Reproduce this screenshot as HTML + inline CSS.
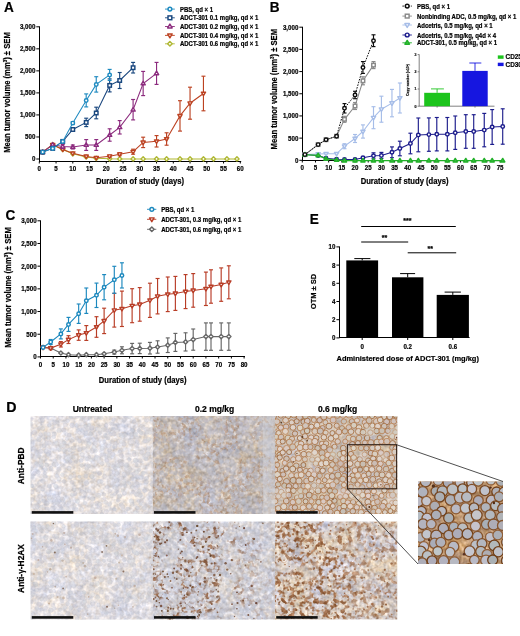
<!DOCTYPE html>
<html><head><meta charset="utf-8"><title>Figure</title>
<style>
html,body{margin:0;padding:0;background:#fff;}
body{width:520px;height:636px;overflow:hidden;}
svg{display:block;}
text{font-family:"Liberation Sans",Arial,sans-serif;font-weight:bold;stroke:#000;stroke-width:0.22px;}
</style></head><body>
<svg width="520" height="636" viewBox="0 0 520 636">
<defs><filter id="jp" x="0" y="0" width="100%" height="100%"><feGaussianBlur stdDeviation="0.28"/></filter></defs>
<rect width="520" height="636" fill="#fff"/>
<defs><filter id="blur5" x="-5%" y="-5%" width="110%" height="110%"><feGaussianBlur stdDeviation="0.5"/></filter><filter id="blur7" x="-5%" y="-5%" width="110%" height="110%"><feGaussianBlur stdDeviation="0.7"/></filter><linearGradient id="gl" x1="0" x2="1" y1="0" y2="0"><stop offset="0" stop-color="#fff"/><stop offset="0.55" stop-color="#e8e8e8"/><stop offset="0.8" stop-color="#666"/><stop offset="1" stop-color="#333"/></linearGradient><linearGradient id="gl3" x1="0" x2="1" y1="0" y2="0"><stop offset="0" stop-color="#fff"/><stop offset="0.5" stop-color="#fff"/><stop offset="0.75" stop-color="#999"/><stop offset="1" stop-color="#aaa"/></linearGradient><filter id="tx0" color-interpolation-filters="sRGB" x="0" y="0" width="100%" height="100%"><feTurbulence type="fractalNoise" baseFrequency="0.25" numOctaves="2" seed="11" result="t1"/><feColorMatrix in="t1" type="matrix" values="0.299 0.100 0 0 0.301  0.299 0.033 0 0 0.334  0.299 -0.066 0 0 0.384  0 0 0 0 1" result="c1"/><feTurbulence type="fractalNoise" baseFrequency="0.045" numOctaves="3" seed="61" result="t2"/><feColorMatrix in="t2" type="matrix" values="0.133 0.100 0 0 0.778  0.133 0.033 0 0 0.791  0.133 -0.100 0 0 0.858  0 0 0 0 1" result="c2"/><feComposite in="c1" in2="c2" operator="arithmetic" k1="0" k2="1" k3="1" k4="-0.5" result="c3"/><feGaussianBlur in="c3" stdDeviation="0.5"/></filter><filter id="tx1" color-interpolation-filters="sRGB" x="0" y="0" width="100%" height="100%"><feTurbulence type="fractalNoise" baseFrequency="0.25" numOctaves="2" seed="18" result="t1"/><feColorMatrix in="t1" type="matrix" values="0.366 0.066 0 0 0.284  0.366 0.000 0 0 0.317  0.366 -0.100 0 0 0.367  0 0 0 0 1" result="c1"/><feTurbulence type="fractalNoise" baseFrequency="0.045" numOctaves="3" seed="68" result="t2"/><feColorMatrix in="t2" type="matrix" values="0.166 0.133 0 0 0.627  0.166 0.033 0 0 0.645  0.166 -0.166 0 0 0.729  0 0 0 0 1" result="c2"/><feComposite in="c1" in2="c2" operator="arithmetic" k1="0" k2="1" k3="1" k4="-0.5" result="c3"/><feGaussianBlur in="c3" stdDeviation="0.5"/></filter><filter id="st1" color-interpolation-filters="sRGB" x="0" y="0" width="100%" height="100%"><feTurbulence type="fractalNoise" baseFrequency="0.28" numOctaves="2" seed="41" result="n"/><feColorMatrix in="n" type="matrix" values="0 0.399 0 0 0.499  0 0.399 0 0 0.350  0 0.399 0 0 0.232  5.000 0 0 0 -2.300" result="blob"/><feComponentTransfer in="blob" result="blob2"><feFuncA type="linear" slope="0.6" intercept="0"/></feComponentTransfer><feTurbulence type="fractalNoise" baseFrequency="0.05" numOctaves="2" seed="58" result="m"/><feColorMatrix in="m" type="matrix" values="0 0 0 0 0  0 0 0 0 0  0 0 0 0 0  5.000 0 0 0 -1.900" result="mask"/><feComposite in="blob2" in2="mask" operator="in" result="res"/><feGaussianBlur in="res" stdDeviation="0.45"/></filter><filter id="tx2" color-interpolation-filters="sRGB" x="0" y="0" width="100%" height="100%"><feTurbulence type="fractalNoise" baseFrequency="0.25" numOctaves="2" seed="25" result="t1"/><feColorMatrix in="t1" type="matrix" values="0.299 0.100 0 0 0.301  0.299 0.033 0 0 0.334  0.299 -0.100 0 0 0.400  0 0 0 0 1" result="c1"/><feTurbulence type="fractalNoise" baseFrequency="0.045" numOctaves="3" seed="75" result="t2"/><feColorMatrix in="t2" type="matrix" values="0.166 0.166 0 0 0.626  0.166 0.066 0 0 0.629  0.166 -0.166 0 0 0.706  0 0 0 0 1" result="c2"/><feComposite in="c1" in2="c2" operator="arithmetic" k1="0" k2="1" k3="1" k4="-0.5" result="c3"/><feGaussianBlur in="c3" stdDeviation="0.5"/></filter><filter id="tx3" color-interpolation-filters="sRGB" x="0" y="0" width="100%" height="100%"><feTurbulence type="fractalNoise" baseFrequency="0.25" numOctaves="2" seed="32" result="t1"/><feColorMatrix in="t1" type="matrix" values="0.299 0.100 0 0 0.301  0.299 0.033 0 0 0.334  0.299 -0.066 0 0 0.384  0 0 0 0 1" result="c1"/><feTurbulence type="fractalNoise" baseFrequency="0.045" numOctaves="3" seed="82" result="t2"/><feColorMatrix in="t2" type="matrix" values="0.133 0.100 0 0 0.778  0.133 0.033 0 0 0.791  0.133 -0.100 0 0 0.858  0 0 0 0 1" result="c2"/><feComposite in="c1" in2="c2" operator="arithmetic" k1="0" k2="1" k3="1" k4="-0.5" result="c3"/><feGaussianBlur in="c3" stdDeviation="0.5"/></filter><filter id="tx4" color-interpolation-filters="sRGB" x="0" y="0" width="100%" height="100%"><feTurbulence type="fractalNoise" baseFrequency="0.25" numOctaves="2" seed="39" result="t1"/><feColorMatrix in="t1" type="matrix" values="0.366 0.066 0 0 0.284  0.366 0.000 0 0 0.317  0.366 -0.100 0 0 0.367  0 0 0 0 1" result="c1"/><feTurbulence type="fractalNoise" baseFrequency="0.045" numOctaves="3" seed="89" result="t2"/><feColorMatrix in="t2" type="matrix" values="0.133 0.100 0 0 0.723  0.133 0.033 0 0 0.744  0.133 -0.100 0 0 0.823  0 0 0 0 1" result="c2"/><feComposite in="c1" in2="c2" operator="arithmetic" k1="0" k2="1" k3="1" k4="-0.5" result="c3"/><feGaussianBlur in="c3" stdDeviation="0.5"/></filter><filter id="st4" color-interpolation-filters="sRGB" x="0" y="0" width="100%" height="100%"><feTurbulence type="fractalNoise" baseFrequency="0.22" numOctaves="2" seed="55" result="n"/><feColorMatrix in="n" type="matrix" values="0 0.532 0 0 0.267  0 0.532 0 0 0.071  0 0.532 0 0 -0.054  6.000 0 0 0 -3.000" result="blob"/><feComponentTransfer in="blob" result="blob2"><feFuncA type="linear" slope="0.9" intercept="0"/></feComponentTransfer><feTurbulence type="fractalNoise" baseFrequency="0.05" numOctaves="2" seed="72" result="m"/><feColorMatrix in="m" type="matrix" values="0 0 0 0 0  0 0 0 0 0  0 0 0 0 0  6.000 0 0 0 -2.280" result="mask"/><feComposite in="blob2" in2="mask" operator="in" result="res"/><feGaussianBlur in="res" stdDeviation="0.45"/></filter><filter id="tx5" color-interpolation-filters="sRGB" x="0" y="0" width="100%" height="100%"><feTurbulence type="fractalNoise" baseFrequency="0.25" numOctaves="2" seed="46" result="t1"/><feColorMatrix in="t1" type="matrix" values="0.366 0.100 0 0 0.267  0.366 0.033 0 0 0.301  0.366 -0.100 0 0 0.367  0 0 0 0 1" result="c1"/><feTurbulence type="fractalNoise" baseFrequency="0.045" numOctaves="3" seed="96" result="t2"/><feColorMatrix in="t2" type="matrix" values="0.166 0.166 0 0 0.681  0.166 0.066 0 0 0.692  0.166 -0.166 0 0 0.784  0 0 0 0 1" result="c2"/><feComposite in="c1" in2="c2" operator="arithmetic" k1="0" k2="1" k3="1" k4="-0.5" result="c3"/><feGaussianBlur in="c3" stdDeviation="0.5"/></filter><filter id="st5" color-interpolation-filters="sRGB" x="0" y="0" width="100%" height="100%"><feTurbulence type="fractalNoise" baseFrequency="0.21" numOctaves="2" seed="63" result="n"/><feColorMatrix in="n" type="matrix" values="0 0.598 0 0 0.289  0 0.598 0 0 0.077  0 0.598 0 0 -0.072  5.500 0 0 0 -2.585" result="blob"/><feComponentTransfer in="blob" result="blob2"><feFuncA type="linear" slope="0.88" intercept="0"/></feComponentTransfer><feTurbulence type="fractalNoise" baseFrequency="0.05" numOctaves="2" seed="80" result="m"/><feColorMatrix in="m" type="matrix" values="0 0 0 0 0  0 0 0 0 0  0 0 0 0 0  5.000 0 0 0 -1.300" result="mask"/><feComposite in="blob2" in2="mask" operator="in" result="res"/><feGaussianBlur in="res" stdDeviation="0.45"/></filter><filter id="txI" color-interpolation-filters="sRGB" x="0" y="0" width="100%" height="100%"><feTurbulence type="fractalNoise" baseFrequency="0.25" numOctaves="2" seed="77" result="t1"/><feColorMatrix in="t1" type="matrix" values="0.399 0.100 0 0 0.251  0.399 0.033 0 0 0.284  0.399 -0.100 0 0 0.350  0 0 0 0 1" result="c1"/><feTurbulence type="fractalNoise" baseFrequency="0.045" numOctaves="3" seed="127" result="t2"/><feColorMatrix in="t2" type="matrix" values="0.266 0.166 0 0 0.537  0.266 0.066 0 0 0.446  0.266 -0.166 0 0 0.429  0 0 0 0 1" result="c2"/><feComposite in="c1" in2="c2" operator="arithmetic" k1="0" k2="1" k3="1" k4="-0.5" result="c3"/><feGaussianBlur in="c3" stdDeviation="0.5"/></filter></defs><clipPath id="cp0"><rect x="30.6" y="416.0" width="122.3" height="98.0"/></clipPath><g clip-path="url(#cp0)"><rect x="30.6" y="416.0" width="122.3" height="98.0" filter="url(#tx0)"/><g filter="url(#blur5)"><g opacity="0.45"><g stroke="#b2b6c8" stroke-width="0.5"><circle cx="27.6" cy="409.9" r="1.9" fill="#d1d5dd"/><circle cx="31.8" cy="410.7" r="1.8" fill="#d2d5e2"/><circle cx="39.5" cy="411.8" r="2.3" fill="#c7c9d8"/><circle cx="49.6" cy="412.5" r="2.2" fill="#c6cad4"/><circle cx="57" cy="413" r="2.1" fill="#d0d4e2"/><circle cx="62.9" cy="410.7" r="2.2" fill="#ced3df"/><circle cx="72.9" cy="410.6" r="1.7" fill="#cbd1de"/><circle cx="77" cy="412.9" r="2" fill="#d3d7e1"/><circle cx="83.1" cy="411.2" r="2.3" fill="#cdcfdb"/><circle cx="86.6" cy="412.6" r="1.9" fill="#c9ccd7"/><circle cx="92.4" cy="411.6" r="1.8" fill="#c6c9d4"/><circle cx="101.8" cy="409.9" r="1.8" fill="#c9ccd3"/><circle cx="117.5" cy="412" r="1.9" fill="#cbcbda"/><circle cx="123.5" cy="410.8" r="2" fill="#cbcedc"/><circle cx="126.7" cy="410.3" r="1.8" fill="#c6c8d1"/><circle cx="132.5" cy="412.5" r="1.8" fill="#cacbd7"/><circle cx="142.1" cy="410.3" r="1.7" fill="#ccd2db"/><circle cx="149.8" cy="412.6" r="2.3" fill="#c4c7d6"/><circle cx="151.6" cy="411.6" r="1.9" fill="#cad0d7"/><circle cx="158.3" cy="411.5" r="1.7" fill="#d4d7e4"/><circle cx="25" cy="415" r="2.3" fill="#d4d8e1"/><circle cx="50.9" cy="414.6" r="2.3" fill="#d0d5de"/><circle cx="60.5" cy="417.5" r="2.2" fill="#d3d2df"/><circle cx="71.4" cy="416.5" r="2" fill="#ccd0d9"/><circle cx="77" cy="416.4" r="2.2" fill="#ccccda"/><circle cx="80.5" cy="415.7" r="1.8" fill="#c6cfd5"/><circle cx="89.9" cy="417.2" r="1.9" fill="#c6cad1"/><circle cx="95.8" cy="417" r="2.2" fill="#cacbd5"/><circle cx="100.6" cy="417.5" r="2.2" fill="#c7ced4"/><circle cx="125.4" cy="415.9" r="2.3" fill="#c5c6d2"/><circle cx="129.3" cy="416.5" r="2.3" fill="#c4c9d3"/><circle cx="145.8" cy="415.6" r="1.9" fill="#c7ced4"/><circle cx="154.5" cy="416.2" r="2.2" fill="#cccdd9"/><circle cx="28.9" cy="421.4" r="1.7" fill="#d4d5e2"/><circle cx="31.5" cy="419.1" r="1.7" fill="#d0cedd"/><circle cx="39.7" cy="420.8" r="1.8" fill="#d6d6e3"/><circle cx="42.4" cy="420" r="2.2" fill="#d4d4e0"/><circle cx="67.7" cy="420.8" r="1.7" fill="#d1d3df"/><circle cx="84.5" cy="420.3" r="2" fill="#c7ccd6"/><circle cx="86.4" cy="418.9" r="2.3" fill="#d2d0df"/><circle cx="113.6" cy="419.6" r="1.9" fill="#c5c7d7"/><circle cx="124" cy="420.2" r="2.2" fill="#c5c7d3"/><circle cx="134.3" cy="421.4" r="1.9" fill="#c7c8d4"/><circle cx="146.6" cy="420" r="2.2" fill="#d4d5e2"/><circle cx="152.1" cy="419" r="2" fill="#cdd3df"/><circle cx="157.5" cy="421.4" r="2" fill="#d0d3df"/><circle cx="26.9" cy="423.9" r="1.8" fill="#cacdda"/><circle cx="30.8" cy="423.8" r="2.1" fill="#ced4dc"/><circle cx="49.4" cy="425.2" r="1.7" fill="#d5d8df"/><circle cx="54.6" cy="423.4" r="1.7" fill="#c7c7d3"/><circle cx="65.3" cy="425" r="2.1" fill="#d2d2e0"/><circle cx="72" cy="425.3" r="2.2" fill="#d0d1e1"/><circle cx="76.7" cy="425.5" r="2" fill="#ccd0dd"/><circle cx="85.4" cy="426.1" r="1.8" fill="#cad0da"/><circle cx="89" cy="425.1" r="1.8" fill="#d0d7e0"/><circle cx="106.2" cy="425.4" r="2" fill="#d0cfdb"/><circle cx="110.4" cy="423.5" r="1.8" fill="#d0d1db"/><circle cx="141.2" cy="426.2" r="1.8" fill="#d1d4dd"/><circle cx="39.2" cy="428.3" r="1.8" fill="#c9cdda"/><circle cx="42.6" cy="428.6" r="2" fill="#d3d7dd"/><circle cx="59" cy="430.5" r="2.3" fill="#d1d6dd"/><circle cx="63.6" cy="430" r="2.2" fill="#c6c6d5"/><circle cx="78.3" cy="430.9" r="2.2" fill="#cad0db"/><circle cx="82" cy="430.8" r="1.8" fill="#c3c8d3"/><circle cx="87.9" cy="428.5" r="2.3" fill="#ced0da"/><circle cx="91.8" cy="427.9" r="2.2" fill="#cdccda"/><circle cx="97.4" cy="429.1" r="2.1" fill="#d0d6df"/><circle cx="102.7" cy="429.6" r="2" fill="#c6cbd2"/><circle cx="107.2" cy="430.2" r="1.7" fill="#cac9d3"/><circle cx="113.4" cy="429.5" r="2.1" fill="#c7c8d6"/><circle cx="132.5" cy="430.5" r="2" fill="#c6ccd8"/><circle cx="139" cy="430.4" r="2" fill="#c4c9d4"/><circle cx="143.3" cy="427.8" r="2" fill="#c9cdda"/><circle cx="146.4" cy="429.5" r="2.2" fill="#c9cddb"/><circle cx="151.7" cy="429.6" r="2.3" fill="#cfd0dd"/><circle cx="30.1" cy="434.2" r="1.8" fill="#c8ccd4"/><circle cx="34.3" cy="432.6" r="2.2" fill="#d6d4e0"/><circle cx="40.6" cy="434.7" r="1.9" fill="#cfceda"/><circle cx="46.1" cy="434" r="2.1" fill="#cbced8"/><circle cx="49" cy="434.3" r="1.9" fill="#c7cfda"/><circle cx="54.3" cy="434.3" r="2.2" fill="#ced2dc"/><circle cx="66.8" cy="434.3" r="1.7" fill="#d5d7e4"/><circle cx="69.2" cy="435.1" r="1.9" fill="#c9cad9"/><circle cx="79.4" cy="432.7" r="1.7" fill="#d2d3e1"/><circle cx="85.9" cy="433.3" r="2.2" fill="#d3d5df"/><circle cx="90.7" cy="434" r="2.1" fill="#c7ced9"/><circle cx="100.1" cy="432.8" r="1.8" fill="#c4cad4"/><circle cx="105.2" cy="435.3" r="1.9" fill="#c8ccd4"/><circle cx="110.3" cy="434.4" r="1.9" fill="#c4c6d3"/><circle cx="114.2" cy="433.9" r="2.2" fill="#cbcad9"/><circle cx="121.1" cy="435.3" r="2.2" fill="#d0d6dc"/><circle cx="124.9" cy="435" r="2.2" fill="#c8cdd5"/><circle cx="131.4" cy="434.4" r="2.1" fill="#c8cbd3"/><circle cx="136" cy="434.8" r="2.2" fill="#cdd2da"/><circle cx="141" cy="432.7" r="2" fill="#c5ccd3"/><circle cx="147.1" cy="432.2" r="2.1" fill="#c6cad4"/><circle cx="150" cy="432.6" r="2.1" fill="#caced7"/><circle cx="154.1" cy="434" r="1.7" fill="#d3d7e2"/><circle cx="39" cy="439.4" r="2.2" fill="#cbcdd5"/><circle cx="43.4" cy="437.1" r="1.9" fill="#c8cbd5"/><circle cx="48.7" cy="438.1" r="1.7" fill="#cdd0d8"/><circle cx="53.9" cy="436.9" r="1.8" fill="#ced4e1"/><circle cx="67.2" cy="438.8" r="1.9" fill="#d3d5e1"/><circle cx="72.9" cy="439.7" r="2.2" fill="#d1d3de"/><circle cx="76.9" cy="438" r="1.8" fill="#cbcbd9"/><circle cx="87.7" cy="439.5" r="2.2" fill="#cacdd9"/><circle cx="93.6" cy="439.3" r="1.8" fill="#d3d2df"/><circle cx="107.9" cy="438" r="1.9" fill="#c8cdda"/><circle cx="148.5" cy="439.4" r="2.1" fill="#cbd2dc"/><circle cx="25.2" cy="443.6" r="1.9" fill="#c6ccd8"/><circle cx="31.5" cy="442.3" r="2.3" fill="#cbcfdb"/><circle cx="47.1" cy="442.7" r="2.3" fill="#ccccda"/><circle cx="49.2" cy="443" r="2.2" fill="#cbcfde"/><circle cx="56.7" cy="443.4" r="2.2" fill="#cbd0da"/><circle cx="64.2" cy="442.4" r="1.8" fill="#cdd6e0"/><circle cx="71.9" cy="440.8" r="1.8" fill="#cacad4"/><circle cx="79.6" cy="440.7" r="2" fill="#cccddc"/><circle cx="89" cy="443.6" r="2.2" fill="#c8d0d7"/><circle cx="95.3" cy="443.2" r="2.2" fill="#d6d5e0"/><circle cx="104.2" cy="441.7" r="1.8" fill="#c4c7d2"/><circle cx="112" cy="441.8" r="2.1" fill="#c7c8d2"/><circle cx="115.3" cy="443.5" r="1.9" fill="#ccccda"/><circle cx="121.3" cy="441.6" r="2.1" fill="#cdd1db"/><circle cx="124.3" cy="444.1" r="2.2" fill="#c7cbd9"/><circle cx="132.3" cy="441.7" r="1.9" fill="#cbccd7"/><circle cx="137" cy="441.8" r="1.8" fill="#d1d1de"/><circle cx="144.8" cy="440.9" r="1.9" fill="#d0d1de"/><circle cx="29.2" cy="447.5" r="2.1" fill="#cacad7"/><circle cx="31.6" cy="445.4" r="2.1" fill="#ced2de"/><circle cx="44.1" cy="445.7" r="2" fill="#cbcdd8"/><circle cx="61.6" cy="445.5" r="2.3" fill="#c9ced8"/><circle cx="73.6" cy="448" r="2.2" fill="#d5d8e1"/><circle cx="83.9" cy="448.2" r="2" fill="#ccccd4"/><circle cx="88" cy="446.4" r="2" fill="#cdd1d8"/><circle cx="93.9" cy="447.1" r="2.1" fill="#d1d7de"/><circle cx="102.2" cy="448.3" r="2.2" fill="#cfd2d9"/><circle cx="108.6" cy="446" r="2.2" fill="#d5d6e2"/><circle cx="114.7" cy="446.4" r="2.2" fill="#c6c9d8"/><circle cx="136.4" cy="445.1" r="2.1" fill="#cbccd9"/><circle cx="148.5" cy="448.4" r="2.1" fill="#c7cbd6"/><circle cx="25.8" cy="450.5" r="1.8" fill="#d0d3dc"/><circle cx="37" cy="452.3" r="1.8" fill="#ceced8"/><circle cx="40.5" cy="451.4" r="2.3" fill="#c8c6d0"/><circle cx="46.2" cy="451.1" r="2.2" fill="#d3d6e1"/><circle cx="48.9" cy="452.9" r="2.2" fill="#d3d1de"/><circle cx="59.6" cy="449.5" r="1.9" fill="#cfd6dd"/><circle cx="64.3" cy="450.3" r="1.9" fill="#d0d4dc"/><circle cx="69.6" cy="449.8" r="2.1" fill="#d0d5e0"/><circle cx="79.8" cy="449.6" r="2.2" fill="#c2c4d5"/><circle cx="87.3" cy="450.9" r="1.7" fill="#d6d6e1"/><circle cx="91.8" cy="451" r="2.3" fill="#d1d0db"/><circle cx="95.6" cy="450.8" r="1.9" fill="#c5c9d3"/><circle cx="109.4" cy="450.3" r="2" fill="#c7c5cf"/><circle cx="120" cy="451.5" r="1.8" fill="#c2c5d4"/><circle cx="133.9" cy="452.2" r="1.9" fill="#c2c7d6"/><circle cx="141.6" cy="452.4" r="2.1" fill="#ccccda"/><circle cx="155.7" cy="452.9" r="1.9" fill="#d0cfda"/><circle cx="31.5" cy="455.8" r="1.9" fill="#cbccd9"/><circle cx="39.1" cy="456.2" r="1.9" fill="#c5c9d6"/><circle cx="48" cy="454.2" r="1.9" fill="#d1d4e0"/><circle cx="59" cy="457.2" r="2.1" fill="#d3d6de"/><circle cx="68.7" cy="456.3" r="1.9" fill="#ced1da"/><circle cx="73.1" cy="457.1" r="2.2" fill="#c4c9d2"/><circle cx="82.2" cy="454.5" r="2.1" fill="#d0d3de"/><circle cx="89" cy="457.3" r="1.9" fill="#cacad5"/><circle cx="96.6" cy="457.1" r="2.1" fill="#c7cad9"/><circle cx="101.9" cy="454.6" r="1.9" fill="#c6c7d5"/><circle cx="109.4" cy="455.8" r="2.3" fill="#c7cdd5"/><circle cx="112.7" cy="454.3" r="2.2" fill="#cecedb"/><circle cx="121.4" cy="455.7" r="2.1" fill="#cdccdc"/><circle cx="134.3" cy="454.8" r="1.9" fill="#d0cfdb"/><circle cx="144.4" cy="455.5" r="1.9" fill="#cbceda"/><circle cx="147.9" cy="453.9" r="2.2" fill="#d1d6de"/><circle cx="154.2" cy="454" r="1.8" fill="#c2c7d1"/><circle cx="26.6" cy="459.3" r="1.9" fill="#cdd0db"/><circle cx="41" cy="460.9" r="2.1" fill="#ccd0d8"/><circle cx="55" cy="460.9" r="2.1" fill="#d3d7e4"/><circle cx="67.3" cy="460.4" r="1.9" fill="#cbd0d6"/><circle cx="70.6" cy="461.5" r="1.8" fill="#c9c9d8"/><circle cx="81.1" cy="460.4" r="1.9" fill="#d2d5e2"/><circle cx="87.3" cy="459" r="1.9" fill="#c8cdd9"/><circle cx="91" cy="460.1" r="1.8" fill="#cfd4da"/><circle cx="95.9" cy="458.6" r="1.8" fill="#cad1dc"/><circle cx="99.2" cy="461.1" r="2.3" fill="#cfd1de"/><circle cx="106.8" cy="460.3" r="1.9" fill="#cccbdb"/><circle cx="120.2" cy="461.5" r="1.9" fill="#cccbd5"/><circle cx="129.2" cy="459.4" r="1.8" fill="#cfd3db"/><circle cx="135.4" cy="460.5" r="2.3" fill="#cdd2dc"/><circle cx="140.4" cy="460.9" r="2" fill="#c9c9d5"/><circle cx="146.1" cy="458.8" r="2.1" fill="#c2c8d1"/><circle cx="155.4" cy="460.6" r="2" fill="#d2d3de"/><circle cx="36.5" cy="463.5" r="2" fill="#c5ccd8"/><circle cx="41.5" cy="465" r="2.2" fill="#c2cad5"/><circle cx="46.7" cy="464.9" r="2.1" fill="#c5c9d0"/><circle cx="54.5" cy="464.5" r="2.2" fill="#c9cdd7"/><circle cx="56.7" cy="464.2" r="1.8" fill="#d1d2de"/><circle cx="62.3" cy="465.3" r="1.7" fill="#d3d3dd"/><circle cx="81.6" cy="465.6" r="1.8" fill="#cacfd6"/><circle cx="88.4" cy="466" r="1.9" fill="#ced5de"/><circle cx="102.2" cy="463.6" r="2" fill="#cfd3df"/><circle cx="108.3" cy="464.8" r="2.1" fill="#d1d4e0"/><circle cx="113.9" cy="465.8" r="2.1" fill="#cbcdd8"/><circle cx="118.2" cy="465.8" r="2.3" fill="#cdd1d7"/><circle cx="122" cy="464.5" r="2.1" fill="#d5d5e3"/><circle cx="126.7" cy="465.5" r="2.3" fill="#c7cdd3"/><circle cx="136.4" cy="464.9" r="1.7" fill="#cdd2dd"/><circle cx="153.5" cy="464.6" r="2.1" fill="#d1d4dc"/><circle cx="30.3" cy="469" r="2.1" fill="#d1d4dd"/><circle cx="45.5" cy="469.3" r="2" fill="#cfd3de"/><circle cx="51" cy="468.3" r="2" fill="#cfd2de"/><circle cx="59.1" cy="469" r="2" fill="#cacbd8"/><circle cx="69.1" cy="468.4" r="2.1" fill="#d2d7e4"/><circle cx="86.8" cy="468.6" r="1.7" fill="#d1d4dc"/><circle cx="115.3" cy="467.5" r="2" fill="#c4cad3"/><circle cx="126" cy="469.3" r="1.7" fill="#ced2e0"/><circle cx="129.3" cy="468.5" r="2.1" fill="#ced1d7"/><circle cx="139" cy="469.8" r="1.7" fill="#cbd1da"/><circle cx="29.4" cy="474.2" r="2.1" fill="#c9c8d3"/><circle cx="34.4" cy="473.2" r="2" fill="#c9c8d8"/><circle cx="38.6" cy="472.5" r="1.9" fill="#d6d6e0"/><circle cx="44.8" cy="472.9" r="1.7" fill="#cbccd8"/><circle cx="57.7" cy="472.4" r="1.9" fill="#c7cbd5"/><circle cx="62.4" cy="474.8" r="1.9" fill="#cfd5df"/><circle cx="99.7" cy="473.5" r="2.1" fill="#c7c5d1"/><circle cx="113.8" cy="472.4" r="1.9" fill="#d1d0df"/><circle cx="117.2" cy="473.3" r="2" fill="#cfd3df"/><circle cx="124.5" cy="474.5" r="2.3" fill="#d2d6e0"/><circle cx="127.9" cy="473.1" r="1.9" fill="#c7cad8"/><circle cx="133.5" cy="473.6" r="1.8" fill="#cac9d8"/><circle cx="136.5" cy="472.4" r="2" fill="#c5cdd3"/><circle cx="143.1" cy="473.2" r="2" fill="#d3d9e2"/><circle cx="158.5" cy="472.5" r="2" fill="#c3c9d3"/><circle cx="25" cy="476.4" r="2" fill="#cbcad8"/><circle cx="32.1" cy="477.2" r="1.8" fill="#c7ccd8"/><circle cx="45" cy="476.3" r="2" fill="#c7c9d5"/><circle cx="56.9" cy="476" r="2.1" fill="#d1d4e0"/><circle cx="58.9" cy="479" r="2" fill="#d6d9e2"/><circle cx="70.5" cy="476.8" r="2" fill="#d5d9e3"/><circle cx="74.4" cy="475.9" r="1.7" fill="#d5d3df"/><circle cx="79.4" cy="476.8" r="1.7" fill="#c3cbd3"/><circle cx="85.9" cy="476" r="2.1" fill="#c9ccd2"/><circle cx="91.8" cy="476.4" r="2.2" fill="#cfd5dc"/><circle cx="104.6" cy="476.3" r="2" fill="#cbccd9"/><circle cx="111.1" cy="477.1" r="1.9" fill="#c6cdd6"/><circle cx="121.3" cy="478.3" r="2.2" fill="#d3d2df"/><circle cx="131.8" cy="479" r="2.1" fill="#cbcad4"/><circle cx="137" cy="476.7" r="1.8" fill="#d2d5e1"/><circle cx="141.2" cy="477.2" r="2.3" fill="#cdd0dd"/><circle cx="146.5" cy="478.5" r="2.1" fill="#d0d4df"/><circle cx="152.3" cy="477.1" r="1.8" fill="#caccdb"/><circle cx="156.1" cy="477.5" r="1.8" fill="#c6c6d5"/><circle cx="27.2" cy="482.1" r="1.8" fill="#ccd0d9"/><circle cx="43" cy="481" r="2.3" fill="#c7cad3"/><circle cx="53.4" cy="481.7" r="2.2" fill="#c9cbd8"/><circle cx="64" cy="481.4" r="1.8" fill="#c5c7d3"/><circle cx="72" cy="482.2" r="1.9" fill="#cecfde"/><circle cx="86.4" cy="483.2" r="2.2" fill="#d1d3e1"/><circle cx="99.5" cy="481.6" r="2.1" fill="#cfd3e0"/><circle cx="101.5" cy="481.7" r="1.8" fill="#c3c7d1"/><circle cx="116.5" cy="480.6" r="2.2" fill="#d4d8e1"/><circle cx="123.8" cy="482.9" r="2.3" fill="#c7cad1"/><circle cx="129.3" cy="483.1" r="1.7" fill="#c5c9d6"/><circle cx="136.8" cy="483.4" r="2" fill="#cecfd9"/><circle cx="146.4" cy="481.9" r="2.2" fill="#c5c8d4"/><circle cx="31.7" cy="485.8" r="1.9" fill="#ccd3dd"/><circle cx="39.4" cy="487.6" r="1.8" fill="#c6c7d2"/><circle cx="49.3" cy="486.1" r="2.1" fill="#c5cbd7"/><circle cx="55.8" cy="486.3" r="2.2" fill="#c8cfd8"/><circle cx="61.1" cy="487.6" r="1.8" fill="#d2d5dd"/><circle cx="107.2" cy="487.1" r="2" fill="#ced0df"/><circle cx="115.4" cy="487.7" r="2.2" fill="#cbcfd7"/><circle cx="125.5" cy="486.1" r="1.7" fill="#d0d7e0"/><circle cx="132.1" cy="487.3" r="1.7" fill="#cfd4dc"/><circle cx="136.1" cy="487.7" r="1.8" fill="#d2d0dd"/><circle cx="152.1" cy="484.7" r="1.9" fill="#cccfd9"/><circle cx="28.2" cy="492.4" r="1.9" fill="#c5c8d2"/><circle cx="31.6" cy="492" r="2.2" fill="#d6d4e1"/><circle cx="38.2" cy="490" r="2.3" fill="#d4d6e0"/><circle cx="42.7" cy="489.2" r="1.9" fill="#c3c8d3"/><circle cx="74.1" cy="489.8" r="1.9" fill="#cfd4de"/><circle cx="81.9" cy="491.5" r="1.9" fill="#d1d4e1"/><circle cx="89" cy="491.2" r="1.9" fill="#cacfdd"/><circle cx="109.8" cy="490.9" r="1.8" fill="#d2d2e0"/><circle cx="116.4" cy="491.5" r="2" fill="#c8c8d4"/><circle cx="122.7" cy="490.8" r="1.8" fill="#c4ccd5"/><circle cx="132.9" cy="491.9" r="1.7" fill="#cbcad7"/><circle cx="138.8" cy="491.3" r="2" fill="#c7ccd4"/><circle cx="144.4" cy="490.6" r="1.9" fill="#c8cad8"/><circle cx="152.9" cy="492.1" r="1.8" fill="#c5c8d4"/><circle cx="157.4" cy="490.4" r="2" fill="#c6c9d0"/><circle cx="40.2" cy="496.3" r="2.3" fill="#ccccd6"/><circle cx="48.9" cy="496.7" r="2.1" fill="#cacddd"/><circle cx="54.2" cy="496.6" r="1.9" fill="#d0d2df"/><circle cx="72.3" cy="494.6" r="1.9" fill="#cfd7dd"/><circle cx="75" cy="493.8" r="2" fill="#cfcedc"/><circle cx="84.7" cy="493.5" r="1.9" fill="#d1d3dd"/><circle cx="97.3" cy="495.1" r="2.1" fill="#c9ccd8"/><circle cx="99" cy="495.4" r="2.1" fill="#c9ced7"/><circle cx="103.9" cy="494.6" r="1.8" fill="#ccced7"/><circle cx="111.6" cy="496" r="1.8" fill="#d0d6e1"/><circle cx="114.9" cy="494.1" r="1.8" fill="#d2d5df"/><circle cx="119.3" cy="496.1" r="2.3" fill="#c5cbd7"/><circle cx="124.4" cy="493.5" r="1.9" fill="#d4d6e3"/><circle cx="136.6" cy="494.3" r="2.1" fill="#c8ccd9"/><circle cx="140.3" cy="495.3" r="2.2" fill="#c5c9d2"/><circle cx="150.3" cy="493.5" r="1.9" fill="#cbceda"/><circle cx="31.7" cy="499.5" r="2.3" fill="#c8cbd4"/><circle cx="38" cy="499.2" r="1.9" fill="#d5d3e0"/><circle cx="43.6" cy="500.9" r="1.7" fill="#d0d4df"/><circle cx="49.7" cy="498.2" r="2" fill="#caced6"/><circle cx="54.1" cy="500.8" r="1.8" fill="#d4d6e2"/><circle cx="58.4" cy="498.2" r="2.1" fill="#d0d2df"/><circle cx="62.3" cy="499.4" r="2.3" fill="#c9ccd7"/><circle cx="77.5" cy="501.2" r="2.2" fill="#cbd2da"/><circle cx="92.5" cy="498.8" r="2.3" fill="#c8ccd5"/><circle cx="104.4" cy="498.5" r="1.7" fill="#d5d4e4"/><circle cx="118.4" cy="500.5" r="1.9" fill="#c7c8d3"/><circle cx="131.4" cy="501" r="2.3" fill="#cfd5df"/><circle cx="139.4" cy="501.2" r="2.2" fill="#d4d5df"/><circle cx="141.4" cy="501.1" r="2.2" fill="#c5c4d0"/><circle cx="157.4" cy="498.5" r="2" fill="#c3c4d4"/><circle cx="24.4" cy="504.5" r="1.8" fill="#c8c7d3"/><circle cx="30.1" cy="503.2" r="1.8" fill="#c4c7d5"/><circle cx="39.3" cy="502.3" r="1.7" fill="#ccd0da"/><circle cx="47.1" cy="503.4" r="2.2" fill="#c6c7d0"/><circle cx="57.2" cy="503.3" r="2.1" fill="#c5c9d5"/><circle cx="60" cy="505.7" r="2" fill="#cecdda"/><circle cx="65.3" cy="505.5" r="1.8" fill="#c8ccd9"/><circle cx="69" cy="502.7" r="1.9" fill="#c7cad5"/><circle cx="74.4" cy="505.7" r="1.8" fill="#cacfd8"/><circle cx="84.8" cy="502.9" r="1.9" fill="#cdd1d9"/><circle cx="91.7" cy="503.1" r="2.1" fill="#cccbd8"/><circle cx="96.8" cy="503.4" r="2.2" fill="#cdcdda"/><circle cx="99.8" cy="504.4" r="2" fill="#ced5dc"/><circle cx="105.9" cy="502.4" r="2" fill="#ccd0d8"/><circle cx="109.7" cy="504" r="2" fill="#c4cad6"/><circle cx="121.1" cy="504.6" r="2.1" fill="#c9cad7"/><circle cx="132" cy="504.5" r="2.1" fill="#cfd3dc"/><circle cx="140.5" cy="504.5" r="1.7" fill="#ccd3dc"/><circle cx="150.2" cy="502.6" r="1.7" fill="#c7ccd9"/><circle cx="156.4" cy="503.9" r="2.2" fill="#cacdd4"/><circle cx="37.2" cy="506.8" r="2.1" fill="#d0d4e3"/><circle cx="41.5" cy="506.8" r="1.8" fill="#c4ccd5"/><circle cx="47.3" cy="509.1" r="2.2" fill="#d5d6e0"/><circle cx="52.8" cy="508.6" r="2.3" fill="#d2d4e1"/><circle cx="63.2" cy="510.1" r="2.2" fill="#c4c8d3"/><circle cx="67.5" cy="508.5" r="2" fill="#cbced7"/><circle cx="74.1" cy="508.6" r="1.8" fill="#cbcfde"/><circle cx="76.4" cy="509.5" r="2" fill="#cfd2de"/><circle cx="81.5" cy="509.5" r="2.1" fill="#d1d2de"/><circle cx="92.8" cy="509.3" r="2.2" fill="#c9cfda"/><circle cx="99.6" cy="507.1" r="2.3" fill="#cbccdb"/><circle cx="114.4" cy="509.2" r="1.8" fill="#c4cad5"/><circle cx="122.8" cy="506.9" r="2.2" fill="#c9cad5"/><circle cx="127.7" cy="509.1" r="2" fill="#ced1dd"/><circle cx="137.3" cy="507.9" r="1.9" fill="#ced1db"/><circle cx="144.1" cy="508.1" r="2.1" fill="#d2d7e0"/><circle cx="151.9" cy="508.4" r="2.1" fill="#d1d2d9"/><circle cx="157" cy="509.7" r="2.1" fill="#d5d3e1"/><circle cx="25.4" cy="512.4" r="2" fill="#d3d3df"/><circle cx="30.6" cy="513.4" r="1.9" fill="#c7ccd8"/><circle cx="43.9" cy="513.8" r="1.9" fill="#ccd3e0"/><circle cx="55.4" cy="513.4" r="2" fill="#cfcfdc"/><circle cx="96.8" cy="514.5" r="1.8" fill="#d4d6de"/><circle cx="101.8" cy="514.3" r="2.1" fill="#c5c9d6"/><circle cx="106.4" cy="511.6" r="2.1" fill="#d2d3e0"/><circle cx="124.2" cy="513" r="1.8" fill="#d2d1dd"/><circle cx="135.3" cy="512.4" r="2" fill="#d1d9e0"/><circle cx="146.2" cy="513.8" r="2.3" fill="#d3d6de"/><circle cx="156.4" cy="511.8" r="2.1" fill="#caccd6"/><circle cx="27.7" cy="515.7" r="2.1" fill="#c7ced5"/><circle cx="32.5" cy="518.3" r="2.3" fill="#c9ccd9"/><circle cx="47" cy="518.2" r="2.1" fill="#ced1dd"/><circle cx="57.8" cy="517" r="2.2" fill="#cfd2dd"/><circle cx="68.4" cy="518.6" r="1.8" fill="#c6cad5"/><circle cx="74" cy="518" r="1.9" fill="#c5c8d2"/><circle cx="79.2" cy="517" r="1.7" fill="#ced2de"/><circle cx="82.1" cy="516" r="1.7" fill="#d2d5e0"/><circle cx="99.6" cy="517.9" r="2.1" fill="#ced3df"/><circle cx="102.3" cy="517.2" r="2" fill="#c2cbd6"/><circle cx="109.6" cy="517.5" r="2.1" fill="#c6c8cf"/><circle cx="116.7" cy="517" r="1.9" fill="#c8cbd4"/><circle cx="122.8" cy="518.3" r="1.7" fill="#cbcfdb"/><circle cx="152.6" cy="516.8" r="1.9" fill="#c7cad8"/></g></g></g></g><clipPath id="cp1"><rect x="152.8" y="416.0" width="122.3" height="98.0"/></clipPath><g clip-path="url(#cp1)"><rect x="152.8" y="416.0" width="122.3" height="98.0" filter="url(#tx1)"/><rect x="152.8" y="416.0" width="122.3" height="98.0" filter="url(#st1)"/><g filter="url(#blur5)"><g opacity="0.45"><g stroke="#b2b6c8" stroke-width="0.5"><circle cx="151.3" cy="411.6" r="2" fill="#b5b4c9"/><circle cx="160.1" cy="411.8" r="2.3" fill="#bcc0d2"/><circle cx="181.1" cy="411.5" r="2.3" fill="#b9c1d0"/><circle cx="191.8" cy="411.9" r="1.7" fill="#bcbccd"/><circle cx="194.6" cy="413.1" r="1.9" fill="#afb5c1"/><circle cx="205.6" cy="410.8" r="2.2" fill="#b3b7c9"/><circle cx="209.4" cy="411.5" r="1.8" fill="#b8bacd"/><circle cx="221.9" cy="411.9" r="2" fill="#b8b7c6"/><circle cx="224.1" cy="410.3" r="2.1" fill="#b6b7c8"/><circle cx="231.4" cy="409.9" r="1.9" fill="#bec2cf"/><circle cx="234.7" cy="412.1" r="2" fill="#b7b7ca"/><circle cx="241.9" cy="411.7" r="1.9" fill="#bab9ca"/><circle cx="250" cy="411.1" r="2.2" fill="#b4b6c9"/><circle cx="254" cy="410" r="2.3" fill="#afb1c1"/><circle cx="261.9" cy="411.5" r="2" fill="#bbb8ca"/><circle cx="271.6" cy="411.8" r="2.3" fill="#c0bed0"/><circle cx="275.7" cy="410.4" r="1.8" fill="#b9b7cb"/><circle cx="280.6" cy="412" r="1.8" fill="#bcbbcf"/><circle cx="153.1" cy="414.3" r="2" fill="#c3bfd5"/><circle cx="156.7" cy="415" r="2.1" fill="#bdc1cf"/><circle cx="163.9" cy="415.8" r="2.3" fill="#b2b9c9"/><circle cx="169.1" cy="414.9" r="2.2" fill="#b9bacd"/><circle cx="174.2" cy="415" r="1.9" fill="#afb5c5"/><circle cx="177.9" cy="414.9" r="1.7" fill="#babfd0"/><circle cx="181.5" cy="414.9" r="2.3" fill="#bbbccd"/><circle cx="186.9" cy="415" r="1.9" fill="#b9b8c9"/><circle cx="191.4" cy="415.8" r="2.1" fill="#bcbed1"/><circle cx="197.1" cy="416.5" r="1.9" fill="#b3b4c1"/><circle cx="203.1" cy="416.7" r="2.3" fill="#b1b4c0"/><circle cx="224.1" cy="417.3" r="2" fill="#b3b4c4"/><circle cx="231.2" cy="417.4" r="2.1" fill="#bbbace"/><circle cx="241.7" cy="416.2" r="1.8" fill="#c1bfd0"/><circle cx="248.3" cy="417.3" r="2" fill="#bbc1d2"/><circle cx="254.1" cy="416.7" r="1.7" fill="#b3b0c4"/><circle cx="264" cy="416.1" r="2.1" fill="#b5b7c5"/><circle cx="267.6" cy="417.5" r="2.2" fill="#b4b5c6"/><circle cx="272.9" cy="416.1" r="1.8" fill="#babccc"/><circle cx="277.5" cy="417.3" r="2" fill="#bdc4ce"/><circle cx="150.4" cy="420.5" r="2.1" fill="#bdbcd1"/><circle cx="165" cy="421.9" r="2" fill="#babcc8"/><circle cx="176.4" cy="418.7" r="1.8" fill="#b7bac6"/><circle cx="185.9" cy="420.3" r="1.8" fill="#b6bbc8"/><circle cx="201.1" cy="420.2" r="1.8" fill="#bbbece"/><circle cx="205.8" cy="420.4" r="2.1" fill="#b6b4c6"/><circle cx="210.7" cy="418.8" r="2" fill="#bbbece"/><circle cx="223.9" cy="421.6" r="2.2" fill="#bcc1cf"/><circle cx="233.6" cy="421.1" r="2.1" fill="#c0c1d4"/><circle cx="245.7" cy="421.9" r="2.1" fill="#b2b0c4"/><circle cx="250.8" cy="421.4" r="2.1" fill="#bebecf"/><circle cx="259.7" cy="419.3" r="2.3" fill="#b7bccd"/><circle cx="271.7" cy="421.9" r="1.8" fill="#b1b3c3"/><circle cx="275.9" cy="420.8" r="2" fill="#babacc"/><circle cx="281.8" cy="421.1" r="2.2" fill="#b7bac9"/><circle cx="152.7" cy="424" r="2.2" fill="#bcc3d2"/><circle cx="158.8" cy="423.4" r="1.8" fill="#bdc1cf"/><circle cx="162" cy="426.3" r="1.8" fill="#bdc0d0"/><circle cx="166.4" cy="425.7" r="1.8" fill="#bbbccc"/><circle cx="173.4" cy="425.8" r="1.7" fill="#b0b2c2"/><circle cx="196.1" cy="425.1" r="2.3" fill="#afb1c3"/><circle cx="203.3" cy="424.8" r="1.9" fill="#b1b7c5"/><circle cx="218.8" cy="424.7" r="2.3" fill="#babacb"/><circle cx="223.7" cy="425.9" r="1.7" fill="#bbbccf"/><circle cx="234.1" cy="423.8" r="1.9" fill="#b5bdca"/><circle cx="236.9" cy="423.5" r="1.8" fill="#bbb8c8"/><circle cx="241.2" cy="423.9" r="1.9" fill="#b5b2c6"/><circle cx="247.5" cy="426.3" r="2.2" fill="#bcbbcf"/><circle cx="253.4" cy="423.1" r="2" fill="#b4b5c4"/><circle cx="261.5" cy="425" r="2.2" fill="#b3b4c2"/><circle cx="267.8" cy="425.4" r="2.2" fill="#b1b6c5"/><circle cx="277.2" cy="423.7" r="2" fill="#b2b3c7"/><circle cx="150.8" cy="428.3" r="1.7" fill="#b5bccd"/><circle cx="154.8" cy="430.5" r="2.1" fill="#b9bbca"/><circle cx="159.4" cy="428.8" r="2.3" fill="#bebdd1"/><circle cx="165.5" cy="429.8" r="2.1" fill="#bdc0cf"/><circle cx="174.8" cy="427.5" r="2" fill="#bcbed1"/><circle cx="179.1" cy="428.7" r="1.7" fill="#b8b9c8"/><circle cx="194.4" cy="429.9" r="2" fill="#b4bbc7"/><circle cx="210.8" cy="429.8" r="1.9" fill="#bbbdcd"/><circle cx="215.6" cy="430.7" r="2.1" fill="#b5b3c7"/><circle cx="220.5" cy="430.9" r="1.9" fill="#b7bbca"/><circle cx="225.5" cy="428.1" r="2.3" fill="#b3b0c4"/><circle cx="241" cy="428.3" r="2.2" fill="#b9bbcd"/><circle cx="244.2" cy="428.3" r="2.3" fill="#bcbcce"/><circle cx="256" cy="429.5" r="2.2" fill="#bebfce"/><circle cx="259.7" cy="429.1" r="2.1" fill="#b1b5c2"/><circle cx="266.5" cy="427.6" r="1.9" fill="#bdbdcd"/><circle cx="270" cy="429.3" r="1.8" fill="#bbc0ce"/><circle cx="148" cy="432.1" r="1.8" fill="#b3b6c5"/><circle cx="152.5" cy="434.1" r="2.1" fill="#c0c0d2"/><circle cx="156.2" cy="435.3" r="1.7" fill="#b3b2c8"/><circle cx="179.2" cy="435.3" r="2.1" fill="#b5b8cb"/><circle cx="182.3" cy="433.1" r="1.8" fill="#b8b7cd"/><circle cx="188.7" cy="435.2" r="2.2" fill="#b0b2c7"/><circle cx="191.4" cy="431.9" r="1.8" fill="#b5bcca"/><circle cx="198.2" cy="433.8" r="2" fill="#b8bbc8"/><circle cx="201.3" cy="432.2" r="2.2" fill="#b3b4c4"/><circle cx="209.4" cy="433.1" r="1.9" fill="#b8b9cd"/><circle cx="212.5" cy="432.2" r="2.1" fill="#b6b8ca"/><circle cx="216.4" cy="432.5" r="1.8" fill="#bcbecc"/><circle cx="222.7" cy="432.1" r="1.8" fill="#aeb2c3"/><circle cx="231.1" cy="434" r="1.8" fill="#bdbfce"/><circle cx="238" cy="432.1" r="2.1" fill="#b6b9c8"/><circle cx="243.9" cy="433.2" r="1.9" fill="#b8b5c8"/><circle cx="246.7" cy="434.5" r="2" fill="#b7b5c7"/><circle cx="254" cy="433.5" r="2.2" fill="#b0b4c3"/><circle cx="258.7" cy="434.1" r="2.1" fill="#b1b1c4"/><circle cx="269.1" cy="433.1" r="1.8" fill="#b9bbce"/><circle cx="276.9" cy="432.3" r="2" fill="#bbbcc9"/><circle cx="149" cy="438" r="2.1" fill="#bfc0d0"/><circle cx="156.4" cy="439.7" r="1.9" fill="#b0b4c6"/><circle cx="160.4" cy="436.7" r="1.8" fill="#b7b7c6"/><circle cx="164.1" cy="438.3" r="1.8" fill="#bbbecd"/><circle cx="169.7" cy="439" r="2.1" fill="#b7b8c9"/><circle cx="186.2" cy="439.5" r="2.2" fill="#bcbfcb"/><circle cx="189" cy="438" r="1.8" fill="#bbb9cd"/><circle cx="194.5" cy="439.1" r="2.1" fill="#babdce"/><circle cx="200.8" cy="437.6" r="1.9" fill="#b9bfcc"/><circle cx="203.8" cy="437.5" r="1.8" fill="#bab9ce"/><circle cx="208.8" cy="436.7" r="1.8" fill="#b6b5c7"/><circle cx="230.7" cy="436.8" r="1.8" fill="#b8bacb"/><circle cx="240.2" cy="436.7" r="2.1" fill="#bfc2d2"/><circle cx="250.5" cy="437.5" r="1.9" fill="#bbbfce"/><circle cx="256.5" cy="437.7" r="2.1" fill="#bdc4d1"/><circle cx="270.1" cy="439.7" r="2.1" fill="#babdd0"/><circle cx="147" cy="443.6" r="1.7" fill="#b7b9c4"/><circle cx="159.5" cy="443" r="1.8" fill="#bcbcd0"/><circle cx="164.3" cy="441.2" r="1.9" fill="#b7bac5"/><circle cx="171.3" cy="443" r="1.8" fill="#babbcc"/><circle cx="188.1" cy="441" r="1.8" fill="#b4bacb"/><circle cx="191.9" cy="442" r="1.7" fill="#b6b6c7"/><circle cx="206.4" cy="444" r="1.9" fill="#b6bbcd"/><circle cx="213.4" cy="441.7" r="2.1" fill="#b4b9c5"/><circle cx="218.6" cy="440.8" r="1.9" fill="#bcbfcf"/><circle cx="221.6" cy="440.7" r="1.9" fill="#babccd"/><circle cx="239.2" cy="440.9" r="1.7" fill="#bdc0cf"/><circle cx="241.5" cy="441.7" r="2.1" fill="#bdbfcc"/><circle cx="247.2" cy="442.8" r="2" fill="#bcbecc"/><circle cx="251.2" cy="442.7" r="2.1" fill="#b5b7c8"/><circle cx="259.5" cy="443.2" r="1.9" fill="#b0b4c0"/><circle cx="262.4" cy="443.5" r="2.1" fill="#bdc0d0"/><circle cx="266.2" cy="441.6" r="2.3" fill="#c0bfd2"/><circle cx="149.6" cy="445.2" r="2.1" fill="#bfc1d1"/><circle cx="156.8" cy="448.5" r="1.8" fill="#bdbfcc"/><circle cx="166.2" cy="446.9" r="2.2" fill="#bfc0d3"/><circle cx="171.8" cy="445.7" r="2.1" fill="#bec4d3"/><circle cx="174.6" cy="445.2" r="2" fill="#b7b9ca"/><circle cx="186.5" cy="447.7" r="2.3" fill="#bbbdcf"/><circle cx="194.2" cy="446.9" r="2.2" fill="#b6b6ca"/><circle cx="200.1" cy="446.1" r="2.2" fill="#b3b6c5"/><circle cx="210.2" cy="445.5" r="2.2" fill="#b7bdce"/><circle cx="221.2" cy="445.7" r="1.9" fill="#bfc0d1"/><circle cx="226.4" cy="446.1" r="1.9" fill="#bcb9cb"/><circle cx="236.2" cy="445.3" r="1.7" fill="#b3b4c6"/><circle cx="251.7" cy="447.2" r="2.1" fill="#bcc0d0"/><circle cx="259.1" cy="445.7" r="1.8" fill="#bfc0d0"/><circle cx="274.8" cy="445.7" r="1.8" fill="#bebecb"/><circle cx="158.6" cy="452.4" r="2.2" fill="#b1b4c7"/><circle cx="161.9" cy="449.8" r="1.8" fill="#b8bdd0"/><circle cx="178.3" cy="451.8" r="1.9" fill="#b1b2c5"/><circle cx="181.2" cy="451.7" r="2.3" fill="#b7b8c9"/><circle cx="188.1" cy="451.5" r="2.3" fill="#bcbecd"/><circle cx="192" cy="452.8" r="2.1" fill="#bebccf"/><circle cx="196.9" cy="452.6" r="1.9" fill="#b1b2c5"/><circle cx="201.1" cy="452.7" r="1.8" fill="#bfc1d0"/><circle cx="211.2" cy="450" r="2.1" fill="#b3b2c4"/><circle cx="217.3" cy="450.2" r="1.8" fill="#b9bcca"/><circle cx="224.3" cy="451.7" r="1.8" fill="#b6b6c5"/><circle cx="232.2" cy="449.8" r="1.8" fill="#b6b7ca"/><circle cx="237.1" cy="452" r="2.2" fill="#b1b7c4"/><circle cx="243.6" cy="449.5" r="1.9" fill="#bec3d2"/><circle cx="248.7" cy="451.7" r="1.9" fill="#bbbecd"/><circle cx="251.2" cy="450.2" r="2.3" fill="#afb6c3"/><circle cx="259.1" cy="449.8" r="1.7" fill="#b5b5c5"/><circle cx="263.4" cy="450.1" r="2.1" fill="#b0b3c0"/><circle cx="266.3" cy="452.8" r="1.9" fill="#babbca"/><circle cx="151" cy="454.1" r="2" fill="#b6b7c3"/><circle cx="154.7" cy="455.2" r="1.8" fill="#b7b7c8"/><circle cx="166" cy="457" r="1.9" fill="#b7b7c7"/><circle cx="168.6" cy="454.8" r="2.1" fill="#b1b0c0"/><circle cx="174.3" cy="454.5" r="1.9" fill="#bcbfce"/><circle cx="185.2" cy="454.1" r="1.9" fill="#bdbecb"/><circle cx="189.4" cy="457" r="2" fill="#bbbecf"/><circle cx="199.5" cy="454.7" r="1.7" fill="#bdc0d0"/><circle cx="210.9" cy="455.7" r="2.3" fill="#b4b5c3"/><circle cx="214.1" cy="457.2" r="2" fill="#b8bdc8"/><circle cx="219.9" cy="456.4" r="2.3" fill="#b0b5c5"/><circle cx="224.6" cy="454.4" r="1.9" fill="#bbc1cc"/><circle cx="235.8" cy="454.5" r="2.3" fill="#b3b9c9"/><circle cx="238.9" cy="456.4" r="1.9" fill="#b5b3c3"/><circle cx="253.6" cy="454" r="2.2" fill="#bbbdd0"/><circle cx="271" cy="454.6" r="2.2" fill="#b8becd"/><circle cx="280.1" cy="454.9" r="2.1" fill="#bbbfcf"/><circle cx="147.5" cy="461.4" r="1.7" fill="#b9bac7"/><circle cx="157.2" cy="460.8" r="2.2" fill="#c0c2ce"/><circle cx="163.3" cy="460.1" r="2.3" fill="#b3b7c7"/><circle cx="167.4" cy="459.8" r="2.2" fill="#bab8cc"/><circle cx="177.1" cy="461" r="2.2" fill="#b9bccb"/><circle cx="186.3" cy="458.9" r="1.9" fill="#b8b7cb"/><circle cx="191.7" cy="459.1" r="2.2" fill="#bcbecf"/><circle cx="196.7" cy="460.5" r="2" fill="#b3b5c6"/><circle cx="203.6" cy="460.6" r="1.7" fill="#b6b7c6"/><circle cx="214.1" cy="458.9" r="1.8" fill="#babbd0"/><circle cx="221.2" cy="461.6" r="2.2" fill="#b4bacc"/><circle cx="227" cy="461.2" r="1.8" fill="#bfc0cf"/><circle cx="232.4" cy="461.5" r="2.1" fill="#b8b5c5"/><circle cx="248.1" cy="461.1" r="1.8" fill="#b6b8c7"/><circle cx="253" cy="459.9" r="2.2" fill="#b9b7ca"/><circle cx="257.5" cy="460.1" r="1.8" fill="#b1b5c7"/><circle cx="262.1" cy="460" r="2" fill="#b9bfcb"/><circle cx="266.3" cy="460" r="2.3" fill="#afb5c1"/><circle cx="272.4" cy="460.3" r="2.1" fill="#b5b6c7"/><circle cx="277.5" cy="461.5" r="2" fill="#c0bece"/><circle cx="170.2" cy="464.4" r="1.8" fill="#bec2d2"/><circle cx="176.5" cy="465.7" r="2.2" fill="#b4b9c4"/><circle cx="179" cy="465.8" r="2.1" fill="#bfbfcf"/><circle cx="190.4" cy="462.7" r="1.8" fill="#b8bac8"/><circle cx="196.8" cy="464.5" r="2.3" fill="#bab6c7"/><circle cx="204.8" cy="463.8" r="1.9" fill="#b3b5c2"/><circle cx="212" cy="463.5" r="1.8" fill="#bbc0cf"/><circle cx="220.3" cy="465.7" r="1.8" fill="#bcbccb"/><circle cx="231.1" cy="464.8" r="1.8" fill="#b4bac7"/><circle cx="234.5" cy="464.6" r="2.1" fill="#b7bac7"/><circle cx="254" cy="465.1" r="2" fill="#b5b8c6"/><circle cx="261.1" cy="463.8" r="1.7" fill="#bbbed3"/><circle cx="266" cy="464.4" r="2.2" fill="#bcbacc"/><circle cx="281.8" cy="465.9" r="2.1" fill="#bab7c6"/><circle cx="158.8" cy="467.5" r="1.9" fill="#bfbccf"/><circle cx="166.8" cy="469.8" r="2" fill="#b6bbc7"/><circle cx="181.5" cy="470.5" r="1.9" fill="#b4b2c3"/><circle cx="198.6" cy="467.8" r="1.9" fill="#b8bbc7"/><circle cx="201.5" cy="467.4" r="2.2" fill="#c0c0d1"/><circle cx="208.8" cy="470.4" r="2.1" fill="#bbbecf"/><circle cx="213.1" cy="468.5" r="2.2" fill="#b9bcca"/><circle cx="217.2" cy="467.6" r="1.8" fill="#bfc3cd"/><circle cx="228.3" cy="469.8" r="2.2" fill="#bbbacc"/><circle cx="234.2" cy="468.7" r="2" fill="#bdbdcd"/><circle cx="243.6" cy="468.9" r="2.2" fill="#b7bac8"/><circle cx="247.3" cy="470.4" r="1.9" fill="#c1c0ce"/><circle cx="251.2" cy="469.8" r="1.8" fill="#b4b5c5"/><circle cx="257" cy="468.1" r="1.8" fill="#bdbdcf"/><circle cx="273.2" cy="467.9" r="2.2" fill="#b2b3c7"/><circle cx="278.2" cy="468.8" r="2.3" fill="#b8b9c6"/><circle cx="161.8" cy="472.8" r="2.2" fill="#b8bccb"/><circle cx="165.4" cy="474.5" r="1.9" fill="#adb1c0"/><circle cx="171.2" cy="471.9" r="1.9" fill="#b9b8c9"/><circle cx="174.9" cy="473.2" r="2" fill="#b2b5c4"/><circle cx="180.3" cy="473.8" r="1.7" fill="#babbca"/><circle cx="210.3" cy="473.8" r="1.9" fill="#b4b5c9"/><circle cx="226.5" cy="474.8" r="2.2" fill="#bdbbcc"/><circle cx="231.9" cy="472.2" r="1.7" fill="#b8b8c9"/><circle cx="244.8" cy="473.6" r="2.2" fill="#bcc1cc"/><circle cx="250" cy="471.8" r="2.1" fill="#bebdd2"/><circle cx="255.2" cy="474.6" r="2.3" fill="#bcbac8"/><circle cx="261.5" cy="472.4" r="1.9" fill="#bfc2d1"/><circle cx="266.6" cy="473.3" r="2.1" fill="#bab7c6"/><circle cx="276.9" cy="473.8" r="1.9" fill="#b4b5c8"/><circle cx="280.9" cy="471.6" r="1.9" fill="#b3b9c8"/><circle cx="171.9" cy="477.8" r="1.8" fill="#b7bbc8"/><circle cx="176.5" cy="477.4" r="1.8" fill="#b1b5c6"/><circle cx="182.9" cy="475.9" r="1.9" fill="#b9b8c6"/><circle cx="192" cy="476.5" r="2" fill="#b2b0bf"/><circle cx="204.3" cy="477.4" r="2" fill="#b9b8ca"/><circle cx="219.4" cy="476.1" r="2.2" fill="#bec0ce"/><circle cx="221.6" cy="477.3" r="2.1" fill="#b8b8ca"/><circle cx="231.7" cy="477.3" r="1.9" fill="#b0b4c3"/><circle cx="256.3" cy="477.1" r="2.1" fill="#b4b5c6"/><circle cx="263.4" cy="477.3" r="1.9" fill="#b3b4c2"/><circle cx="266.2" cy="478.3" r="2.1" fill="#bbb8ce"/><circle cx="148.6" cy="480.6" r="1.9" fill="#afb4c3"/><circle cx="153.8" cy="481.4" r="1.9" fill="#bbbbcc"/><circle cx="164.2" cy="482.4" r="2.1" fill="#bec0cd"/><circle cx="173.9" cy="483.5" r="1.9" fill="#bebfce"/><circle cx="180.1" cy="483.3" r="1.8" fill="#b8b6c8"/><circle cx="184.9" cy="481.2" r="1.8" fill="#b3b9c8"/><circle cx="189.1" cy="480.5" r="1.8" fill="#bdbfd2"/><circle cx="201.6" cy="482.8" r="1.9" fill="#b5b4c2"/><circle cx="208.9" cy="481.4" r="2.2" fill="#bcbbce"/><circle cx="217" cy="480.8" r="1.8" fill="#bdc1cf"/><circle cx="226.9" cy="483.2" r="2.3" fill="#b9bbcc"/><circle cx="230.8" cy="482.7" r="1.9" fill="#bfc0d2"/><circle cx="235.1" cy="482" r="2.1" fill="#c2c0d0"/><circle cx="248.8" cy="482.8" r="1.8" fill="#b5b9c4"/><circle cx="256.6" cy="480.7" r="2" fill="#b7b9cb"/><circle cx="261.7" cy="480.5" r="2.1" fill="#b8becd"/><circle cx="264.8" cy="482.2" r="2.3" fill="#b5b2c2"/><circle cx="270.8" cy="480.4" r="2" fill="#bbbed0"/><circle cx="275.4" cy="481.8" r="1.8" fill="#b0b4c5"/><circle cx="146.4" cy="485.4" r="1.7" fill="#b3b9c7"/><circle cx="158.5" cy="486.7" r="2" fill="#b7b6c8"/><circle cx="167.5" cy="485.9" r="2" fill="#bbbdcf"/><circle cx="171.8" cy="487.1" r="2" fill="#b5bac9"/><circle cx="187.6" cy="487.6" r="2.1" fill="#babacc"/><circle cx="203.4" cy="487" r="1.8" fill="#b5b7c5"/><circle cx="207.2" cy="485.8" r="2" fill="#b7b5c9"/><circle cx="224.2" cy="484.9" r="1.7" fill="#b9bbc9"/><circle cx="229.4" cy="487.7" r="1.8" fill="#b1b0c0"/><circle cx="248.5" cy="487.5" r="1.8" fill="#b6b6c8"/><circle cx="252.4" cy="486.1" r="1.7" fill="#afb4c4"/><circle cx="160.5" cy="489.2" r="1.9" fill="#b9becd"/><circle cx="164.8" cy="490.4" r="1.8" fill="#bcbdcd"/><circle cx="178.9" cy="490.9" r="1.9" fill="#b0b6c1"/><circle cx="184.3" cy="489.9" r="1.9" fill="#b4b5c6"/><circle cx="191.1" cy="492.5" r="2.1" fill="#b7b7c7"/><circle cx="196" cy="491.8" r="2.2" fill="#c0c0d2"/><circle cx="209.2" cy="490.4" r="2.2" fill="#b7b6c8"/><circle cx="219.5" cy="490" r="1.9" fill="#b8b7c6"/><circle cx="225.7" cy="489.9" r="1.9" fill="#bbbecc"/><circle cx="231.6" cy="491.5" r="1.8" fill="#b2b9c5"/><circle cx="235.7" cy="492" r="1.7" fill="#bdc0ce"/><circle cx="239.8" cy="489.7" r="1.8" fill="#b0b6c6"/><circle cx="243.9" cy="489.3" r="1.9" fill="#b5b8c8"/><circle cx="256" cy="490.1" r="1.9" fill="#c1c0d3"/><circle cx="259.8" cy="489.3" r="2.2" fill="#bbbece"/><circle cx="264.1" cy="489.6" r="2.2" fill="#bcc0cf"/><circle cx="268.6" cy="490" r="2" fill="#bcc3d0"/><circle cx="273.7" cy="490.6" r="1.9" fill="#c0c4d2"/><circle cx="281.8" cy="490.9" r="2.1" fill="#b8b7c8"/><circle cx="173.9" cy="493.6" r="2.1" fill="#b6b9c8"/><circle cx="176.5" cy="496.5" r="1.8" fill="#b4b7c7"/><circle cx="181.1" cy="494.8" r="2.3" fill="#bbb8c9"/><circle cx="188.3" cy="495.9" r="1.9" fill="#b0b6c5"/><circle cx="191.8" cy="494.9" r="2.1" fill="#b6bbcb"/><circle cx="202.3" cy="494" r="2" fill="#bdc2d1"/><circle cx="213.3" cy="496.1" r="1.8" fill="#babccd"/><circle cx="219.4" cy="495" r="1.8" fill="#c1c2d3"/><circle cx="232.7" cy="494.6" r="2.1" fill="#b6b9cc"/><circle cx="242" cy="494.4" r="2" fill="#b3b5c7"/><circle cx="179.6" cy="500.9" r="2.3" fill="#b7b9cb"/><circle cx="183.9" cy="498.4" r="2.2" fill="#c0c3d0"/><circle cx="197" cy="499.9" r="1.9" fill="#bec1cf"/><circle cx="201.2" cy="498.8" r="1.8" fill="#bbbfcc"/><circle cx="206.8" cy="498.1" r="1.9" fill="#bcbbcc"/><circle cx="211.5" cy="499" r="1.7" fill="#b8b7c8"/><circle cx="213.9" cy="501.3" r="1.7" fill="#b9bfcd"/><circle cx="221.5" cy="501.2" r="2.3" fill="#b6b6c9"/><circle cx="231.7" cy="500.8" r="2.1" fill="#b1b4c2"/><circle cx="236.4" cy="498.4" r="2.2" fill="#c2bfd1"/><circle cx="243.6" cy="499.7" r="1.8" fill="#b9b9ca"/><circle cx="249" cy="498.1" r="2.1" fill="#b0b6c1"/><circle cx="255.2" cy="499.8" r="2" fill="#bfbccc"/><circle cx="269" cy="498.9" r="2" fill="#babecd"/><circle cx="278.8" cy="498" r="1.7" fill="#b2b2c7"/><circle cx="146.8" cy="503.7" r="2" fill="#b2b7c3"/><circle cx="158.6" cy="503.3" r="1.8" fill="#bec1d2"/><circle cx="163.4" cy="505.3" r="2" fill="#b3b5c9"/><circle cx="182.1" cy="502.4" r="1.8" fill="#b3b7c8"/><circle cx="188.5" cy="505.3" r="1.8" fill="#b3b2c6"/><circle cx="196.4" cy="502.5" r="2.2" fill="#b3b3c3"/><circle cx="202.8" cy="505.1" r="2" fill="#b8bbcc"/><circle cx="211.5" cy="503.3" r="1.8" fill="#b3b8c9"/><circle cx="216.6" cy="502.8" r="2.2" fill="#bbbbcd"/><circle cx="223.4" cy="504.4" r="2.1" fill="#c0c1d0"/><circle cx="231.4" cy="502.9" r="2" fill="#bcc1d1"/><circle cx="236.8" cy="503.2" r="2.2" fill="#b8bdd0"/><circle cx="243.5" cy="502.6" r="2.1" fill="#afb6c1"/><circle cx="247" cy="505.5" r="1.8" fill="#b2b3c5"/><circle cx="257.5" cy="503.7" r="1.8" fill="#b5b3c8"/><circle cx="262" cy="504.6" r="2" fill="#b7bccb"/><circle cx="269.2" cy="505.3" r="1.8" fill="#c2c5d1"/><circle cx="271.3" cy="505.5" r="2" fill="#b5b8c7"/><circle cx="277.2" cy="504.9" r="2.3" fill="#afb2c1"/><circle cx="149.8" cy="508.9" r="1.9" fill="#b1b8c4"/><circle cx="154.8" cy="509" r="2.1" fill="#c0c2ce"/><circle cx="164.7" cy="507.9" r="2.2" fill="#aeb1c0"/><circle cx="175.9" cy="507.7" r="2" fill="#bcc0d2"/><circle cx="181.4" cy="509.5" r="2.1" fill="#bbc0d0"/><circle cx="184.8" cy="509.8" r="1.8" fill="#bcbfcb"/><circle cx="196.4" cy="508.7" r="1.8" fill="#bec2d2"/><circle cx="204.7" cy="508.6" r="2.2" fill="#bbbbcd"/><circle cx="211.9" cy="508.5" r="1.9" fill="#b9b7c7"/><circle cx="214.9" cy="506.9" r="1.9" fill="#bdbed0"/><circle cx="228.6" cy="510" r="2" fill="#bcbfd1"/><circle cx="234" cy="508.7" r="2" fill="#b3b8c9"/><circle cx="240" cy="506.7" r="1.8" fill="#b8b8cc"/><circle cx="244.7" cy="508.3" r="2.2" fill="#b8bbcc"/><circle cx="250" cy="509.4" r="2" fill="#b4b7c7"/><circle cx="260.3" cy="506.7" r="2.1" fill="#b9bacd"/><circle cx="265.7" cy="509.2" r="2" fill="#b5b8c4"/><circle cx="278.8" cy="509" r="1.8" fill="#bdbbd0"/><circle cx="149.3" cy="511.6" r="2.1" fill="#b9bcc9"/><circle cx="152.1" cy="512.8" r="2" fill="#b7b7ca"/><circle cx="158.8" cy="511.4" r="2.2" fill="#b9baca"/><circle cx="166.4" cy="511.8" r="2.2" fill="#b8bdca"/><circle cx="176.7" cy="512.2" r="1.7" fill="#b1b4c4"/><circle cx="204.1" cy="511.2" r="2.1" fill="#babccd"/><circle cx="207.7" cy="511.6" r="2.2" fill="#b2b2c3"/><circle cx="219.4" cy="514.5" r="2.3" fill="#b1b4c5"/><circle cx="232.5" cy="513.3" r="1.8" fill="#bdbecd"/><circle cx="238.5" cy="511.9" r="2.2" fill="#b2b7c6"/><circle cx="244.3" cy="511.8" r="1.8" fill="#b2b3c5"/><circle cx="247" cy="512.2" r="2.1" fill="#afb4c5"/><circle cx="253.6" cy="511.4" r="2.1" fill="#b1b3c5"/><circle cx="259.3" cy="511.4" r="2.2" fill="#b9becc"/><circle cx="272.7" cy="514" r="2.1" fill="#bbbece"/><circle cx="276.4" cy="512.6" r="2" fill="#bcbed1"/><circle cx="151.1" cy="515.9" r="1.8" fill="#c1c4d3"/><circle cx="155.4" cy="518.2" r="1.9" fill="#b7b9cb"/><circle cx="165.5" cy="517" r="1.7" fill="#b5b5c8"/><circle cx="168.6" cy="515.7" r="2.1" fill="#bfbecd"/><circle cx="176.2" cy="517.8" r="1.7" fill="#b5bbc8"/><circle cx="181.4" cy="518.6" r="1.9" fill="#b8bac7"/><circle cx="183.6" cy="516.7" r="1.8" fill="#b8bbce"/><circle cx="189.7" cy="517" r="2.2" fill="#b7b4c5"/><circle cx="195.1" cy="517.2" r="2.3" fill="#bdc4cf"/><circle cx="198.9" cy="516.8" r="1.8" fill="#bab8c8"/><circle cx="203.6" cy="516.4" r="1.7" fill="#c0c0d1"/><circle cx="210.2" cy="517.1" r="2.1" fill="#bec0d5"/><circle cx="215.6" cy="518.4" r="1.8" fill="#b5bbc8"/><circle cx="235.6" cy="517.8" r="2.2" fill="#bdbbcc"/><circle cx="240.5" cy="518.8" r="2.3" fill="#bcbcce"/><circle cx="255.1" cy="518.9" r="1.9" fill="#b2b7c3"/><circle cx="260" cy="516.8" r="1.7" fill="#bbbfcd"/><circle cx="266.3" cy="517.9" r="1.9" fill="#b8bac8"/></g></g><rect x="262.8" y="416.0" width="12" height="98.0" fill="#d4d6de" opacity="0.45"/></g></g><clipPath id="cp2"><rect x="275.0" y="416.0" width="122.3" height="98.0"/></clipPath><g clip-path="url(#cp2)"><rect x="275.0" y="416.0" width="122.3" height="98.0" filter="url(#tx2)"/><g filter="url(#blur5)"><g><circle cx="272.1" cy="410.8" r="2.8" fill="#cac0b7" stroke="#b68054" stroke-width="0.85"/><circle cx="279.5" cy="409.5" r="2.9" fill="#c7bab6" stroke="#b27c50" stroke-width="0.85"/><circle cx="285.3" cy="412" r="2.7" fill="#dbd2c9" stroke="#a87246" stroke-width="0.85"/><circle cx="291" cy="409.4" r="3" fill="#cbbfb5" stroke="#bc865a" stroke-width="0.85"/><circle cx="297.4" cy="409.5" r="2.6" fill="#c8bfb2" stroke="#b47e52" stroke-width="0.85"/><circle cx="301.1" cy="409.8" r="3.1" fill="#dbcec1" stroke="#a16b3f" stroke-width="0.85"/><circle cx="307.5" cy="410.6" r="2.8" fill="#d1bfbb" stroke="#9b6539" stroke-width="0.85"/><circle cx="314.4" cy="409.6" r="2.9" fill="#d8cdc4" stroke="#a46e42" stroke-width="0.85"/><circle cx="321.4" cy="410.5" r="3" fill="#d4c7bb" stroke="#a77145" stroke-width="0.85"/><circle cx="326.8" cy="411.3" r="2.9" fill="#d7cfc5" stroke="#a77145" stroke-width="0.85"/><circle cx="332.9" cy="409.9" r="2.5" fill="#dacdc2" stroke="#9d673b" stroke-width="0.85"/><circle cx="339.4" cy="411.1" r="3.1" fill="#dcd2c2" stroke="#bc865a" stroke-width="0.85"/><circle cx="345" cy="411" r="2.7" fill="#d6c9c1" stroke="#ac764a" stroke-width="0.85"/><circle cx="351.2" cy="411.4" r="2.7" fill="#d8cabe" stroke="#b47e52" stroke-width="0.85"/><circle cx="358.8" cy="409.1" r="2.9" fill="#d8ccc2" stroke="#b47e52" stroke-width="0.85"/><circle cx="364.2" cy="411.3" r="2.8" fill="#cfc4bb" stroke="#ba8458" stroke-width="0.85"/><circle cx="370.7" cy="411.5" r="2.7" fill="#dbcec4" stroke="#a67044" stroke-width="0.85"/><circle cx="375.3" cy="410" r="2.8" fill="#ddcfc7" stroke="#af794d" stroke-width="0.85"/><circle cx="380.9" cy="409.9" r="2.5" fill="#d9ccc5" stroke="#a97347" stroke-width="0.85"/><circle cx="387.6" cy="410.4" r="2.6" fill="#d2c5b8" stroke="#b27c50" stroke-width="0.85"/><circle cx="392.7" cy="410" r="2.9" fill="#ddcec7" stroke="#ad774b" stroke-width="0.85"/><circle cx="399.4" cy="410.1" r="2.6" fill="#ccbdb6" stroke="#a97347" stroke-width="0.85"/><circle cx="406" cy="411.7" r="2.9" fill="#d3c7ba" stroke="#a26c40" stroke-width="0.85"/><circle cx="269.8" cy="416.6" r="3.1" fill="#d9cfc1" stroke="#aa7448" stroke-width="0.85"/><circle cx="274" cy="416.5" r="2.5" fill="#c9bfb5" stroke="#aa7448" stroke-width="0.85"/><circle cx="280.8" cy="415.5" r="2.6" fill="#d4c6bb" stroke="#ae784c" stroke-width="0.85"/><circle cx="287.9" cy="416.1" r="2.8" fill="#d1c6ba" stroke="#9e683c" stroke-width="0.85"/><circle cx="293.8" cy="415" r="3" fill="#cec1b6" stroke="#ae784c" stroke-width="0.85"/><circle cx="299.4" cy="417.3" r="3.1" fill="#cdbfb7" stroke="#9f693d" stroke-width="0.85"/><circle cx="305.5" cy="416.6" r="2.7" fill="#cbc1b4" stroke="#a67044" stroke-width="0.85"/><circle cx="311.4" cy="414.5" r="2.7" fill="#cfc2b8" stroke="#ab7549" stroke-width="0.85"/><circle cx="317.5" cy="416.8" r="2.7" fill="#d7cbc5" stroke="#a46e42" stroke-width="0.85"/><circle cx="323.8" cy="416.9" r="3.1" fill="#d1c2b7" stroke="#9c663a" stroke-width="0.85"/><circle cx="329.4" cy="415.6" r="2.9" fill="#dfd3c7" stroke="#b17b4f" stroke-width="0.85"/><circle cx="337.3" cy="415.5" r="2.8" fill="#cbc1b7" stroke="#ad774b" stroke-width="0.85"/><circle cx="343" cy="415.3" r="3" fill="#d2c4bb" stroke="#bb8559" stroke-width="0.85"/><circle cx="349" cy="415.2" r="2.9" fill="#d0c2bb" stroke="#b78155" stroke-width="0.85"/><circle cx="354.7" cy="417.3" r="2.8" fill="#ccc2bb" stroke="#bc865a" stroke-width="0.85"/><circle cx="361" cy="414.6" r="2.7" fill="#ded1c4" stroke="#aa7448" stroke-width="0.85"/><circle cx="365.1" cy="416.2" r="2.9" fill="#d0c8be" stroke="#a97347" stroke-width="0.85"/><circle cx="372.1" cy="416" r="2.6" fill="#d8d2c7" stroke="#9d673b" stroke-width="0.85"/><circle cx="378.3" cy="415.2" r="3.1" fill="#cabdb4" stroke="#ad774b" stroke-width="0.85"/><circle cx="384.3" cy="416.9" r="2.6" fill="#dbd2c8" stroke="#9f693d" stroke-width="0.85"/><circle cx="389.8" cy="416.7" r="2.9" fill="#d7ccc6" stroke="#9e683c" stroke-width="0.85"/><circle cx="395.8" cy="414.9" r="3.1" fill="#d6ccbe" stroke="#a26c40" stroke-width="0.85"/><circle cx="404.4" cy="416.1" r="3.1" fill="#ccbfb5" stroke="#b78155" stroke-width="0.85"/><circle cx="273.4" cy="420.1" r="2.5" fill="#cbc0b3" stroke="#b07a4e" stroke-width="0.85"/><circle cx="276.9" cy="421.7" r="2.9" fill="#d2c6bf" stroke="#b98357" stroke-width="0.85"/><circle cx="285.6" cy="420.3" r="2.9" fill="#dbcec5" stroke="#ad774b" stroke-width="0.85"/><circle cx="291.7" cy="422.5" r="2.7" fill="#dccfc6" stroke="#a56f43" stroke-width="0.85"/><circle cx="296.7" cy="421.3" r="2.5" fill="#cfc0b6" stroke="#a06a3e" stroke-width="0.85"/><circle cx="303.7" cy="421.8" r="2.8" fill="#cabdb3" stroke="#9b6539" stroke-width="0.85"/><circle cx="307.3" cy="421.1" r="2.9" fill="#d4c5bf" stroke="#9c663a" stroke-width="0.85"/><circle cx="313.8" cy="420" r="2.5" fill="#d3c8bf" stroke="#b27c50" stroke-width="0.85"/><circle cx="319.6" cy="420.3" r="2.7" fill="#cfbfba" stroke="#a26c40" stroke-width="0.85"/><circle cx="325.4" cy="422.4" r="2.5" fill="#d1c7be" stroke="#b57f53" stroke-width="0.85"/><circle cx="333.1" cy="420.1" r="3" fill="#d1c2bd" stroke="#bd875b" stroke-width="0.85"/><circle cx="343.9" cy="421.5" r="2.6" fill="#c8c0b7" stroke="#ba8458" stroke-width="0.85"/><circle cx="351.9" cy="421.3" r="2.6" fill="#cbc0b8" stroke="#aa7448" stroke-width="0.85"/><circle cx="357" cy="420.5" r="2.5" fill="#dcd1c8" stroke="#b57f53" stroke-width="0.85"/><circle cx="364.8" cy="422.3" r="2.6" fill="#d5c6c0" stroke="#b47e52" stroke-width="0.85"/><circle cx="369.1" cy="420.6" r="3" fill="#cdc0b4" stroke="#ab7549" stroke-width="0.85"/><circle cx="376.5" cy="421.4" r="3.1" fill="#d6c6bd" stroke="#b57f53" stroke-width="0.85"/><circle cx="380.2" cy="420" r="2.8" fill="#dcd4cb" stroke="#ab7549" stroke-width="0.85"/><circle cx="386.6" cy="421.8" r="3" fill="#cfbfbb" stroke="#9e683c" stroke-width="0.85"/><circle cx="393.8" cy="421.2" r="2.9" fill="#d0c2bc" stroke="#b68054" stroke-width="0.85"/><circle cx="399" cy="420.2" r="3" fill="#d8cec6" stroke="#ac764a" stroke-width="0.85"/><circle cx="407" cy="421" r="3" fill="#ded1c7" stroke="#b27c50" stroke-width="0.85"/><circle cx="274.8" cy="427.6" r="2.7" fill="#cec3b5" stroke="#bb8559" stroke-width="0.85"/><circle cx="280.8" cy="427.6" r="2.7" fill="#dac9c4" stroke="#aa7448" stroke-width="0.85"/><circle cx="286.1" cy="426.8" r="2.8" fill="#d0c2bd" stroke="#b17b4f" stroke-width="0.85"/><circle cx="293" cy="427.4" r="2.9" fill="#ded3cb" stroke="#aa7448" stroke-width="0.85"/><circle cx="300.1" cy="427.9" r="2.9" fill="#dbd4c5" stroke="#b37d51" stroke-width="0.85"/><circle cx="305.5" cy="425.7" r="3" fill="#d0c5bd" stroke="#b78155" stroke-width="0.85"/><circle cx="311.4" cy="426.7" r="2.6" fill="#ddd1c7" stroke="#9f693d" stroke-width="0.85"/><circle cx="317" cy="425.3" r="2.9" fill="#ddd4cc" stroke="#ae784c" stroke-width="0.85"/><circle cx="322.6" cy="428.1" r="2.6" fill="#cbbdb8" stroke="#a97347" stroke-width="0.85"/><circle cx="329" cy="426.2" r="3" fill="#d5cabf" stroke="#a06a3e" stroke-width="0.85"/><circle cx="336.7" cy="425.7" r="2.6" fill="#d6c7bc" stroke="#aa7448" stroke-width="0.85"/><circle cx="342" cy="428.2" r="2.6" fill="#cbc0b1" stroke="#ac764a" stroke-width="0.85"/><circle cx="348.8" cy="427.5" r="2.8" fill="#d1c3ba" stroke="#b78155" stroke-width="0.85"/><circle cx="353.9" cy="425.3" r="3" fill="#d6cebf" stroke="#ac764a" stroke-width="0.85"/><circle cx="359" cy="427.6" r="2.9" fill="#ddd1c4" stroke="#a77145" stroke-width="0.85"/><circle cx="366.3" cy="425.6" r="2.8" fill="#d6c8bc" stroke="#aa7448" stroke-width="0.85"/><circle cx="372.4" cy="425.6" r="2.6" fill="#ded5cc" stroke="#a77145" stroke-width="0.85"/><circle cx="377.7" cy="426.3" r="3" fill="#e0d2c9" stroke="#ab7549" stroke-width="0.85"/><circle cx="384.2" cy="426.2" r="2.9" fill="#cec2b8" stroke="#a26c40" stroke-width="0.85"/><circle cx="391.7" cy="426.1" r="2.8" fill="#d7cbbe" stroke="#b98357" stroke-width="0.85"/><circle cx="397.7" cy="427.7" r="3" fill="#d6ccbf" stroke="#b07a4e" stroke-width="0.85"/><circle cx="402.1" cy="426.7" r="2.9" fill="#d1cbbc" stroke="#b88256" stroke-width="0.85"/><circle cx="271.4" cy="430.8" r="3" fill="#cbbeb4" stroke="#b37d51" stroke-width="0.85"/><circle cx="278.6" cy="433.2" r="2.7" fill="#ddd1c3" stroke="#a67044" stroke-width="0.85"/><circle cx="285.4" cy="431.4" r="3" fill="#e1d4c9" stroke="#bc865a" stroke-width="0.85"/><circle cx="295" cy="433.6" r="2.7" fill="#cfc1ba" stroke="#a16b3f" stroke-width="0.85"/><circle cx="303.1" cy="432.1" r="2.6" fill="#cdc1b5" stroke="#b57f53" stroke-width="0.85"/><circle cx="307.1" cy="430.9" r="2.8" fill="#d0c9bc" stroke="#9d673b" stroke-width="0.85"/><circle cx="314.9" cy="431.4" r="3" fill="#d7c9bc" stroke="#b27c50" stroke-width="0.85"/><circle cx="320.3" cy="431.1" r="3.1" fill="#c8beb7" stroke="#a67044" stroke-width="0.85"/><circle cx="325.7" cy="432.7" r="2.5" fill="#d7cec2" stroke="#b27c50" stroke-width="0.85"/><circle cx="332.4" cy="433.1" r="2.5" fill="#d7ccc3" stroke="#a16b3f" stroke-width="0.85"/><circle cx="338.8" cy="432" r="3" fill="#d9cac2" stroke="#ac764a" stroke-width="0.85"/><circle cx="344.9" cy="431.3" r="2.7" fill="#cbbfb3" stroke="#ae784c" stroke-width="0.85"/><circle cx="351" cy="431.7" r="2.8" fill="#d8cdc3" stroke="#a77145" stroke-width="0.85"/><circle cx="358.5" cy="431.5" r="3.1" fill="#dcd0c4" stroke="#b07a4e" stroke-width="0.85"/><circle cx="363" cy="432.3" r="2.9" fill="#d0c7ba" stroke="#a26c40" stroke-width="0.85"/><circle cx="370.4" cy="432.6" r="2.7" fill="#d2c7bf" stroke="#af794d" stroke-width="0.85"/><circle cx="376.7" cy="431" r="2.8" fill="#ccc3b7" stroke="#a16b3f" stroke-width="0.85"/><circle cx="382" cy="430.8" r="3" fill="#c9c0b4" stroke="#ba8458" stroke-width="0.85"/><circle cx="387.7" cy="430.9" r="2.6" fill="#cabeb8" stroke="#ab7549" stroke-width="0.85"/><circle cx="395.3" cy="432.3" r="2.6" fill="#c7c0b3" stroke="#b57f53" stroke-width="0.85"/><circle cx="400.3" cy="431.1" r="2.7" fill="#d6c9c2" stroke="#bb8559" stroke-width="0.85"/><circle cx="407.7" cy="433.4" r="3" fill="#cbbeb5" stroke="#9e683c" stroke-width="0.85"/><circle cx="268.7" cy="438.5" r="3.1" fill="#d0c8ba" stroke="#a16b3f" stroke-width="0.85"/><circle cx="276.1" cy="436.8" r="2.6" fill="#d5ccbd" stroke="#bc865a" stroke-width="0.85"/><circle cx="281.1" cy="437.1" r="2.9" fill="#cfc1b8" stroke="#b47e52" stroke-width="0.85"/><circle cx="288" cy="438.1" r="3" fill="#d5ccbc" stroke="#b37d51" stroke-width="0.85"/><circle cx="292" cy="438.8" r="2.6" fill="#d4c5b9" stroke="#ac764a" stroke-width="0.85"/><circle cx="299.8" cy="438.1" r="2.5" fill="#ddd3c9" stroke="#9d673b" stroke-width="0.85"/><circle cx="305" cy="436.3" r="2.7" fill="#d8ccc4" stroke="#a77145" stroke-width="0.85"/><circle cx="311.2" cy="437.7" r="2.8" fill="#dfd2cb" stroke="#af794d" stroke-width="0.85"/><circle cx="316.3" cy="438" r="2.7" fill="#d5cac1" stroke="#a56f43" stroke-width="0.85"/><circle cx="323.9" cy="437.3" r="2.8" fill="#dfd2c5" stroke="#a26c40" stroke-width="0.85"/><circle cx="331" cy="438.4" r="2.9" fill="#dcd0c5" stroke="#a06a3e" stroke-width="0.85"/><circle cx="335.9" cy="436.4" r="2.8" fill="#ded4c9" stroke="#ab7549" stroke-width="0.85"/><circle cx="349" cy="438.1" r="3.1" fill="#d5ccbf" stroke="#b98357" stroke-width="0.85"/><circle cx="353.1" cy="438.9" r="2.7" fill="#d1c7bc" stroke="#b37d51" stroke-width="0.85"/><circle cx="359" cy="438.1" r="2.8" fill="#d0c4b7" stroke="#b57f53" stroke-width="0.85"/><circle cx="367.1" cy="438" r="2.8" fill="#cec2b9" stroke="#9b6539" stroke-width="0.85"/><circle cx="379.7" cy="438.1" r="2.7" fill="#d0c9be" stroke="#a06a3e" stroke-width="0.85"/><circle cx="386.3" cy="438.2" r="2.6" fill="#dad0c1" stroke="#b07a4e" stroke-width="0.85"/><circle cx="392.3" cy="436.4" r="2.9" fill="#cfc7bb" stroke="#b98357" stroke-width="0.85"/><circle cx="397.2" cy="437.1" r="2.9" fill="#dcd0c6" stroke="#9d673b" stroke-width="0.85"/><circle cx="403.1" cy="437.1" r="2.5" fill="#dcd2c8" stroke="#ab7549" stroke-width="0.85"/><circle cx="272.2" cy="441.8" r="2.7" fill="#cfc0b8" stroke="#b78155" stroke-width="0.85"/><circle cx="279" cy="442.3" r="3" fill="#d9cbc0" stroke="#bd875b" stroke-width="0.85"/><circle cx="282.7" cy="441.5" r="2.5" fill="#d4c7bc" stroke="#9e683c" stroke-width="0.85"/><circle cx="289.4" cy="442.2" r="3" fill="#d1c6ba" stroke="#b47e52" stroke-width="0.85"/><circle cx="297.6" cy="444.4" r="3" fill="#d4cdc0" stroke="#b37d51" stroke-width="0.85"/><circle cx="301.1" cy="443.7" r="2.7" fill="#dccfc8" stroke="#a87246" stroke-width="0.85"/><circle cx="309.5" cy="441.5" r="2.9" fill="#d4c9be" stroke="#b88256" stroke-width="0.85"/><circle cx="314.9" cy="441.5" r="3.1" fill="#ded0c8" stroke="#a97347" stroke-width="0.85"/><circle cx="322" cy="443.6" r="2.5" fill="#dfd1ca" stroke="#a77145" stroke-width="0.85"/><circle cx="326.1" cy="443.5" r="2.7" fill="#d5c8be" stroke="#a67044" stroke-width="0.85"/><circle cx="333.3" cy="444.3" r="2.7" fill="#d5c7bf" stroke="#b88256" stroke-width="0.85"/><circle cx="337.7" cy="441.5" r="2.7" fill="#d6c9c2" stroke="#b07a4e" stroke-width="0.85"/><circle cx="345.2" cy="441.5" r="2.5" fill="#d3c3bb" stroke="#b68054" stroke-width="0.85"/><circle cx="352.3" cy="444.3" r="2.8" fill="#cabdb7" stroke="#9d673b" stroke-width="0.85"/><circle cx="357.9" cy="443.1" r="2.5" fill="#d4c7bf" stroke="#9e683c" stroke-width="0.85"/><circle cx="364.9" cy="442.6" r="2.5" fill="#d1c1bb" stroke="#b17b4f" stroke-width="0.85"/><circle cx="370.9" cy="442.6" r="3" fill="#cfc0b7" stroke="#b27c50" stroke-width="0.85"/><circle cx="377.1" cy="442.2" r="3.1" fill="#d5cabe" stroke="#ae784c" stroke-width="0.85"/><circle cx="381.3" cy="441.6" r="2.6" fill="#d9c9c4" stroke="#b37d51" stroke-width="0.85"/><circle cx="386.9" cy="441.4" r="3.1" fill="#cfc0b6" stroke="#ba8458" stroke-width="0.85"/><circle cx="392.6" cy="443.5" r="2.9" fill="#d9cbc1" stroke="#a16b3f" stroke-width="0.85"/><circle cx="400.4" cy="443.1" r="3" fill="#c7bcb0" stroke="#b17b4f" stroke-width="0.85"/><circle cx="407.4" cy="443.1" r="2.6" fill="#ddcfc7" stroke="#a56f43" stroke-width="0.85"/><circle cx="268.9" cy="448.3" r="3" fill="#c7bcb5" stroke="#9f693d" stroke-width="0.85"/><circle cx="276.3" cy="448.5" r="2.8" fill="#ccc0b8" stroke="#a16b3f" stroke-width="0.85"/><circle cx="280" cy="449" r="2.6" fill="#e1d3ca" stroke="#b88256" stroke-width="0.85"/><circle cx="286.6" cy="448.5" r="3.1" fill="#d8cac3" stroke="#bc865a" stroke-width="0.85"/><circle cx="292.7" cy="447" r="3.1" fill="#cdc2b5" stroke="#ba8458" stroke-width="0.85"/><circle cx="300" cy="447.6" r="3.1" fill="#d9cec4" stroke="#b47e52" stroke-width="0.85"/><circle cx="305.8" cy="447.1" r="3" fill="#dbccc5" stroke="#a97347" stroke-width="0.85"/><circle cx="310.4" cy="447" r="2.6" fill="#ccc0b8" stroke="#af794d" stroke-width="0.85"/><circle cx="317.6" cy="448.2" r="2.8" fill="#ccc1b5" stroke="#9c663a" stroke-width="0.85"/><circle cx="323.9" cy="447.2" r="3" fill="#d4c7be" stroke="#a56f43" stroke-width="0.85"/><circle cx="329.7" cy="449.7" r="3" fill="#ccbeb9" stroke="#a87246" stroke-width="0.85"/><circle cx="334.6" cy="446.7" r="2.5" fill="#d5cbc3" stroke="#af794d" stroke-width="0.85"/><circle cx="343.3" cy="448.2" r="2.9" fill="#d3c6bb" stroke="#a16b3f" stroke-width="0.85"/><circle cx="353.6" cy="448.1" r="2.7" fill="#ded5c7" stroke="#b47e52" stroke-width="0.85"/><circle cx="361.1" cy="448.1" r="2.7" fill="#cdc0b4" stroke="#b88256" stroke-width="0.85"/><circle cx="366.4" cy="448.3" r="2.6" fill="#cdc1b9" stroke="#aa7448" stroke-width="0.85"/><circle cx="372.4" cy="447.9" r="2.9" fill="#d5cac1" stroke="#ac764a" stroke-width="0.85"/><circle cx="377.8" cy="447.7" r="2.9" fill="#e1d4cb" stroke="#b07a4e" stroke-width="0.85"/><circle cx="392.2" cy="447.7" r="2.6" fill="#cabfb5" stroke="#b57f53" stroke-width="0.85"/><circle cx="395.9" cy="448.6" r="2.9" fill="#d8ccc3" stroke="#9d673b" stroke-width="0.85"/><circle cx="273.1" cy="454.5" r="3" fill="#cbbbb3" stroke="#a87246" stroke-width="0.85"/><circle cx="279.5" cy="454.7" r="2.5" fill="#cec6bc" stroke="#a36d41" stroke-width="0.85"/><circle cx="282.7" cy="452.5" r="2.6" fill="#dccfc6" stroke="#9b6539" stroke-width="0.85"/><circle cx="289.1" cy="452.1" r="2.5" fill="#d4c9bc" stroke="#9c663a" stroke-width="0.85"/><circle cx="297.7" cy="453.5" r="2.7" fill="#dcd1c6" stroke="#b17b4f" stroke-width="0.85"/><circle cx="303.8" cy="454.2" r="2.9" fill="#d8cbc0" stroke="#a67044" stroke-width="0.85"/><circle cx="308.8" cy="454.3" r="2.6" fill="#cfc2b7" stroke="#ae784c" stroke-width="0.85"/><circle cx="314.7" cy="452.4" r="3" fill="#dfd4cb" stroke="#b27c50" stroke-width="0.85"/><circle cx="322" cy="452.9" r="3.1" fill="#c8bbaf" stroke="#ac764a" stroke-width="0.85"/><circle cx="327.6" cy="455" r="2.8" fill="#dccfc8" stroke="#bc865a" stroke-width="0.85"/><circle cx="332.9" cy="454.7" r="2.6" fill="#cec5ba" stroke="#bc865a" stroke-width="0.85"/><circle cx="340.1" cy="454.4" r="3" fill="#cdc4b7" stroke="#a26c40" stroke-width="0.85"/><circle cx="343.7" cy="452.9" r="2.5" fill="#ddd2c7" stroke="#a06a3e" stroke-width="0.85"/><circle cx="350.9" cy="453.9" r="2.6" fill="#d5c7bc" stroke="#a36d41" stroke-width="0.85"/><circle cx="364.6" cy="454.5" r="2.5" fill="#d6ccc2" stroke="#b68054" stroke-width="0.85"/><circle cx="370.8" cy="453.1" r="2.7" fill="#cfc1bb" stroke="#9f693d" stroke-width="0.85"/><circle cx="374.9" cy="454" r="2.9" fill="#d9cec1" stroke="#ad774b" stroke-width="0.85"/><circle cx="380.7" cy="452.6" r="2.9" fill="#d5c3bc" stroke="#a46e42" stroke-width="0.85"/><circle cx="386.8" cy="454.3" r="3" fill="#cabbb2" stroke="#b37d51" stroke-width="0.85"/><circle cx="394.8" cy="452.1" r="3" fill="#d7ccc2" stroke="#ad774b" stroke-width="0.85"/><circle cx="401.5" cy="452.4" r="2.9" fill="#d7cac3" stroke="#b68054" stroke-width="0.85"/><circle cx="405.6" cy="452.3" r="2.8" fill="#ded3ca" stroke="#b88256" stroke-width="0.85"/><circle cx="269.4" cy="459.8" r="3" fill="#d9cec9" stroke="#ac764a" stroke-width="0.85"/><circle cx="276.1" cy="459.5" r="2.9" fill="#d4c9bf" stroke="#ad774b" stroke-width="0.85"/><circle cx="279.7" cy="457.5" r="2.6" fill="#d4c5b9" stroke="#9e683c" stroke-width="0.85"/><circle cx="286.5" cy="458.7" r="2.8" fill="#cbbeb4" stroke="#9d673b" stroke-width="0.85"/><circle cx="293.3" cy="459.4" r="2.7" fill="#d9cec7" stroke="#b47e52" stroke-width="0.85"/><circle cx="298.5" cy="458.3" r="3" fill="#dccec4" stroke="#b37d51" stroke-width="0.85"/><circle cx="304.9" cy="459.3" r="2.6" fill="#d2c7bc" stroke="#b78155" stroke-width="0.85"/><circle cx="312.2" cy="459.5" r="2.6" fill="#cbc0b7" stroke="#ae784c" stroke-width="0.85"/><circle cx="317.7" cy="459.6" r="2.8" fill="#dfd3c7" stroke="#9e683c" stroke-width="0.85"/><circle cx="322.4" cy="457.6" r="2.7" fill="#d1c9bd" stroke="#b37d51" stroke-width="0.85"/><circle cx="331" cy="458.2" r="2.5" fill="#d1c1b9" stroke="#a26c40" stroke-width="0.85"/><circle cx="335.7" cy="460.5" r="2.6" fill="#cbbfb4" stroke="#b17b4f" stroke-width="0.85"/><circle cx="342.9" cy="458.5" r="2.9" fill="#ddd1c7" stroke="#b07a4e" stroke-width="0.85"/><circle cx="347.8" cy="458.3" r="2.9" fill="#e1d6c6" stroke="#aa7448" stroke-width="0.85"/><circle cx="353.7" cy="457.6" r="2.8" fill="#d8cfc2" stroke="#b88256" stroke-width="0.85"/><circle cx="359.7" cy="459.4" r="2.7" fill="#d3c8be" stroke="#a56f43" stroke-width="0.85"/><circle cx="368" cy="460.4" r="2.5" fill="#d0c4bb" stroke="#a06a3e" stroke-width="0.85"/><circle cx="373.2" cy="458.7" r="2.7" fill="#dbcec5" stroke="#a36d41" stroke-width="0.85"/><circle cx="379.4" cy="459" r="2.8" fill="#dbcfc6" stroke="#9c663a" stroke-width="0.85"/><circle cx="385.9" cy="460.3" r="2.7" fill="#dcd2c7" stroke="#b47e52" stroke-width="0.85"/><circle cx="391.8" cy="458" r="2.9" fill="#dccfc5" stroke="#a97347" stroke-width="0.85"/><circle cx="402.2" cy="457.7" r="3.1" fill="#cfc4bd" stroke="#a87246" stroke-width="0.85"/><circle cx="271.9" cy="465" r="2.9" fill="#d3c6be" stroke="#a56f43" stroke-width="0.85"/><circle cx="277.2" cy="464.9" r="2.6" fill="#d2c4b9" stroke="#b27c50" stroke-width="0.85"/><circle cx="284.7" cy="462.9" r="2.5" fill="#d8ccc7" stroke="#bd875b" stroke-width="0.85"/><circle cx="290.3" cy="464.7" r="2.8" fill="#cec2b6" stroke="#b57f53" stroke-width="0.85"/><circle cx="296.2" cy="465.7" r="2.7" fill="#cec4b8" stroke="#b07a4e" stroke-width="0.85"/><circle cx="303.4" cy="465" r="2.5" fill="#ccc2b7" stroke="#9c663a" stroke-width="0.85"/><circle cx="315.9" cy="463.6" r="2.7" fill="#d4c9bd" stroke="#b57f53" stroke-width="0.85"/><circle cx="321.5" cy="463.8" r="3" fill="#e0d5cb" stroke="#ae784c" stroke-width="0.85"/><circle cx="326.1" cy="463.1" r="3" fill="#dfd5ca" stroke="#a36d41" stroke-width="0.85"/><circle cx="332.4" cy="464.6" r="2.9" fill="#d1c4b8" stroke="#a36d41" stroke-width="0.85"/><circle cx="340.5" cy="463.6" r="2.9" fill="#ccbbb4" stroke="#ba8458" stroke-width="0.85"/><circle cx="346.6" cy="465" r="2.8" fill="#d5c4bd" stroke="#ad774b" stroke-width="0.85"/><circle cx="350.1" cy="463.6" r="2.9" fill="#e0d3c8" stroke="#a06a3e" stroke-width="0.85"/><circle cx="357.6" cy="464.2" r="2.9" fill="#d5ccc2" stroke="#ae784c" stroke-width="0.85"/><circle cx="363" cy="464.1" r="3.1" fill="#c8beb1" stroke="#a67044" stroke-width="0.85"/><circle cx="370.6" cy="463" r="2.9" fill="#dcd2c7" stroke="#a06a3e" stroke-width="0.85"/><circle cx="374.6" cy="463.3" r="3" fill="#cbbdb5" stroke="#a36d41" stroke-width="0.85"/><circle cx="380.5" cy="463.7" r="2.7" fill="#dbcbc3" stroke="#ab7549" stroke-width="0.85"/><circle cx="388.7" cy="463" r="2.8" fill="#d4cdc1" stroke="#b17b4f" stroke-width="0.85"/><circle cx="395.1" cy="463.7" r="3" fill="#d8cdc4" stroke="#b47e52" stroke-width="0.85"/><circle cx="401.4" cy="464.8" r="2.8" fill="#d4cdbf" stroke="#9b6539" stroke-width="0.85"/><circle cx="406.9" cy="463.6" r="2.7" fill="#d2c7bb" stroke="#b27c50" stroke-width="0.85"/><circle cx="269.4" cy="468.2" r="2.8" fill="#d5cdc3" stroke="#a06a3e" stroke-width="0.85"/><circle cx="274.9" cy="469.7" r="2.8" fill="#d9c9c4" stroke="#ab7549" stroke-width="0.85"/><circle cx="282.4" cy="471" r="2.5" fill="#d1c5bf" stroke="#9e683c" stroke-width="0.85"/><circle cx="286.1" cy="468.6" r="2.7" fill="#d6cbc3" stroke="#9d673b" stroke-width="0.85"/><circle cx="292.7" cy="469" r="3" fill="#d8ccc0" stroke="#9b6539" stroke-width="0.85"/><circle cx="300" cy="469.9" r="2.5" fill="#d5c9c3" stroke="#9d673b" stroke-width="0.85"/><circle cx="306.1" cy="471.2" r="2.8" fill="#d1c6bb" stroke="#b57f53" stroke-width="0.85"/><circle cx="310.5" cy="470.9" r="2.8" fill="#d9ccc5" stroke="#9f693d" stroke-width="0.85"/><circle cx="317.7" cy="469.8" r="2.6" fill="#cec0b4" stroke="#a97347" stroke-width="0.85"/><circle cx="322.7" cy="470.7" r="2.7" fill="#dbd0c8" stroke="#9d673b" stroke-width="0.85"/><circle cx="330.7" cy="470.2" r="2.8" fill="#d7cbc2" stroke="#b88256" stroke-width="0.85"/><circle cx="335.8" cy="468.2" r="2.5" fill="#cabdb1" stroke="#bc865a" stroke-width="0.85"/><circle cx="342.1" cy="469.5" r="2.8" fill="#cabdb2" stroke="#a46e42" stroke-width="0.85"/><circle cx="347.9" cy="469.7" r="2.5" fill="#d0c5b9" stroke="#a26c40" stroke-width="0.85"/><circle cx="355" cy="470.4" r="2.9" fill="#ddd0c8" stroke="#ad774b" stroke-width="0.85"/><circle cx="360.1" cy="469.7" r="2.6" fill="#c6bbb2" stroke="#9b6539" stroke-width="0.85"/><circle cx="366.3" cy="469" r="2.7" fill="#d9cfc2" stroke="#a97347" stroke-width="0.85"/><circle cx="371.9" cy="469.4" r="2.9" fill="#ded2c9" stroke="#b07a4e" stroke-width="0.85"/><circle cx="379.2" cy="468.7" r="2.7" fill="#d9cec3" stroke="#aa7448" stroke-width="0.85"/><circle cx="386.1" cy="469.1" r="2.9" fill="#ccc1b4" stroke="#af794d" stroke-width="0.85"/><circle cx="392.1" cy="470.7" r="2.5" fill="#cabdb1" stroke="#9d673b" stroke-width="0.85"/><circle cx="396" cy="468.8" r="2.7" fill="#ddd1c4" stroke="#b88256" stroke-width="0.85"/><circle cx="272.1" cy="476.3" r="3" fill="#d4cbc1" stroke="#b57f53" stroke-width="0.85"/><circle cx="277.4" cy="474.6" r="3.1" fill="#dcd2c5" stroke="#a56f43" stroke-width="0.85"/><circle cx="283.2" cy="474.5" r="2.6" fill="#cebfb9" stroke="#a67044" stroke-width="0.85"/><circle cx="291.4" cy="475.6" r="2.9" fill="#d8ccc4" stroke="#b98357" stroke-width="0.85"/><circle cx="296.9" cy="475.4" r="2.8" fill="#d5cabe" stroke="#b27c50" stroke-width="0.85"/><circle cx="301.2" cy="474.9" r="2.9" fill="#dfd4c9" stroke="#b37d51" stroke-width="0.85"/><circle cx="308.6" cy="474.1" r="2.7" fill="#d8cabf" stroke="#a67044" stroke-width="0.85"/><circle cx="314" cy="474.8" r="3" fill="#d7cbc6" stroke="#b37d51" stroke-width="0.85"/><circle cx="319.7" cy="475.8" r="2.7" fill="#c6bcb4" stroke="#b47e52" stroke-width="0.85"/><circle cx="327.4" cy="476.5" r="2.9" fill="#d8cdc5" stroke="#b57f53" stroke-width="0.85"/><circle cx="332.3" cy="476.4" r="3" fill="#cfc2ba" stroke="#a06a3e" stroke-width="0.85"/><circle cx="337.9" cy="475.1" r="3.1" fill="#cbc2b6" stroke="#ab7549" stroke-width="0.85"/><circle cx="344.1" cy="476.1" r="2.8" fill="#c8bab0" stroke="#af794d" stroke-width="0.85"/><circle cx="352.6" cy="475.6" r="2.6" fill="#d3c9bc" stroke="#9f693d" stroke-width="0.85"/><circle cx="357.8" cy="475.3" r="2.9" fill="#d9cec3" stroke="#bd875b" stroke-width="0.85"/><circle cx="364.2" cy="475.9" r="2.9" fill="#dacec6" stroke="#b17b4f" stroke-width="0.85"/><circle cx="368.6" cy="473.9" r="2.6" fill="#d2c7bc" stroke="#a26c40" stroke-width="0.85"/><circle cx="376.8" cy="474.2" r="2.7" fill="#cbc1b8" stroke="#a77145" stroke-width="0.85"/><circle cx="382.1" cy="474.9" r="3" fill="#d5cabd" stroke="#a36d41" stroke-width="0.85"/><circle cx="388.6" cy="475.3" r="2.9" fill="#dfd3c9" stroke="#b07a4e" stroke-width="0.85"/><circle cx="394.9" cy="475.3" r="3" fill="#c7bcb5" stroke="#b07a4e" stroke-width="0.85"/><circle cx="399.6" cy="474.6" r="2.7" fill="#d3c6bc" stroke="#bb8559" stroke-width="0.85"/><circle cx="406.8" cy="474.4" r="2.7" fill="#ccbcb6" stroke="#a67044" stroke-width="0.85"/><circle cx="269.2" cy="480.6" r="3.1" fill="#d0c4b5" stroke="#aa7448" stroke-width="0.85"/><circle cx="275.2" cy="481.6" r="2.9" fill="#d8cbc7" stroke="#b78155" stroke-width="0.85"/><circle cx="279.8" cy="479" r="2.6" fill="#dbd0c8" stroke="#9f693d" stroke-width="0.85"/><circle cx="286.5" cy="481.5" r="3.1" fill="#cbbfb7" stroke="#aa7448" stroke-width="0.85"/><circle cx="293.2" cy="480.4" r="3.1" fill="#cabfb2" stroke="#9d673b" stroke-width="0.85"/><circle cx="299" cy="481" r="3.1" fill="#d1c6bb" stroke="#a97347" stroke-width="0.85"/><circle cx="306.6" cy="481" r="2.9" fill="#d1c2b8" stroke="#b47e52" stroke-width="0.85"/><circle cx="311.2" cy="479" r="3" fill="#d9cdc2" stroke="#a36d41" stroke-width="0.85"/><circle cx="318.7" cy="481.2" r="2.5" fill="#dacbc3" stroke="#a77145" stroke-width="0.85"/><circle cx="324.7" cy="480.2" r="2.5" fill="#d2c5bc" stroke="#a77145" stroke-width="0.85"/><circle cx="336.5" cy="481.4" r="2.8" fill="#cdc0b4" stroke="#a36d41" stroke-width="0.85"/><circle cx="342.7" cy="479.1" r="3" fill="#cec3b9" stroke="#b07a4e" stroke-width="0.85"/><circle cx="349.4" cy="479.2" r="3" fill="#e0cfca" stroke="#a16b3f" stroke-width="0.85"/><circle cx="353.6" cy="480.2" r="2.9" fill="#cec3b5" stroke="#a46e42" stroke-width="0.85"/><circle cx="360.3" cy="480.7" r="2.7" fill="#dccec3" stroke="#b57f53" stroke-width="0.85"/><circle cx="365.9" cy="479.9" r="2.8" fill="#e1d4c8" stroke="#a16b3f" stroke-width="0.85"/><circle cx="372.8" cy="479.4" r="3" fill="#cfc1b6" stroke="#a56f43" stroke-width="0.85"/><circle cx="379.3" cy="481.4" r="2.6" fill="#cfc4b7" stroke="#9e683c" stroke-width="0.85"/><circle cx="385.6" cy="479.8" r="3" fill="#d9cec6" stroke="#9b6539" stroke-width="0.85"/><circle cx="389.9" cy="481.3" r="2.7" fill="#d8cbbd" stroke="#ab7549" stroke-width="0.85"/><circle cx="396" cy="481.9" r="2.7" fill="#dbcfc6" stroke="#9e683c" stroke-width="0.85"/><circle cx="403.5" cy="480.4" r="3" fill="#cfc4bb" stroke="#9c663a" stroke-width="0.85"/><circle cx="271.3" cy="484.7" r="2.7" fill="#d6cac3" stroke="#ab7549" stroke-width="0.85"/><circle cx="278" cy="484.4" r="2.6" fill="#cac1b6" stroke="#ae784c" stroke-width="0.85"/><circle cx="284.4" cy="485.6" r="2.7" fill="#c7bfb1" stroke="#a56f43" stroke-width="0.85"/><circle cx="288.9" cy="486.3" r="2.7" fill="#d0c2bd" stroke="#9b6539" stroke-width="0.85"/><circle cx="295.6" cy="486.2" r="2.7" fill="#d3c8c1" stroke="#a67044" stroke-width="0.85"/><circle cx="303.6" cy="486" r="2.8" fill="#c9bdb4" stroke="#a97347" stroke-width="0.85"/><circle cx="307.7" cy="486.3" r="3" fill="#e0d4c7" stroke="#bd875b" stroke-width="0.85"/><circle cx="314.1" cy="485.5" r="2.8" fill="#c9bfb6" stroke="#9e683c" stroke-width="0.85"/><circle cx="321.7" cy="486.2" r="2.9" fill="#c8beb3" stroke="#b07a4e" stroke-width="0.85"/><circle cx="328.1" cy="485.6" r="2.6" fill="#ded1c7" stroke="#a16b3f" stroke-width="0.85"/><circle cx="332.8" cy="484.9" r="3.1" fill="#d3c6c1" stroke="#bb8559" stroke-width="0.85"/><circle cx="344" cy="485" r="2.6" fill="#dacec2" stroke="#b27c50" stroke-width="0.85"/><circle cx="350.9" cy="486.5" r="2.5" fill="#ccc0b7" stroke="#b27c50" stroke-width="0.85"/><circle cx="357.6" cy="484.6" r="2.6" fill="#d7c9bf" stroke="#aa7448" stroke-width="0.85"/><circle cx="362.3" cy="487.3" r="2.7" fill="#c8bcb5" stroke="#b68054" stroke-width="0.85"/><circle cx="369.3" cy="485" r="2.7" fill="#d1c6c1" stroke="#bc865a" stroke-width="0.85"/><circle cx="375.8" cy="485.5" r="2.7" fill="#dfd6c8" stroke="#aa7448" stroke-width="0.85"/><circle cx="380.2" cy="484.5" r="2.9" fill="#ded1ca" stroke="#b98357" stroke-width="0.85"/><circle cx="387" cy="487.1" r="2.9" fill="#c9bab1" stroke="#a26c40" stroke-width="0.85"/><circle cx="394.8" cy="486.7" r="2.8" fill="#c8bfb2" stroke="#b17b4f" stroke-width="0.85"/><circle cx="399" cy="485.7" r="3.1" fill="#cbc3b4" stroke="#b88256" stroke-width="0.85"/><circle cx="405.7" cy="485.7" r="2.6" fill="#d5cec4" stroke="#ba8458" stroke-width="0.85"/><circle cx="270.1" cy="490.4" r="3" fill="#cbbdb4" stroke="#b57f53" stroke-width="0.85"/><circle cx="276.1" cy="490.6" r="3" fill="#cdbeb4" stroke="#9b6539" stroke-width="0.85"/><circle cx="281.3" cy="492.1" r="2.8" fill="#d4cac0" stroke="#a67044" stroke-width="0.85"/><circle cx="288.3" cy="490.2" r="2.6" fill="#dcd1c9" stroke="#9e683c" stroke-width="0.85"/><circle cx="293.5" cy="490.7" r="2.8" fill="#d4c9bb" stroke="#9e683c" stroke-width="0.85"/><circle cx="300.5" cy="490.6" r="3" fill="#cec4b5" stroke="#b57f53" stroke-width="0.85"/><circle cx="305.3" cy="491.3" r="2.6" fill="#cec2b3" stroke="#bd875b" stroke-width="0.85"/><circle cx="311.6" cy="491.4" r="2.6" fill="#dacfc3" stroke="#b17b4f" stroke-width="0.85"/><circle cx="318.1" cy="490.9" r="3" fill="#d0c6ba" stroke="#a77145" stroke-width="0.85"/><circle cx="323.7" cy="490.4" r="2.7" fill="#d9c8bf" stroke="#ae784c" stroke-width="0.85"/><circle cx="330" cy="490.8" r="2.7" fill="#c8bfb1" stroke="#9b6539" stroke-width="0.85"/><circle cx="334.9" cy="491.5" r="2.8" fill="#c8beb3" stroke="#b78155" stroke-width="0.85"/><circle cx="343.5" cy="490.3" r="2.7" fill="#cec2b8" stroke="#b88256" stroke-width="0.85"/><circle cx="347.9" cy="492.4" r="2.8" fill="#dbcdc6" stroke="#b27c50" stroke-width="0.85"/><circle cx="354.6" cy="491.6" r="2.6" fill="#c7beb3" stroke="#9f693d" stroke-width="0.85"/><circle cx="359" cy="491.9" r="3" fill="#d3c2bb" stroke="#a36d41" stroke-width="0.85"/><circle cx="367.5" cy="492" r="3" fill="#d6c7c1" stroke="#a46e42" stroke-width="0.85"/><circle cx="373.9" cy="491.3" r="2.6" fill="#e2d3c9" stroke="#b47e52" stroke-width="0.85"/><circle cx="384.4" cy="490.3" r="2.7" fill="#dcd3c8" stroke="#9a6438" stroke-width="0.85"/><circle cx="391.2" cy="491.2" r="2.6" fill="#c9beb6" stroke="#bd875b" stroke-width="0.85"/><circle cx="396.6" cy="491.4" r="2.8" fill="#d7cac1" stroke="#b07a4e" stroke-width="0.85"/><circle cx="402.4" cy="492.3" r="2.5" fill="#d1c5b7" stroke="#b78155" stroke-width="0.85"/><circle cx="271.4" cy="497.7" r="2.6" fill="#cdc4bc" stroke="#ae784c" stroke-width="0.85"/><circle cx="278.3" cy="496.4" r="2.6" fill="#cfc3ba" stroke="#b88256" stroke-width="0.85"/><circle cx="284.1" cy="495.4" r="3" fill="#ccc1b7" stroke="#b47e52" stroke-width="0.85"/><circle cx="288.8" cy="495.1" r="2.9" fill="#c9bab5" stroke="#ae784c" stroke-width="0.85"/><circle cx="297.2" cy="497.8" r="2.8" fill="#d2c7b9" stroke="#aa7448" stroke-width="0.85"/><circle cx="301.1" cy="496.1" r="2.7" fill="#c5bab2" stroke="#a77145" stroke-width="0.85"/><circle cx="309.2" cy="495.1" r="3" fill="#ccc1b4" stroke="#9d673b" stroke-width="0.85"/><circle cx="314.5" cy="497.2" r="2.8" fill="#cdc0b2" stroke="#b17b4f" stroke-width="0.85"/><circle cx="322.1" cy="497.4" r="2.5" fill="#d0c5ba" stroke="#a36d41" stroke-width="0.85"/><circle cx="326.9" cy="497.8" r="3" fill="#cebdb5" stroke="#b27c50" stroke-width="0.85"/><circle cx="331.9" cy="495.6" r="3" fill="#d8cec0" stroke="#a67044" stroke-width="0.85"/><circle cx="340" cy="497" r="2.5" fill="#d1c2b8" stroke="#b88256" stroke-width="0.85"/><circle cx="345.7" cy="496.3" r="2.9" fill="#d8cbc1" stroke="#ab7549" stroke-width="0.85"/><circle cx="351.5" cy="495.5" r="2.9" fill="#d6ccc0" stroke="#b17b4f" stroke-width="0.85"/><circle cx="357.7" cy="497.5" r="2.6" fill="#d9cbc1" stroke="#a77145" stroke-width="0.85"/><circle cx="362.7" cy="495.2" r="2.9" fill="#dbd1c7" stroke="#a36d41" stroke-width="0.85"/><circle cx="368.2" cy="495.9" r="2.8" fill="#e2d0ca" stroke="#b07a4e" stroke-width="0.85"/><circle cx="376.2" cy="497.2" r="2.6" fill="#cec0b9" stroke="#b57f53" stroke-width="0.85"/><circle cx="381.6" cy="495.8" r="2.5" fill="#ded1c8" stroke="#b17b4f" stroke-width="0.85"/><circle cx="389" cy="495.4" r="2.9" fill="#d8c9be" stroke="#bc865a" stroke-width="0.85"/><circle cx="392.6" cy="495.2" r="3.1" fill="#cabbb5" stroke="#ae784c" stroke-width="0.85"/><circle cx="398.9" cy="495.8" r="2.5" fill="#d0c6b9" stroke="#bd875b" stroke-width="0.85"/><circle cx="407.6" cy="495" r="2.5" fill="#cabfb6" stroke="#ab7549" stroke-width="0.85"/><circle cx="268.4" cy="501.2" r="2.9" fill="#e0d4cc" stroke="#a87246" stroke-width="0.85"/><circle cx="275.1" cy="501.3" r="2.7" fill="#d9cbc0" stroke="#b57f53" stroke-width="0.85"/><circle cx="286.3" cy="501" r="2.9" fill="#d3c4ba" stroke="#a36d41" stroke-width="0.85"/><circle cx="292.8" cy="502.2" r="2.8" fill="#d6c6bf" stroke="#b17b4f" stroke-width="0.85"/><circle cx="298.6" cy="501.4" r="3" fill="#d1c9bc" stroke="#b98357" stroke-width="0.85"/><circle cx="305.6" cy="501.4" r="2.5" fill="#d4c9bc" stroke="#9d673b" stroke-width="0.85"/><circle cx="311.4" cy="501.3" r="2.5" fill="#d3c6bc" stroke="#bc865a" stroke-width="0.85"/><circle cx="318.5" cy="502.2" r="2.8" fill="#d1c9be" stroke="#9c663a" stroke-width="0.85"/><circle cx="323.4" cy="501.4" r="2.6" fill="#d9c9c2" stroke="#bc865a" stroke-width="0.85"/><circle cx="329.5" cy="502.5" r="2.6" fill="#d5cabc" stroke="#a36d41" stroke-width="0.85"/><circle cx="334.5" cy="500.7" r="2.6" fill="#cdc2b5" stroke="#a06a3e" stroke-width="0.85"/><circle cx="343.4" cy="501.1" r="2.8" fill="#d1c8ba" stroke="#b68054" stroke-width="0.85"/><circle cx="347.8" cy="502.7" r="2.8" fill="#dacbc3" stroke="#b88256" stroke-width="0.85"/><circle cx="353" cy="502.2" r="2.7" fill="#d2c4ba" stroke="#a87246" stroke-width="0.85"/><circle cx="359.1" cy="503.4" r="2.8" fill="#dfd4c6" stroke="#b17b4f" stroke-width="0.85"/><circle cx="367.8" cy="502" r="3" fill="#d8ccc4" stroke="#a06a3e" stroke-width="0.85"/><circle cx="373.7" cy="503.3" r="2.9" fill="#dacfc5" stroke="#b47e52" stroke-width="0.85"/><circle cx="377.4" cy="501.8" r="2.8" fill="#cebfb6" stroke="#b78155" stroke-width="0.85"/><circle cx="384.4" cy="502.5" r="2.9" fill="#e1d6cb" stroke="#9b6539" stroke-width="0.85"/><circle cx="391.9" cy="503.1" r="2.5" fill="#dbcec6" stroke="#b88256" stroke-width="0.85"/><circle cx="395.7" cy="503" r="2.9" fill="#dfd3c8" stroke="#a16b3f" stroke-width="0.85"/><circle cx="402.3" cy="501.4" r="2.8" fill="#ddd4cb" stroke="#b68054" stroke-width="0.85"/><circle cx="273.4" cy="508.2" r="2.8" fill="#d2c3b9" stroke="#ab7549" stroke-width="0.85"/><circle cx="278.2" cy="508.2" r="2.7" fill="#d7cec5" stroke="#ae784c" stroke-width="0.85"/><circle cx="283.8" cy="506.6" r="3.1" fill="#dcd3c8" stroke="#b47e52" stroke-width="0.85"/><circle cx="291.4" cy="507.6" r="2.6" fill="#d1c2be" stroke="#b37d51" stroke-width="0.85"/><circle cx="294.9" cy="507.5" r="2.7" fill="#cebfb5" stroke="#9f693d" stroke-width="0.85"/><circle cx="303.2" cy="507.8" r="3" fill="#dfd0c5" stroke="#b88256" stroke-width="0.85"/><circle cx="309.2" cy="506.4" r="2.9" fill="#d3c7bf" stroke="#a97347" stroke-width="0.85"/><circle cx="315.5" cy="506.6" r="2.8" fill="#d7d0c7" stroke="#b27c50" stroke-width="0.85"/><circle cx="319.9" cy="507.9" r="2.9" fill="#dacbc4" stroke="#b88256" stroke-width="0.85"/><circle cx="327.2" cy="507.6" r="2.6" fill="#dbccc1" stroke="#a67044" stroke-width="0.85"/><circle cx="332.8" cy="506" r="2.5" fill="#ddd0c7" stroke="#a36d41" stroke-width="0.85"/><circle cx="339.9" cy="508.2" r="2.9" fill="#cdc1bd" stroke="#b57f53" stroke-width="0.85"/><circle cx="343.9" cy="506.4" r="3" fill="#d8cfc0" stroke="#a26c40" stroke-width="0.85"/><circle cx="350.3" cy="506.3" r="3" fill="#dfd1c8" stroke="#ae784c" stroke-width="0.85"/><circle cx="356.8" cy="507.3" r="2.7" fill="#dacbc4" stroke="#ac764a" stroke-width="0.85"/><circle cx="364.4" cy="507.5" r="2.6" fill="#dfd1c7" stroke="#9c663a" stroke-width="0.85"/><circle cx="368.8" cy="506.7" r="2.8" fill="#d1c3bb" stroke="#9e683c" stroke-width="0.85"/><circle cx="374.6" cy="508.1" r="2.9" fill="#cfc3b6" stroke="#a36d41" stroke-width="0.85"/><circle cx="382.7" cy="506.3" r="3.1" fill="#cfc0ba" stroke="#ae784c" stroke-width="0.85"/><circle cx="389" cy="505.9" r="2.7" fill="#d3c9c0" stroke="#b78155" stroke-width="0.85"/><circle cx="393.2" cy="507.9" r="2.9" fill="#e2d6c7" stroke="#b27c50" stroke-width="0.85"/><circle cx="400.2" cy="508.1" r="2.7" fill="#ddd3cb" stroke="#a26c40" stroke-width="0.85"/><circle cx="268" cy="512.2" r="2.7" fill="#ccbfb4" stroke="#bb8559" stroke-width="0.85"/><circle cx="275.7" cy="513.7" r="2.6" fill="#ddcec7" stroke="#a46e42" stroke-width="0.85"/><circle cx="281" cy="513.5" r="2.7" fill="#d9cdc4" stroke="#a16b3f" stroke-width="0.85"/><circle cx="287.9" cy="512.2" r="2.9" fill="#c8bbb5" stroke="#bd875b" stroke-width="0.85"/><circle cx="293.9" cy="513.2" r="3" fill="#ccbfb5" stroke="#ac764a" stroke-width="0.85"/><circle cx="299" cy="512.4" r="2.9" fill="#ddd1c6" stroke="#b27c50" stroke-width="0.85"/><circle cx="305.7" cy="511.6" r="2.6" fill="#d4ccc0" stroke="#bc865a" stroke-width="0.85"/><circle cx="312" cy="512.9" r="2.8" fill="#cac2b5" stroke="#a67044" stroke-width="0.85"/><circle cx="316.6" cy="512.4" r="3" fill="#dacbc4" stroke="#a36d41" stroke-width="0.85"/><circle cx="325" cy="513.4" r="2.7" fill="#ccbeb5" stroke="#a06a3e" stroke-width="0.85"/><circle cx="330.5" cy="511.8" r="2.7" fill="#cebdb3" stroke="#a87246" stroke-width="0.85"/><circle cx="337.1" cy="513" r="2.8" fill="#dfd3c6" stroke="#a67044" stroke-width="0.85"/><circle cx="343.1" cy="511.4" r="3" fill="#c7bfb6" stroke="#a06a3e" stroke-width="0.85"/><circle cx="349.6" cy="514.1" r="3" fill="#d2c8c0" stroke="#b17b4f" stroke-width="0.85"/><circle cx="352.8" cy="511.3" r="2.8" fill="#cec1b8" stroke="#a16b3f" stroke-width="0.85"/><circle cx="361" cy="512.5" r="3" fill="#d8cfc5" stroke="#ac764a" stroke-width="0.85"/><circle cx="366.7" cy="513.8" r="2.6" fill="#dbcfca" stroke="#a46e42" stroke-width="0.85"/><circle cx="373.3" cy="511.7" r="2.7" fill="#c8beb5" stroke="#ae784c" stroke-width="0.85"/><circle cx="378.5" cy="511.3" r="3" fill="#dbd2c9" stroke="#b17b4f" stroke-width="0.85"/><circle cx="384.9" cy="512.2" r="2.5" fill="#d8cfc5" stroke="#9e683c" stroke-width="0.85"/><circle cx="390.4" cy="511.1" r="2.5" fill="#dacfc1" stroke="#9c663a" stroke-width="0.85"/><circle cx="396.4" cy="513.4" r="2.5" fill="#dbd2c7" stroke="#9e683c" stroke-width="0.85"/><circle cx="403.9" cy="513.1" r="2.9" fill="#cdc1ba" stroke="#9e683c" stroke-width="0.85"/><circle cx="271.7" cy="519" r="2.5" fill="#d9cdc0" stroke="#a56f43" stroke-width="0.85"/><circle cx="278.7" cy="519.5" r="2.6" fill="#cdc5ba" stroke="#b88256" stroke-width="0.85"/><circle cx="284.7" cy="517.6" r="3" fill="#d6cfc5" stroke="#bd875b" stroke-width="0.85"/><circle cx="290.2" cy="518.1" r="2.6" fill="#cdbdb4" stroke="#ae784c" stroke-width="0.85"/><circle cx="302.2" cy="518.5" r="2.6" fill="#c6bdb1" stroke="#a36d41" stroke-width="0.85"/><circle cx="307.4" cy="519.5" r="3" fill="#cdc1b3" stroke="#b57f53" stroke-width="0.85"/><circle cx="315" cy="518.7" r="2.8" fill="#dfcfc5" stroke="#9e683c" stroke-width="0.85"/><circle cx="321.5" cy="518.9" r="3.1" fill="#d5cabd" stroke="#b07a4e" stroke-width="0.85"/><circle cx="325.6" cy="517.9" r="2.6" fill="#e2d1c7" stroke="#ad774b" stroke-width="0.85"/><circle cx="333.9" cy="518.2" r="2.9" fill="#d4c9c0" stroke="#bd875b" stroke-width="0.85"/><circle cx="337.8" cy="519.4" r="2.6" fill="#d0c2b7" stroke="#ab7549" stroke-width="0.85"/><circle cx="346.5" cy="516.9" r="2.6" fill="#d8c7c1" stroke="#b47e52" stroke-width="0.85"/><circle cx="356" cy="516.5" r="2.6" fill="#dfd4c8" stroke="#b88256" stroke-width="0.85"/><circle cx="362.1" cy="516.5" r="2.6" fill="#cebfb7" stroke="#b27c50" stroke-width="0.85"/><circle cx="371" cy="519.3" r="2.8" fill="#cabdb2" stroke="#ad774b" stroke-width="0.85"/><circle cx="376.3" cy="518.2" r="3" fill="#d5c8bf" stroke="#b57f53" stroke-width="0.85"/><circle cx="381.4" cy="517.3" r="2.7" fill="#cec2ba" stroke="#bc865a" stroke-width="0.85"/><circle cx="388.8" cy="517.2" r="2.8" fill="#d6ccbe" stroke="#bb8559" stroke-width="0.85"/><circle cx="392.7" cy="518.8" r="2.7" fill="#d6c8bd" stroke="#9a6438" stroke-width="0.85"/><circle cx="400.3" cy="519.3" r="2.6" fill="#d7cfc3" stroke="#a67044" stroke-width="0.85"/><circle cx="405.7" cy="517.3" r="3" fill="#dacfc9" stroke="#b68054" stroke-width="0.85"/></g><g opacity="0.35"><circle cx="314.1" cy="469.4" r="4.4" fill="#e4d8d6"/><circle cx="394" cy="433" r="5.9" fill="#e6e1d7"/><circle cx="298.9" cy="494.4" r="4" fill="#dddbcd"/><circle cx="315.6" cy="486" r="5.1" fill="#e7e2db"/><circle cx="396.6" cy="496.3" r="7.2" fill="#e2e0d4"/><circle cx="342.4" cy="493.4" r="4.5" fill="#e3d5d4"/><circle cx="390.8" cy="500.1" r="4.5" fill="#e7dfdb"/><circle cx="281.7" cy="493.2" r="6.7" fill="#ebe5dc"/><circle cx="363.4" cy="456.2" r="4.2" fill="#e0d6d4"/><circle cx="334.8" cy="453.8" r="5.6" fill="#deddd0"/><circle cx="382.4" cy="456.5" r="4.9" fill="#e3dbd6"/><circle cx="369.6" cy="431.7" r="5.4" fill="#e1ded4"/><circle cx="356.5" cy="493.5" r="7.7" fill="#ece3d6"/><circle cx="313.6" cy="458.2" r="6.3" fill="#e4ded3"/></g><g><circle cx="293.4" cy="461.9" r="0.7" fill="#643c29"/><circle cx="369.3" cy="507" r="1" fill="#59351b"/><circle cx="373" cy="495.5" r="0.6" fill="#6f482b"/><circle cx="333.1" cy="499.2" r="0.6" fill="#623e25"/><circle cx="281.3" cy="422.6" r="0.9" fill="#613c23"/><circle cx="307.2" cy="440.8" r="0.8" fill="#5a361e"/><circle cx="396.8" cy="437.7" r="0.9" fill="#6b3e2c"/><circle cx="296.9" cy="453.5" r="0.7" fill="#6c4a2e"/><circle cx="302.4" cy="437.1" r="1" fill="#5d3a23"/><circle cx="380.9" cy="484.8" r="0.7" fill="#70472e"/></g></g></g><clipPath id="cp3"><rect x="30.6" y="521.5" width="122.3" height="98.0"/></clipPath><g clip-path="url(#cp3)"><rect x="30.6" y="521.5" width="122.3" height="98.0" filter="url(#tx3)"/><g filter="url(#blur5)"><g opacity="0.45"><g stroke="#b2b6c8" stroke-width="0.5"><circle cx="29.7" cy="516" r="2.3" fill="#d2d6e1"/><circle cx="43.3" cy="517.8" r="2.1" fill="#c5c9d6"/><circle cx="54.6" cy="516.2" r="1.9" fill="#c7cbd6"/><circle cx="69.7" cy="518.8" r="2.1" fill="#d6d9e3"/><circle cx="79.3" cy="516.6" r="2.1" fill="#d2d4e1"/><circle cx="102" cy="518.6" r="1.7" fill="#d4d5df"/><circle cx="107.9" cy="515.7" r="1.8" fill="#c9c8d8"/><circle cx="113.9" cy="515.6" r="1.9" fill="#ced0d7"/><circle cx="117" cy="517.4" r="1.7" fill="#c9cdd8"/><circle cx="123" cy="517.7" r="2" fill="#cbcfd8"/><circle cx="126.9" cy="516.5" r="2" fill="#cdcddc"/><circle cx="137.3" cy="516.5" r="2.3" fill="#d2d5dd"/><circle cx="144.2" cy="516.2" r="1.9" fill="#cfd2dc"/><circle cx="151.4" cy="517.6" r="1.7" fill="#c7c8d5"/><circle cx="27.3" cy="522.9" r="2.2" fill="#c6c8d6"/><circle cx="32.2" cy="522.3" r="2.1" fill="#cdceda"/><circle cx="34" cy="520.6" r="2.3" fill="#c9cdd8"/><circle cx="46.5" cy="520.2" r="2.1" fill="#cbccdc"/><circle cx="53.9" cy="523.1" r="2.1" fill="#c4cbd3"/><circle cx="58.9" cy="520" r="1.9" fill="#c5c8d6"/><circle cx="71" cy="520.9" r="1.7" fill="#cdd4dc"/><circle cx="76.2" cy="523.2" r="1.8" fill="#c8c7d4"/><circle cx="86.7" cy="520.4" r="2.2" fill="#cdd0d8"/><circle cx="95" cy="520.8" r="2" fill="#d5d6e1"/><circle cx="104" cy="521" r="1.9" fill="#cdcfdd"/><circle cx="111.9" cy="522.6" r="1.8" fill="#cdcdd9"/><circle cx="126.2" cy="522.9" r="1.8" fill="#c6cbd6"/><circle cx="131.5" cy="521.2" r="1.8" fill="#cccddb"/><circle cx="134.8" cy="523.1" r="1.7" fill="#c8ccd6"/><circle cx="141.7" cy="521.7" r="2.1" fill="#d1d2df"/><circle cx="144.1" cy="520.2" r="2.2" fill="#cfd1db"/><circle cx="152" cy="521.1" r="2" fill="#cccfda"/><circle cx="29.4" cy="526.3" r="1.8" fill="#ccc9d7"/><circle cx="34" cy="527.5" r="1.9" fill="#c9ced5"/><circle cx="38.8" cy="526.2" r="2" fill="#cdd5df"/><circle cx="43.2" cy="527.3" r="2.1" fill="#caceda"/><circle cx="47.6" cy="526.5" r="2.1" fill="#c4cbd1"/><circle cx="52.3" cy="527.6" r="2" fill="#d0d6e1"/><circle cx="63.6" cy="526.4" r="1.8" fill="#ccd3de"/><circle cx="72.9" cy="526.1" r="2.1" fill="#d0d0de"/><circle cx="76.7" cy="524.8" r="2.3" fill="#cacbd5"/><circle cx="82.4" cy="525.4" r="2.1" fill="#ccd0dd"/><circle cx="89.2" cy="526.7" r="2" fill="#c4cad4"/><circle cx="92.6" cy="526.9" r="1.7" fill="#c7cdd9"/><circle cx="98.2" cy="527.4" r="2.3" fill="#ccd1dd"/><circle cx="103.9" cy="526.5" r="1.9" fill="#cacad5"/><circle cx="108.2" cy="526.5" r="1.9" fill="#cccdd7"/><circle cx="114.8" cy="525" r="2" fill="#c6cad6"/><circle cx="118.7" cy="524.7" r="1.8" fill="#c5c9d3"/><circle cx="124.1" cy="526.8" r="2" fill="#d3d5e3"/><circle cx="128.7" cy="526.1" r="1.8" fill="#cacbd8"/><circle cx="133.8" cy="526.8" r="2.2" fill="#cac8d4"/><circle cx="138" cy="524.9" r="1.9" fill="#d1d0dd"/><circle cx="154.5" cy="525.2" r="1.9" fill="#d1d2da"/><circle cx="157.7" cy="526.4" r="1.9" fill="#ced1dd"/><circle cx="26.3" cy="529.4" r="2.1" fill="#c9cbd8"/><circle cx="36" cy="530.8" r="1.8" fill="#cfd5de"/><circle cx="41.6" cy="530.5" r="1.9" fill="#c9cbd2"/><circle cx="46.7" cy="530.8" r="2.2" fill="#d4d5de"/><circle cx="49.3" cy="529" r="1.9" fill="#c7c7d0"/><circle cx="60.7" cy="530.7" r="1.8" fill="#cccbd8"/><circle cx="75.4" cy="532" r="2" fill="#d3d6df"/><circle cx="85.9" cy="530.3" r="2.1" fill="#d4d7e3"/><circle cx="90.7" cy="531.5" r="2.1" fill="#d2d6dd"/><circle cx="94" cy="530.3" r="2.3" fill="#d1d9e0"/><circle cx="102.3" cy="529.3" r="2.3" fill="#d1d3de"/><circle cx="106.3" cy="529.2" r="1.7" fill="#cccdd9"/><circle cx="114.7" cy="531.2" r="2" fill="#d5dae0"/><circle cx="124.2" cy="529.5" r="1.8" fill="#cbcbd5"/><circle cx="131.7" cy="530.1" r="2" fill="#c7cdd6"/><circle cx="144.4" cy="531.1" r="1.9" fill="#d4d3dd"/><circle cx="150.9" cy="531.1" r="1.9" fill="#c7cfda"/><circle cx="32" cy="535" r="1.9" fill="#c6cad6"/><circle cx="54" cy="536.1" r="1.8" fill="#d4d5dd"/><circle cx="56.8" cy="536.2" r="2.2" fill="#ced3db"/><circle cx="64.2" cy="533.9" r="1.9" fill="#d3d5de"/><circle cx="69.5" cy="533.9" r="2.2" fill="#cacfd7"/><circle cx="74.8" cy="534.5" r="1.7" fill="#ccd0df"/><circle cx="81.5" cy="533.7" r="1.8" fill="#c7c9d1"/><circle cx="96.9" cy="533.4" r="2.1" fill="#d2d5dd"/><circle cx="104.4" cy="536.4" r="2" fill="#cbccd4"/><circle cx="109.1" cy="535.5" r="2.2" fill="#cacdd8"/><circle cx="116.9" cy="536" r="1.7" fill="#cdced8"/><circle cx="128.2" cy="534.3" r="2" fill="#d0cfdc"/><circle cx="131.6" cy="533" r="1.8" fill="#d5d6e0"/><circle cx="144.1" cy="533.4" r="2.1" fill="#ccccd9"/><circle cx="148.2" cy="536.1" r="2.1" fill="#c2c9d4"/><circle cx="157.4" cy="535.4" r="1.7" fill="#c9ced8"/><circle cx="31.9" cy="538.7" r="2" fill="#c7c8d3"/><circle cx="34.9" cy="540.4" r="2.2" fill="#c6ccd7"/><circle cx="45.9" cy="537.5" r="2.3" fill="#cfd4e1"/><circle cx="62.1" cy="538.9" r="2.2" fill="#d5d8e3"/><circle cx="71.8" cy="538.6" r="2.2" fill="#d1d4e1"/><circle cx="74" cy="539.1" r="1.8" fill="#d0d0db"/><circle cx="91.2" cy="538.2" r="1.8" fill="#cccfd5"/><circle cx="94" cy="537.6" r="1.8" fill="#cecdd9"/><circle cx="101.3" cy="540.2" r="2.1" fill="#d3d5e4"/><circle cx="106.6" cy="539.2" r="2.1" fill="#c7ccd5"/><circle cx="119" cy="539.3" r="2.1" fill="#ced0db"/><circle cx="125.9" cy="537.4" r="1.7" fill="#cbd1de"/><circle cx="132.2" cy="540.6" r="1.9" fill="#cdcfd7"/><circle cx="136.5" cy="539.3" r="2" fill="#c7cbd6"/><circle cx="139" cy="540.4" r="2.3" fill="#d1d5e2"/><circle cx="145.7" cy="537.9" r="2.3" fill="#c4c9d3"/><circle cx="149.1" cy="537.7" r="2" fill="#cbd4dd"/><circle cx="26.6" cy="541.9" r="2" fill="#c6cad5"/><circle cx="34.2" cy="544.1" r="2" fill="#c7c9d4"/><circle cx="38.5" cy="544" r="1.8" fill="#c5cad7"/><circle cx="44.1" cy="544.3" r="2.1" fill="#c5cbd8"/><circle cx="46.5" cy="545.1" r="2.2" fill="#c4c7d1"/><circle cx="51.9" cy="543.4" r="2" fill="#c4c5d0"/><circle cx="59.5" cy="543.9" r="2.2" fill="#d1d3e0"/><circle cx="62.4" cy="544.2" r="2.2" fill="#c8cdd8"/><circle cx="67.7" cy="542" r="1.9" fill="#c5cbd4"/><circle cx="76.5" cy="543.3" r="1.7" fill="#cbd1db"/><circle cx="81.8" cy="542.4" r="2.1" fill="#c8cdd6"/><circle cx="93.3" cy="542.2" r="2.2" fill="#d5d8df"/><circle cx="96.9" cy="542" r="2.2" fill="#d0d2d8"/><circle cx="107.6" cy="542" r="2" fill="#c6ccd4"/><circle cx="113.7" cy="544.3" r="1.8" fill="#ced4dc"/><circle cx="119.5" cy="542.5" r="1.7" fill="#c7ccd5"/><circle cx="129.5" cy="544.6" r="2" fill="#c4c7d6"/><circle cx="132.8" cy="543" r="2.2" fill="#d5d8df"/><circle cx="148.2" cy="544.4" r="1.8" fill="#c7c9d6"/><circle cx="152.8" cy="542" r="2.2" fill="#d4d5de"/><circle cx="32.1" cy="547.9" r="2.3" fill="#d3d3e2"/><circle cx="34.3" cy="546.8" r="1.8" fill="#d1d4e0"/><circle cx="40.8" cy="546.7" r="2" fill="#c3c7d7"/><circle cx="49.6" cy="548.7" r="2.2" fill="#ceccda"/><circle cx="55.1" cy="548.1" r="1.8" fill="#d1d5e2"/><circle cx="65.2" cy="548.1" r="1.7" fill="#caccd8"/><circle cx="70.1" cy="546.9" r="2.1" fill="#c5c9d7"/><circle cx="77.2" cy="549.4" r="2.1" fill="#d4d2e0"/><circle cx="87" cy="546.9" r="2" fill="#c9cbd7"/><circle cx="90" cy="548.4" r="2.1" fill="#d2d5de"/><circle cx="95.6" cy="549.4" r="2.2" fill="#d0d1df"/><circle cx="106.5" cy="548.8" r="2.2" fill="#caccd8"/><circle cx="111.2" cy="549.2" r="2.1" fill="#cdcbd7"/><circle cx="116.3" cy="548.3" r="1.9" fill="#ceccd6"/><circle cx="124.6" cy="546.4" r="1.7" fill="#cfd3dd"/><circle cx="129.9" cy="547.3" r="2" fill="#c9c9d1"/><circle cx="142.1" cy="548" r="1.7" fill="#cacfdc"/><circle cx="149.9" cy="546.4" r="2.2" fill="#c6c8d3"/><circle cx="155.5" cy="548.2" r="2" fill="#d3d2df"/><circle cx="29.4" cy="552.8" r="2.2" fill="#c4c8d4"/><circle cx="31.4" cy="552.8" r="1.7" fill="#d2d4df"/><circle cx="48.4" cy="551.6" r="2.3" fill="#cdd4dc"/><circle cx="53.4" cy="550.7" r="2.2" fill="#c9d1da"/><circle cx="57.7" cy="551.5" r="2.2" fill="#c8ccd4"/><circle cx="62.7" cy="551.7" r="2" fill="#d2d7e1"/><circle cx="76.5" cy="552.8" r="2" fill="#c9ccd9"/><circle cx="82.4" cy="553.6" r="1.9" fill="#cbcfd9"/><circle cx="92.7" cy="550.6" r="1.9" fill="#d0d2e0"/><circle cx="116.8" cy="553.6" r="2.2" fill="#cdd3d9"/><circle cx="128.7" cy="551.9" r="1.9" fill="#c8c8d2"/><circle cx="134.6" cy="552" r="2.3" fill="#d1d7de"/><circle cx="137.2" cy="553.5" r="2" fill="#d0d8df"/><circle cx="141.4" cy="552.3" r="2" fill="#cacddc"/><circle cx="158.7" cy="552.1" r="2.1" fill="#c7ced7"/><circle cx="26.2" cy="557.3" r="1.8" fill="#c4ccd3"/><circle cx="29.9" cy="556.1" r="2.1" fill="#c5c8d6"/><circle cx="36.3" cy="558.2" r="2" fill="#c8c8d3"/><circle cx="40.6" cy="556.4" r="2" fill="#c9cad4"/><circle cx="45.1" cy="557.6" r="2.1" fill="#cbcbda"/><circle cx="55.9" cy="556" r="2.2" fill="#c7c8d8"/><circle cx="67.1" cy="555.6" r="1.8" fill="#c5c9d3"/><circle cx="86.8" cy="556.8" r="2.1" fill="#ced0e1"/><circle cx="90" cy="556.7" r="2.3" fill="#c7cad2"/><circle cx="94.1" cy="557.7" r="2" fill="#cbced3"/><circle cx="105.1" cy="555.7" r="1.9" fill="#c7cad2"/><circle cx="109.3" cy="555.7" r="2" fill="#ced0de"/><circle cx="117.3" cy="557.8" r="1.7" fill="#d4d3dd"/><circle cx="121.6" cy="555.6" r="2" fill="#c7c8d4"/><circle cx="129.5" cy="557.5" r="2.2" fill="#ced3dd"/><circle cx="38.9" cy="559.6" r="2.2" fill="#cecfdc"/><circle cx="41.7" cy="561.8" r="1.9" fill="#c9c7d6"/><circle cx="52.1" cy="560.6" r="1.8" fill="#c3c9d5"/><circle cx="62.1" cy="559.5" r="2.1" fill="#c6cdd5"/><circle cx="67.9" cy="561" r="2" fill="#d1d7e2"/><circle cx="73.9" cy="560.1" r="1.9" fill="#ced6de"/><circle cx="77.8" cy="560.5" r="1.7" fill="#cbced8"/><circle cx="83.6" cy="561.3" r="1.9" fill="#c8c7d2"/><circle cx="89.2" cy="561.4" r="1.8" fill="#c8ced6"/><circle cx="98.1" cy="561.3" r="2.1" fill="#ced5dc"/><circle cx="103.9" cy="560.8" r="1.8" fill="#d0d2db"/><circle cx="109.1" cy="559.8" r="1.9" fill="#cfd4dd"/><circle cx="114" cy="561.5" r="1.9" fill="#cfd0da"/><circle cx="124.4" cy="559.6" r="2.1" fill="#c7c9d5"/><circle cx="129.7" cy="561.3" r="2.3" fill="#ccd3de"/><circle cx="133.2" cy="560.8" r="1.9" fill="#ced3da"/><circle cx="147.2" cy="560.2" r="1.7" fill="#d2d8e4"/><circle cx="152.1" cy="562" r="2.2" fill="#c6cdd7"/><circle cx="159.5" cy="559.7" r="1.7" fill="#d2d4db"/><circle cx="24.9" cy="566.1" r="1.9" fill="#c7cdd5"/><circle cx="30.4" cy="564.9" r="2.1" fill="#d0d2df"/><circle cx="36.7" cy="566.6" r="1.7" fill="#c3c8d5"/><circle cx="39.4" cy="563.9" r="2.2" fill="#c9ced8"/><circle cx="49.9" cy="565.1" r="2.1" fill="#cccfd6"/><circle cx="77.3" cy="564.9" r="2.1" fill="#c5cad4"/><circle cx="81.8" cy="564.5" r="2.3" fill="#ccced8"/><circle cx="86.1" cy="565.4" r="2" fill="#c5c9d0"/><circle cx="89.7" cy="564.4" r="2.2" fill="#d2d1db"/><circle cx="96.4" cy="566.7" r="2.1" fill="#d1d3e2"/><circle cx="100.3" cy="563.9" r="2.2" fill="#cac9d8"/><circle cx="109.4" cy="565" r="1.8" fill="#c4c8d5"/><circle cx="116.1" cy="566.6" r="1.7" fill="#c4c9d3"/><circle cx="121.9" cy="565.2" r="2.2" fill="#d1d0dc"/><circle cx="125.6" cy="565.1" r="2.2" fill="#c5c7d5"/><circle cx="131.9" cy="565.1" r="1.8" fill="#c5ced7"/><circle cx="134.3" cy="565.5" r="1.9" fill="#c6c9d4"/><circle cx="139.1" cy="564.5" r="1.9" fill="#d2d3e3"/><circle cx="144.1" cy="566.6" r="1.8" fill="#c4c8d2"/><circle cx="152" cy="567.2" r="1.8" fill="#c7c6d3"/><circle cx="155" cy="564.6" r="2.2" fill="#c5cad6"/><circle cx="28.1" cy="569.5" r="2.1" fill="#cccedb"/><circle cx="44.7" cy="569.9" r="2.1" fill="#d1d2de"/><circle cx="48.7" cy="570.9" r="2.2" fill="#cad0da"/><circle cx="67.2" cy="570.9" r="1.7" fill="#d5d8de"/><circle cx="86.4" cy="568.8" r="1.7" fill="#ccd0da"/><circle cx="98" cy="570.6" r="2.3" fill="#c8ccd6"/><circle cx="111.7" cy="568.4" r="1.8" fill="#c7cad6"/><circle cx="134.4" cy="570.7" r="2.2" fill="#c7c6d5"/><circle cx="157.1" cy="570.3" r="2.3" fill="#cbd0dd"/><circle cx="29" cy="573.9" r="2.2" fill="#d1d3e1"/><circle cx="39.9" cy="573.5" r="1.8" fill="#c6cbd4"/><circle cx="44.3" cy="573.8" r="1.8" fill="#ccd0d8"/><circle cx="57.1" cy="576" r="1.7" fill="#caceda"/><circle cx="64.8" cy="572.9" r="2" fill="#cfd2db"/><circle cx="70.4" cy="574.1" r="1.8" fill="#ced0dd"/><circle cx="79" cy="572.7" r="2.1" fill="#ccd1d9"/><circle cx="95.9" cy="573" r="2.1" fill="#c7cbd9"/><circle cx="99.7" cy="573.1" r="2.2" fill="#c3c8d2"/><circle cx="110.8" cy="573.4" r="2.1" fill="#c4cad1"/><circle cx="120.1" cy="573.7" r="2.1" fill="#c6cdd7"/><circle cx="126.5" cy="574" r="2.3" fill="#d2d7e0"/><circle cx="132.2" cy="573.9" r="2.2" fill="#d0d2dc"/><circle cx="135" cy="574" r="2.2" fill="#cdd0e1"/><circle cx="27.9" cy="579.2" r="1.8" fill="#d1cfdf"/><circle cx="32" cy="579.2" r="1.8" fill="#cdd0dc"/><circle cx="39.1" cy="578.3" r="1.9" fill="#c4c9d1"/><circle cx="44" cy="578.8" r="2.2" fill="#d1cfd9"/><circle cx="54.8" cy="577.4" r="2" fill="#d4d3df"/><circle cx="57.4" cy="579.6" r="2.1" fill="#c4ccd5"/><circle cx="77.4" cy="577" r="1.7" fill="#caceda"/><circle cx="83.9" cy="578.5" r="1.7" fill="#d1d6e4"/><circle cx="89.1" cy="577.8" r="1.9" fill="#cccdda"/><circle cx="101.8" cy="579.6" r="2.3" fill="#c6c9d1"/><circle cx="109" cy="579.4" r="1.8" fill="#d3d3de"/><circle cx="111.8" cy="579.9" r="1.8" fill="#cdced8"/><circle cx="118.9" cy="579.6" r="2" fill="#c8cbd2"/><circle cx="127.4" cy="578.2" r="1.7" fill="#d3d4e0"/><circle cx="132.8" cy="577.6" r="1.7" fill="#cfd4e0"/><circle cx="137.2" cy="580" r="2.3" fill="#cac9d9"/><circle cx="142.1" cy="578.3" r="2" fill="#ccd3dc"/><circle cx="154.1" cy="580.3" r="1.8" fill="#c8c9d6"/><circle cx="158.9" cy="578.1" r="2" fill="#c3cbd7"/><circle cx="26.6" cy="581.4" r="2.2" fill="#c7cada"/><circle cx="29" cy="583.5" r="2" fill="#d3d2e0"/><circle cx="35.7" cy="584.3" r="2.2" fill="#c5cdd7"/><circle cx="50.7" cy="582.3" r="2.1" fill="#cfd6e1"/><circle cx="56.8" cy="582.7" r="2" fill="#d2d5df"/><circle cx="62.3" cy="584.8" r="2" fill="#d2d6e1"/><circle cx="72.3" cy="583.1" r="2.1" fill="#d6d9e2"/><circle cx="84.6" cy="582.5" r="1.9" fill="#cccdda"/><circle cx="92" cy="583.7" r="1.8" fill="#cbd2de"/><circle cx="97.2" cy="583.5" r="2.3" fill="#cbd0d7"/><circle cx="109.9" cy="582" r="2.3" fill="#c3c9d3"/><circle cx="120.3" cy="582.5" r="2" fill="#cfd1d9"/><circle cx="126.2" cy="583.3" r="2.2" fill="#cdcdd7"/><circle cx="129" cy="583.9" r="2" fill="#ced2de"/><circle cx="134" cy="584" r="2" fill="#c5cbd4"/><circle cx="139.8" cy="583.3" r="1.8" fill="#c7c6d6"/><circle cx="152.3" cy="582.9" r="2.1" fill="#d3d9e2"/><circle cx="156.7" cy="583.6" r="2" fill="#c8ccd9"/><circle cx="29" cy="588.2" r="2" fill="#c6c9d3"/><circle cx="33.3" cy="588.2" r="1.9" fill="#d1cfdb"/><circle cx="43.7" cy="588.2" r="2.1" fill="#c7c8d6"/><circle cx="47.4" cy="587.1" r="2" fill="#cacbd6"/><circle cx="51.8" cy="586.6" r="1.8" fill="#cbd1de"/><circle cx="56.8" cy="586.5" r="1.7" fill="#d0d5df"/><circle cx="63.3" cy="587.9" r="2.2" fill="#cfd5e1"/><circle cx="69.3" cy="586.9" r="2.3" fill="#cfd0db"/><circle cx="73.7" cy="585.9" r="2" fill="#cdd1dd"/><circle cx="79.4" cy="587.6" r="1.8" fill="#d0cfde"/><circle cx="92.9" cy="588.6" r="1.9" fill="#d0d6e2"/><circle cx="99.7" cy="588.6" r="1.9" fill="#c6cacf"/><circle cx="114" cy="588.2" r="2.3" fill="#c3c5d5"/><circle cx="116.4" cy="586.8" r="2.1" fill="#c6c8d4"/><circle cx="124.4" cy="587.6" r="1.8" fill="#c7c8d5"/><circle cx="129" cy="586.8" r="1.7" fill="#d3d6dd"/><circle cx="153.1" cy="586.6" r="2.3" fill="#cfd3e0"/><circle cx="24.9" cy="592" r="2" fill="#d1d1de"/><circle cx="30.1" cy="593.1" r="2" fill="#c8ccd9"/><circle cx="36.7" cy="590.2" r="2.1" fill="#ced0db"/><circle cx="51" cy="591.1" r="1.9" fill="#cbcbd7"/><circle cx="53.9" cy="591.1" r="1.7" fill="#d2d4e2"/><circle cx="59" cy="592.2" r="1.7" fill="#d3d5e1"/><circle cx="70.1" cy="592.8" r="2.1" fill="#d2d6dd"/><circle cx="79" cy="593.3" r="2.1" fill="#c9c8d5"/><circle cx="84" cy="592.4" r="1.9" fill="#cdd3d9"/><circle cx="97" cy="590.6" r="1.8" fill="#c7c6d1"/><circle cx="101.4" cy="592" r="2.3" fill="#c5c8d5"/><circle cx="130.7" cy="592.6" r="1.8" fill="#ced1df"/><circle cx="149.2" cy="592.9" r="1.9" fill="#cfd5dd"/><circle cx="29.6" cy="597.5" r="1.8" fill="#c7cbd8"/><circle cx="32.7" cy="594.6" r="1.9" fill="#cdd0d8"/><circle cx="44" cy="596.3" r="2.3" fill="#cfd0dd"/><circle cx="49.4" cy="596.9" r="2.1" fill="#d3d3e0"/><circle cx="52.5" cy="595.5" r="1.8" fill="#c7cbda"/><circle cx="58" cy="594.9" r="2" fill="#cecedc"/><circle cx="68.1" cy="596.9" r="1.8" fill="#d2d6e1"/><circle cx="71.7" cy="597.5" r="1.9" fill="#d0d0d9"/><circle cx="78.9" cy="597.6" r="2.1" fill="#d6d5e1"/><circle cx="82.4" cy="597.8" r="2.3" fill="#c9cbd7"/><circle cx="92.6" cy="594.7" r="2.2" fill="#cfd5de"/><circle cx="97.6" cy="597.2" r="2.2" fill="#c8cfd5"/><circle cx="107.1" cy="597.8" r="2.2" fill="#cbcad9"/><circle cx="114.6" cy="595.5" r="2" fill="#c8c6d3"/><circle cx="128.6" cy="595" r="2.2" fill="#cbd3da"/><circle cx="133.5" cy="596.5" r="2" fill="#ced5df"/><circle cx="139.6" cy="594.9" r="1.8" fill="#cfd2df"/><circle cx="142.1" cy="596.9" r="2" fill="#cbced6"/><circle cx="147.6" cy="596.9" r="1.9" fill="#c3c9d1"/><circle cx="154.4" cy="595.3" r="2.2" fill="#cbcddc"/><circle cx="27.1" cy="599.1" r="1.9" fill="#cdd0db"/><circle cx="31.4" cy="601.9" r="1.9" fill="#cccedc"/><circle cx="41.6" cy="599.4" r="1.7" fill="#ccd1d9"/><circle cx="45.3" cy="599.1" r="2.1" fill="#d2d5e1"/><circle cx="62.2" cy="600.9" r="2" fill="#cacad4"/><circle cx="74.2" cy="600.2" r="1.9" fill="#c4cbd3"/><circle cx="84.8" cy="601.8" r="1.9" fill="#ced6db"/><circle cx="92.2" cy="602.3" r="2.1" fill="#ced3de"/><circle cx="116.6" cy="599.8" r="1.8" fill="#d3d3dd"/><circle cx="119.3" cy="599.3" r="2.2" fill="#d1d4dd"/><circle cx="127.1" cy="600.6" r="2" fill="#c6cbd4"/><circle cx="135.8" cy="600.5" r="2.2" fill="#d0d7de"/><circle cx="139.6" cy="602" r="1.8" fill="#cfd2df"/><circle cx="146.8" cy="600.9" r="1.9" fill="#ced1d7"/><circle cx="149.8" cy="599.1" r="1.9" fill="#c8c7d5"/><circle cx="154.8" cy="601.2" r="1.8" fill="#cacad6"/><circle cx="38.9" cy="604.3" r="2.3" fill="#cdcbd9"/><circle cx="52.9" cy="605" r="1.8" fill="#cccbd7"/><circle cx="67.6" cy="603.8" r="1.9" fill="#d0d3de"/><circle cx="74.3" cy="606.3" r="1.8" fill="#c8c6d4"/><circle cx="83.7" cy="605.4" r="1.8" fill="#c8cbd3"/><circle cx="88.2" cy="606.3" r="1.7" fill="#c4cad6"/><circle cx="92.9" cy="604" r="2.1" fill="#ced0df"/><circle cx="98.5" cy="605" r="1.9" fill="#c8cbd7"/><circle cx="103.7" cy="606.8" r="1.7" fill="#cdcfdc"/><circle cx="122.2" cy="604.8" r="1.9" fill="#cdced8"/><circle cx="138.3" cy="606.7" r="2.3" fill="#c6cfd4"/><circle cx="144.1" cy="603.9" r="2" fill="#d0d5de"/><circle cx="157.7" cy="604.2" r="2.3" fill="#d6d6e0"/><circle cx="26" cy="608.2" r="2.1" fill="#c8cdd5"/><circle cx="36.8" cy="608.2" r="1.9" fill="#c6c9d4"/><circle cx="41.5" cy="609.6" r="1.7" fill="#cacbda"/><circle cx="45.8" cy="608" r="2" fill="#d1d3e2"/><circle cx="50.7" cy="610.3" r="2.3" fill="#ccd0dc"/><circle cx="54.4" cy="608.5" r="1.8" fill="#caccd9"/><circle cx="60.3" cy="609.6" r="1.7" fill="#d1d5e1"/><circle cx="64.7" cy="607.9" r="1.8" fill="#cdd3e0"/><circle cx="70.8" cy="607.8" r="2.1" fill="#ced4db"/><circle cx="77" cy="611.2" r="2.1" fill="#cdd0da"/><circle cx="79.2" cy="609.5" r="1.7" fill="#ced0dd"/><circle cx="104.1" cy="611.1" r="1.9" fill="#cbcede"/><circle cx="109.6" cy="610.7" r="2.2" fill="#d4d4df"/><circle cx="119" cy="609.1" r="1.9" fill="#cbcedc"/><circle cx="130.8" cy="610" r="1.7" fill="#ceccdc"/><circle cx="135.1" cy="610.6" r="1.9" fill="#d6d3de"/><circle cx="139.1" cy="607.8" r="2.3" fill="#cfcfdc"/><circle cx="151.9" cy="609.3" r="1.9" fill="#d1d8e1"/><circle cx="154.6" cy="611" r="1.8" fill="#c4cbd2"/><circle cx="48.9" cy="614.4" r="1.9" fill="#cbcdda"/><circle cx="67.9" cy="613.6" r="2.2" fill="#cacad8"/><circle cx="74.6" cy="612.4" r="2.3" fill="#d0d0dd"/><circle cx="78.2" cy="613.9" r="2.2" fill="#cfd0dc"/><circle cx="82.5" cy="614.6" r="2.2" fill="#d5d3e0"/><circle cx="88.1" cy="615" r="2.2" fill="#d1d4de"/><circle cx="106.4" cy="612.8" r="2" fill="#c3c9d3"/><circle cx="114.3" cy="612.6" r="2.1" fill="#cac8d4"/><circle cx="122.3" cy="613.7" r="1.8" fill="#ccd0db"/><circle cx="128" cy="614" r="1.9" fill="#c7c9d4"/><circle cx="132.4" cy="613" r="1.7" fill="#cacdd7"/><circle cx="137.1" cy="612.3" r="2.1" fill="#c5c8d2"/><circle cx="143.4" cy="614.9" r="2.1" fill="#c5c6d2"/><circle cx="157.7" cy="612.2" r="1.7" fill="#caccd5"/><circle cx="27.3" cy="619.1" r="2.2" fill="#c7cad5"/><circle cx="31.6" cy="618.2" r="1.7" fill="#c5cbd8"/><circle cx="61.8" cy="616.6" r="2" fill="#c8cad7"/><circle cx="66.3" cy="618.1" r="1.8" fill="#d1d1df"/><circle cx="77.3" cy="618.6" r="1.9" fill="#cdd0dc"/><circle cx="83.9" cy="618.9" r="1.8" fill="#c3c6d1"/><circle cx="96.7" cy="617.6" r="1.9" fill="#c9ced6"/><circle cx="112.3" cy="618.8" r="2" fill="#d4d3e2"/><circle cx="114.9" cy="617.6" r="1.8" fill="#c9c7d3"/><circle cx="126.4" cy="619.8" r="1.8" fill="#c6c7d2"/><circle cx="129.2" cy="616.6" r="1.9" fill="#caccd7"/><circle cx="139" cy="619.3" r="2.1" fill="#caced6"/><circle cx="150.7" cy="618" r="2.1" fill="#c8c8d6"/><circle cx="157" cy="618.5" r="2" fill="#ceced9"/><circle cx="26.6" cy="621" r="2.3" fill="#d1d3dd"/><circle cx="34" cy="622.8" r="2" fill="#d1d3db"/><circle cx="39.2" cy="623.6" r="2.1" fill="#cdcdd7"/><circle cx="49.4" cy="622.4" r="1.7" fill="#c6cad1"/><circle cx="51.5" cy="623.2" r="2.1" fill="#d0d1dd"/><circle cx="58.6" cy="621.5" r="1.9" fill="#c3c8d6"/><circle cx="61.8" cy="622.1" r="2.1" fill="#d1d6e0"/><circle cx="67.1" cy="621.7" r="2.2" fill="#cbc8d4"/><circle cx="77.1" cy="623.7" r="1.9" fill="#c8cdd9"/><circle cx="82" cy="621.2" r="1.9" fill="#cdcfd9"/><circle cx="86.5" cy="623.1" r="2.1" fill="#d0d2df"/><circle cx="92" cy="623.5" r="2.1" fill="#cbd0dc"/><circle cx="102.9" cy="622.5" r="2" fill="#d3d5de"/><circle cx="114.5" cy="622" r="1.8" fill="#c8cbd4"/><circle cx="124.3" cy="621.8" r="1.8" fill="#d5d7df"/><circle cx="129.7" cy="622.6" r="2.1" fill="#d0d5e3"/><circle cx="148.6" cy="624" r="2" fill="#d0d2e2"/><circle cx="159.1" cy="622.7" r="2.3" fill="#d1d6e5"/></g></g><g opacity="0.6"><circle cx="47.5" cy="571.9" r="0.8" fill="#b69989"/><circle cx="114.6" cy="608.3" r="0.7" fill="#aa9783"/><circle cx="64.1" cy="532.9" r="1" fill="#b59b8d"/><circle cx="55.2" cy="586.6" r="0.9" fill="#ad947d"/><circle cx="38.4" cy="560.1" r="1.1" fill="#b49a8e"/><circle cx="152.1" cy="564.8" r="1.1" fill="#ab9586"/><circle cx="71" cy="547.7" r="1.1" fill="#b39a8a"/><circle cx="115.4" cy="533.8" r="1" fill="#ad9483"/><circle cx="62.5" cy="560.6" r="1.2" fill="#b49d8b"/><circle cx="125.1" cy="537.1" r="1.1" fill="#bea08f"/><circle cx="50.3" cy="569.2" r="1.2" fill="#a99680"/><circle cx="66.1" cy="576.6" r="0.9" fill="#b9a091"/><circle cx="119.1" cy="562.6" r="1.1" fill="#af9a86"/><circle cx="116.2" cy="578.8" r="1" fill="#b7a68e"/><circle cx="49.1" cy="603.5" r="1.1" fill="#b09680"/><circle cx="95.3" cy="577.8" r="1.3" fill="#b99b8b"/><circle cx="87.7" cy="614.1" r="0.9" fill="#b19886"/><circle cx="83.2" cy="562.9" r="1" fill="#b6a28d"/><circle cx="57.7" cy="597.1" r="1" fill="#bea68f"/><circle cx="42.5" cy="546.8" r="0.8" fill="#ac927e"/><circle cx="85" cy="566.2" r="1.4" fill="#b09986"/><circle cx="51.4" cy="540.4" r="1.3" fill="#b79c8a"/><circle cx="88.6" cy="596.9" r="0.8" fill="#b09281"/><circle cx="118.5" cy="605.2" r="0.8" fill="#c0a490"/><circle cx="133" cy="606.8" r="0.9" fill="#af957f"/><circle cx="32.7" cy="534.1" r="1" fill="#bca190"/><circle cx="122" cy="555.4" r="1.1" fill="#c0a994"/><circle cx="150.1" cy="557.4" r="0.9" fill="#b49d8d"/><circle cx="64.9" cy="544.4" r="0.8" fill="#b4998a"/><circle cx="33.8" cy="573.9" r="1.1" fill="#c0a791"/><circle cx="117.8" cy="535.7" r="1.3" fill="#b39b87"/><circle cx="31.5" cy="538.3" r="0.9" fill="#b49885"/><circle cx="134.6" cy="586" r="1.2" fill="#b79d8b"/><circle cx="63.5" cy="597.9" r="1.3" fill="#baa08b"/><circle cx="139.5" cy="534.7" r="1.3" fill="#b79b8c"/></g><g opacity="0.8"><circle cx="106.5" cy="545.8" r="0.9" fill="#72563e"/><circle cx="54.8" cy="552.5" r="1" fill="#765842"/><circle cx="63.1" cy="588.4" r="0.9" fill="#755644"/><circle cx="53.4" cy="523.5" r="0.8" fill="#725442"/><circle cx="102.1" cy="552" r="0.9" fill="#6e4f3f"/><circle cx="123.4" cy="571.6" r="1" fill="#785846"/><circle cx="107" cy="606.8" r="1" fill="#755546"/></g></g></g><clipPath id="cp4"><rect x="152.8" y="521.5" width="122.3" height="98.0"/></clipPath><g clip-path="url(#cp4)"><rect x="152.8" y="521.5" width="122.3" height="98.0" filter="url(#tx4)"/><mask id="mk4"><rect x="152.8" y="521.5" width="122.3" height="98.0" fill="url(#gl)"/></mask><rect x="152.8" y="521.5" width="122.3" height="98.0" filter="url(#st4)" mask="url(#mk4)"/><g filter="url(#blur5)"><g opacity="0.45"><g stroke="#b2b6c8" stroke-width="0.5"><circle cx="150" cy="518.3" r="2" fill="#c3c5d6"/><circle cx="159.6" cy="518.6" r="1.8" fill="#c2c8d9"/><circle cx="171.2" cy="517" r="1.8" fill="#c1c6d9"/><circle cx="175.6" cy="516.4" r="1.9" fill="#c9d1e2"/><circle cx="181.3" cy="515.5" r="1.9" fill="#c4c8d7"/><circle cx="186.7" cy="516.1" r="1.8" fill="#c1c3d1"/><circle cx="188.7" cy="515.4" r="2" fill="#c7ced8"/><circle cx="195.7" cy="517.7" r="1.8" fill="#c5c9da"/><circle cx="199.6" cy="516.8" r="2.2" fill="#cccce0"/><circle cx="218.6" cy="516.4" r="1.8" fill="#c4c6d4"/><circle cx="223.9" cy="516.7" r="1.9" fill="#c8ccdb"/><circle cx="230.9" cy="517.9" r="2.2" fill="#cbcadb"/><circle cx="250.6" cy="516" r="2" fill="#c0c5d1"/><circle cx="253.9" cy="517.4" r="1.7" fill="#c4cadb"/><circle cx="259.7" cy="515.9" r="2" fill="#c2c7d7"/><circle cx="269.2" cy="516.8" r="2.2" fill="#c1c8d9"/><circle cx="274.3" cy="515.6" r="2.1" fill="#c3c4d4"/><circle cx="280.2" cy="518" r="2.3" fill="#c2c3d4"/><circle cx="147.3" cy="521.3" r="1.9" fill="#c3c8d8"/><circle cx="152.1" cy="520.9" r="2" fill="#cacddd"/><circle cx="158.7" cy="520" r="2.3" fill="#c6cddd"/><circle cx="166.7" cy="520.4" r="2.3" fill="#c7cbdb"/><circle cx="177.5" cy="521.7" r="2.2" fill="#bec5d7"/><circle cx="188" cy="520.3" r="1.7" fill="#c6cad9"/><circle cx="192.6" cy="520.5" r="1.8" fill="#c8ccdb"/><circle cx="213.8" cy="521.4" r="2" fill="#c1c1d2"/><circle cx="237.2" cy="520.3" r="1.7" fill="#ced2df"/><circle cx="244.5" cy="521.2" r="1.8" fill="#c9cbde"/><circle cx="271.2" cy="520.7" r="2" fill="#bbc0d5"/><circle cx="276.3" cy="521.7" r="2.3" fill="#c0c1d5"/><circle cx="149.4" cy="526.3" r="1.8" fill="#cac9de"/><circle cx="165.2" cy="525.2" r="1.9" fill="#c0c4d7"/><circle cx="173.8" cy="524.3" r="2.2" fill="#c5ccdc"/><circle cx="185.7" cy="524.2" r="1.9" fill="#bcc6d4"/><circle cx="191.7" cy="525.6" r="2.1" fill="#ced1e0"/><circle cx="195.7" cy="524.3" r="2.1" fill="#c4c6d8"/><circle cx="206.1" cy="525.2" r="2.1" fill="#c1c4d4"/><circle cx="211.4" cy="524.6" r="2.1" fill="#cccfe2"/><circle cx="216.1" cy="525.7" r="1.9" fill="#cccedd"/><circle cx="221.6" cy="524.8" r="2" fill="#cdcfdc"/><circle cx="226.3" cy="524.4" r="2.3" fill="#cbd1e1"/><circle cx="234.8" cy="527.2" r="2.1" fill="#c2c1d6"/><circle cx="244" cy="527.2" r="2.3" fill="#c5cdd9"/><circle cx="255.8" cy="524.6" r="2.3" fill="#c2c7d8"/><circle cx="265.6" cy="526.8" r="2.2" fill="#c6c9da"/><circle cx="268.7" cy="525.1" r="2.3" fill="#c7c9d9"/><circle cx="282" cy="525" r="1.8" fill="#bfc3d1"/><circle cx="146.6" cy="528.9" r="1.8" fill="#c3cadd"/><circle cx="159.5" cy="529.2" r="1.8" fill="#c6cad7"/><circle cx="162.5" cy="532" r="2.1" fill="#cccedf"/><circle cx="168.5" cy="531" r="1.9" fill="#c9cede"/><circle cx="172.5" cy="530.6" r="1.7" fill="#c9d0e0"/><circle cx="188.3" cy="529.1" r="2.2" fill="#c0c2d5"/><circle cx="197.3" cy="531.9" r="2.1" fill="#ccd0e1"/><circle cx="204.3" cy="530.5" r="1.9" fill="#ced1e0"/><circle cx="208.6" cy="531.7" r="1.8" fill="#c6c9d6"/><circle cx="211.4" cy="529.1" r="1.8" fill="#c8ccda"/><circle cx="217.1" cy="530.8" r="2" fill="#c2c3d8"/><circle cx="229.1" cy="530.2" r="1.7" fill="#c4c8d5"/><circle cx="234.2" cy="529.9" r="2.2" fill="#c3c7d7"/><circle cx="243.6" cy="530.9" r="1.8" fill="#c6cada"/><circle cx="248.2" cy="529.2" r="2.2" fill="#c4c5d5"/><circle cx="251.3" cy="531.4" r="2" fill="#bcc3d4"/><circle cx="257.4" cy="531.6" r="2.1" fill="#c7cbdc"/><circle cx="149.9" cy="534.9" r="2" fill="#c1c5d5"/><circle cx="165.4" cy="536.3" r="2.3" fill="#c5cddc"/><circle cx="174.1" cy="534.5" r="1.9" fill="#bfc5d5"/><circle cx="178.6" cy="535" r="1.9" fill="#cbd0dc"/><circle cx="184.4" cy="535.2" r="2" fill="#ccd1e0"/><circle cx="191.2" cy="535.5" r="2.2" fill="#cbccda"/><circle cx="194.8" cy="535.4" r="2.1" fill="#cfd0e4"/><circle cx="201.8" cy="534.8" r="2" fill="#cccfdd"/><circle cx="206.4" cy="534.5" r="1.8" fill="#ccd2e2"/><circle cx="214" cy="535.3" r="1.8" fill="#c3c3d3"/><circle cx="219.3" cy="533.5" r="2.2" fill="#c3cbd8"/><circle cx="226.2" cy="535.7" r="2.1" fill="#c7c9d6"/><circle cx="236.2" cy="535.3" r="2.1" fill="#cad0db"/><circle cx="239.6" cy="534.9" r="2.1" fill="#c9cddd"/><circle cx="256.8" cy="536.4" r="1.8" fill="#c2c5d4"/><circle cx="265.7" cy="534.7" r="2.3" fill="#c6c9d8"/><circle cx="274.6" cy="535.3" r="1.9" fill="#c6c9db"/><circle cx="281.3" cy="534.2" r="2.2" fill="#c1c9d4"/><circle cx="146.8" cy="538" r="2" fill="#c0c3d8"/><circle cx="151.4" cy="540.3" r="2" fill="#c1c5d5"/><circle cx="162.6" cy="537.9" r="1.7" fill="#c3cbdb"/><circle cx="167.7" cy="538.9" r="2.3" fill="#c3c9da"/><circle cx="171.3" cy="539.9" r="2" fill="#c6ccdb"/><circle cx="178.2" cy="540.1" r="1.7" fill="#bdc5d5"/><circle cx="181.6" cy="537.7" r="1.9" fill="#c1c4d4"/><circle cx="188.9" cy="538.5" r="2.1" fill="#caccde"/><circle cx="192.7" cy="537.6" r="1.7" fill="#c2c6d4"/><circle cx="197.1" cy="540.1" r="1.9" fill="#c6c9dd"/><circle cx="203.9" cy="538.6" r="2" fill="#c0c5d8"/><circle cx="208.8" cy="540.5" r="2" fill="#cacadd"/><circle cx="212" cy="540.7" r="2.1" fill="#c9cddf"/><circle cx="217.4" cy="540.6" r="2.2" fill="#ccd3e2"/><circle cx="223.3" cy="538.9" r="1.7" fill="#c6cade"/><circle cx="228.3" cy="537.9" r="1.9" fill="#bfc7d5"/><circle cx="238.4" cy="538.7" r="2.1" fill="#c8cede"/><circle cx="243.3" cy="539.2" r="2.2" fill="#c6cdde"/><circle cx="257.6" cy="538" r="2.1" fill="#cbd1df"/><circle cx="269.5" cy="537.6" r="2.1" fill="#c1c6d4"/><circle cx="273.8" cy="537.4" r="2.3" fill="#cdd0dd"/><circle cx="277.4" cy="538.7" r="1.8" fill="#bec2d1"/><circle cx="156.5" cy="545.2" r="2.2" fill="#bec6d1"/><circle cx="159.6" cy="544.1" r="2.1" fill="#c1c1d7"/><circle cx="164.5" cy="543.1" r="1.8" fill="#c5c7d8"/><circle cx="168.8" cy="543.8" r="2.3" fill="#c5c4d4"/><circle cx="173.8" cy="543.1" r="1.8" fill="#cdcfdd"/><circle cx="180.9" cy="541.9" r="2.3" fill="#bfc5d3"/><circle cx="186.4" cy="543.5" r="1.7" fill="#bfc2d6"/><circle cx="191.3" cy="544.4" r="1.8" fill="#c8c9db"/><circle cx="196.9" cy="545.2" r="2" fill="#c3ccd8"/><circle cx="202" cy="543.1" r="2.1" fill="#cbd3e3"/><circle cx="205.4" cy="542.1" r="1.9" fill="#cad0dd"/><circle cx="214" cy="542.3" r="1.9" fill="#c7cedb"/><circle cx="220.8" cy="545.2" r="1.9" fill="#bdc6d3"/><circle cx="223.8" cy="543" r="1.8" fill="#cdd0e0"/><circle cx="244.2" cy="543" r="2.1" fill="#c6c8d6"/><circle cx="266" cy="543.4" r="2.1" fill="#c0c8d7"/><circle cx="149.1" cy="549" r="2.2" fill="#ccd0e3"/><circle cx="151.3" cy="548.9" r="2" fill="#c2c2d5"/><circle cx="158.6" cy="548.5" r="2.1" fill="#cdd3de"/><circle cx="166.8" cy="549.3" r="2" fill="#cbcedc"/><circle cx="174.5" cy="546.7" r="1.9" fill="#bec5d4"/><circle cx="177.4" cy="548.4" r="1.9" fill="#c4c9d8"/><circle cx="188.6" cy="546.8" r="1.7" fill="#caccdd"/><circle cx="198.5" cy="547" r="1.9" fill="#ced3e2"/><circle cx="204" cy="549.4" r="1.8" fill="#c5c8dd"/><circle cx="208.7" cy="549.3" r="2" fill="#cad0de"/><circle cx="214" cy="548.2" r="1.8" fill="#c2c4d4"/><circle cx="218.8" cy="548.9" r="1.8" fill="#bfc4d3"/><circle cx="226.3" cy="547.1" r="2" fill="#c8c7d8"/><circle cx="248.2" cy="547.7" r="1.9" fill="#cfd3e1"/><circle cx="256.6" cy="546.6" r="2.3" fill="#cdd1e0"/><circle cx="274.3" cy="546.6" r="1.7" fill="#c7cad9"/><circle cx="278.1" cy="547.5" r="1.8" fill="#cacede"/><circle cx="153.7" cy="551.6" r="2" fill="#c7cadf"/><circle cx="159.6" cy="551.6" r="2" fill="#c4c8d7"/><circle cx="167" cy="551.8" r="1.8" fill="#c0c3d2"/><circle cx="170.5" cy="551.8" r="1.9" fill="#cacee0"/><circle cx="174.3" cy="553.2" r="2" fill="#c3c6d8"/><circle cx="181" cy="552.9" r="1.9" fill="#cacada"/><circle cx="183.7" cy="553" r="2" fill="#c2c7d2"/><circle cx="188.7" cy="551.5" r="2.1" fill="#c6c7d6"/><circle cx="205.1" cy="554" r="1.9" fill="#c1c2d0"/><circle cx="213.7" cy="551.9" r="2.3" fill="#cacedd"/><circle cx="220.1" cy="551.7" r="2.2" fill="#c4cad8"/><circle cx="226" cy="551.9" r="1.8" fill="#cad3e0"/><circle cx="236.6" cy="552.9" r="2.3" fill="#c5c9da"/><circle cx="245.3" cy="551.1" r="1.8" fill="#c4c9d9"/><circle cx="255.2" cy="552.6" r="1.9" fill="#c2c5da"/><circle cx="259" cy="552.6" r="1.7" fill="#c2c1d2"/><circle cx="271.6" cy="553.7" r="2.1" fill="#c9cad8"/><circle cx="281.4" cy="553.9" r="2.2" fill="#bec0d5"/><circle cx="147.3" cy="556.5" r="2.1" fill="#d0d1e3"/><circle cx="152.7" cy="555" r="1.8" fill="#c9cfdd"/><circle cx="156.8" cy="556.6" r="2.1" fill="#c1c6d9"/><circle cx="162.9" cy="555" r="2" fill="#c4c7d5"/><circle cx="167.1" cy="555.8" r="1.8" fill="#cbd1e0"/><circle cx="172.6" cy="555.3" r="2.1" fill="#caccdd"/><circle cx="176.2" cy="557.2" r="2" fill="#c4c9db"/><circle cx="184.4" cy="555" r="2.1" fill="#c1c6d6"/><circle cx="189.4" cy="558.1" r="1.7" fill="#c9ceda"/><circle cx="197.5" cy="556" r="2.2" fill="#cbccdb"/><circle cx="209.1" cy="556.7" r="2.2" fill="#cfd3df"/><circle cx="216.5" cy="555.2" r="1.8" fill="#c5cbdb"/><circle cx="227.8" cy="556" r="1.7" fill="#c1c4d9"/><circle cx="244.2" cy="557.4" r="2.1" fill="#bfc2d3"/><circle cx="246.9" cy="556.7" r="1.8" fill="#c3c7d8"/><circle cx="253.7" cy="558" r="2" fill="#bfc7d2"/><circle cx="276.4" cy="556.8" r="1.9" fill="#c3c9da"/><circle cx="151.4" cy="561.6" r="2" fill="#bfc4d4"/><circle cx="178.6" cy="561.5" r="2.2" fill="#c6c9db"/><circle cx="185.8" cy="561.1" r="2.2" fill="#c5cad7"/><circle cx="211.6" cy="561.2" r="1.9" fill="#c6c8d9"/><circle cx="224.1" cy="561.7" r="2" fill="#c9ccde"/><circle cx="228.6" cy="561.6" r="2.1" fill="#c6c9db"/><circle cx="239.2" cy="562.8" r="1.9" fill="#cbd0e0"/><circle cx="245.3" cy="560.9" r="2.1" fill="#c0c5d3"/><circle cx="249.6" cy="559.4" r="2.1" fill="#c2c4d4"/><circle cx="265.2" cy="559.9" r="1.7" fill="#ccd1e2"/><circle cx="271.5" cy="559.9" r="1.9" fill="#c5cadc"/><circle cx="275.4" cy="559.5" r="1.8" fill="#c6c6d5"/><circle cx="279" cy="562.4" r="1.7" fill="#cecee3"/><circle cx="147.9" cy="564.6" r="2.2" fill="#c1c5d4"/><circle cx="151.4" cy="565.4" r="2.1" fill="#c0c3d2"/><circle cx="158" cy="567.1" r="1.9" fill="#ced4df"/><circle cx="162.4" cy="565.4" r="2" fill="#c0c3d6"/><circle cx="168.6" cy="565.7" r="2" fill="#c0c3d4"/><circle cx="174.5" cy="567.2" r="2.2" fill="#c7cade"/><circle cx="183.9" cy="566.8" r="1.8" fill="#c5c9d9"/><circle cx="194.4" cy="564.7" r="1.9" fill="#cbd0db"/><circle cx="209.2" cy="567.2" r="2.1" fill="#cbcedc"/><circle cx="212.2" cy="565.1" r="2" fill="#c4c6d3"/><circle cx="228.1" cy="564.8" r="1.9" fill="#cacede"/><circle cx="232.6" cy="564.4" r="2.1" fill="#c7c6d7"/><circle cx="238.5" cy="566.5" r="2.3" fill="#c3cad9"/><circle cx="261.4" cy="567.2" r="2.1" fill="#c1c4d3"/><circle cx="273.2" cy="565.2" r="1.7" fill="#c5cbdb"/><circle cx="149.6" cy="571.5" r="1.9" fill="#cbd2e3"/><circle cx="154.8" cy="570" r="1.9" fill="#c7cada"/><circle cx="161.9" cy="570.1" r="1.8" fill="#cfcee0"/><circle cx="174.7" cy="569.2" r="2.3" fill="#c5c7d5"/><circle cx="179.1" cy="569.7" r="1.9" fill="#c3c5d9"/><circle cx="189.7" cy="568.6" r="2.3" fill="#c1bfd1"/><circle cx="201.8" cy="569.9" r="2.3" fill="#c8c9dc"/><circle cx="204" cy="571.3" r="2.2" fill="#c3c7d9"/><circle cx="210.3" cy="571" r="2.1" fill="#cbd0dd"/><circle cx="214.5" cy="570.4" r="2" fill="#c7cbd9"/><circle cx="221.6" cy="569.7" r="1.9" fill="#d0d3e4"/><circle cx="241.5" cy="570.6" r="1.9" fill="#c1c1d0"/><circle cx="246.3" cy="569.4" r="1.9" fill="#c5c8da"/><circle cx="251.6" cy="568.2" r="2.2" fill="#bbc0d4"/><circle cx="254.2" cy="568.3" r="1.9" fill="#cacede"/><circle cx="261.7" cy="569.7" r="1.9" fill="#cbcfdf"/><circle cx="265.2" cy="570.4" r="1.9" fill="#bec3d6"/><circle cx="269.7" cy="571.1" r="2.1" fill="#cbccde"/><circle cx="281.2" cy="569.9" r="1.9" fill="#c5cbde"/><circle cx="147.9" cy="575.6" r="1.9" fill="#caccde"/><circle cx="152.6" cy="574.5" r="2.2" fill="#c2c4d5"/><circle cx="169.2" cy="572.9" r="1.8" fill="#cacde2"/><circle cx="171.7" cy="574.2" r="2.3" fill="#bfc4d2"/><circle cx="186.7" cy="573.5" r="2.1" fill="#c5c8d9"/><circle cx="192.3" cy="573.7" r="1.7" fill="#c9d0e0"/><circle cx="213.2" cy="574" r="2.1" fill="#cdcee0"/><circle cx="219.1" cy="573.8" r="1.7" fill="#cbd2e2"/><circle cx="224.5" cy="573.1" r="2" fill="#cbcede"/><circle cx="227.6" cy="575.8" r="1.8" fill="#ccd2e2"/><circle cx="233.7" cy="576" r="1.7" fill="#c8ccdc"/><circle cx="244.4" cy="575.7" r="2.1" fill="#cdd0de"/><circle cx="158.7" cy="580.1" r="2.3" fill="#bfc2d3"/><circle cx="167" cy="578.6" r="2.2" fill="#bdc5d3"/><circle cx="170.6" cy="577.3" r="2.2" fill="#bfc5d5"/><circle cx="173.8" cy="579.9" r="2" fill="#c1c3d5"/><circle cx="181.5" cy="578.5" r="1.9" fill="#ced2e0"/><circle cx="188.9" cy="577.6" r="1.7" fill="#bfc1d6"/><circle cx="196.5" cy="579.7" r="2.1" fill="#c9d2e2"/><circle cx="199.1" cy="577.3" r="2" fill="#c7c8d9"/><circle cx="203.7" cy="579.5" r="2.1" fill="#cfd2e2"/><circle cx="229.9" cy="577.6" r="1.8" fill="#c6c7d6"/><circle cx="234" cy="579.3" r="2.1" fill="#cbd0df"/><circle cx="245.5" cy="578.6" r="1.9" fill="#c2c6d7"/><circle cx="248.9" cy="579.5" r="2.2" fill="#bec2d3"/><circle cx="255.4" cy="580.4" r="1.7" fill="#cdd4e4"/><circle cx="261.1" cy="579.5" r="1.8" fill="#c8cbd8"/><circle cx="270.1" cy="577.1" r="1.8" fill="#cacade"/><circle cx="274.9" cy="580.3" r="1.8" fill="#c1c5d3"/><circle cx="148.3" cy="584.1" r="1.9" fill="#caccde"/><circle cx="158.7" cy="581.5" r="2.2" fill="#c6cedc"/><circle cx="168.1" cy="583.5" r="1.9" fill="#c4cad9"/><circle cx="178.2" cy="583.2" r="2.3" fill="#c6cbd9"/><circle cx="187.3" cy="582.3" r="2.2" fill="#ced4e4"/><circle cx="197.3" cy="583.5" r="1.9" fill="#c1c4d1"/><circle cx="227.2" cy="582.6" r="2" fill="#c3ccd8"/><circle cx="238.2" cy="583.3" r="1.8" fill="#c7cddc"/><circle cx="248.1" cy="581.8" r="1.8" fill="#c9d0de"/><circle cx="256.1" cy="583.4" r="1.9" fill="#cacbdb"/><circle cx="263.3" cy="584.8" r="2.2" fill="#ccd3e4"/><circle cx="267.6" cy="582.3" r="2.1" fill="#c8cbda"/><circle cx="273.6" cy="584" r="2" fill="#c3c2d4"/><circle cx="276.2" cy="584.3" r="1.9" fill="#c7cade"/><circle cx="150.1" cy="587.8" r="2" fill="#c3cddb"/><circle cx="157" cy="589.2" r="2" fill="#c8cbdd"/><circle cx="172" cy="586.2" r="2.1" fill="#c4c6d6"/><circle cx="175.5" cy="586.2" r="1.9" fill="#c6c9db"/><circle cx="179.2" cy="586.8" r="2.2" fill="#c8c9da"/><circle cx="205.3" cy="588.7" r="2.2" fill="#c1c3d4"/><circle cx="214.5" cy="588.4" r="1.9" fill="#ced1df"/><circle cx="245.9" cy="589.2" r="2.2" fill="#bcc3d4"/><circle cx="251.4" cy="587.5" r="2" fill="#cbcede"/><circle cx="266.5" cy="589" r="2.2" fill="#bec3d4"/><circle cx="270.3" cy="589" r="2.1" fill="#bfc5d3"/><circle cx="152.7" cy="590.8" r="1.8" fill="#bec7d3"/><circle cx="156.1" cy="591.4" r="2.3" fill="#cacfe0"/><circle cx="177.6" cy="590.8" r="2.1" fill="#c0c4d7"/><circle cx="183.7" cy="590.6" r="1.9" fill="#c1c5d6"/><circle cx="189" cy="590.4" r="1.9" fill="#bec5d1"/><circle cx="192.3" cy="591.5" r="2.2" fill="#c0c8d5"/><circle cx="198.3" cy="591.2" r="2.1" fill="#c0c7d8"/><circle cx="201.9" cy="590.7" r="2.2" fill="#cccde1"/><circle cx="208.4" cy="590.6" r="2" fill="#ccd2e0"/><circle cx="211.6" cy="591.7" r="1.8" fill="#c5c9dc"/><circle cx="216.6" cy="591.6" r="1.9" fill="#cdd2de"/><circle cx="228.7" cy="590.5" r="2.3" fill="#bdc3d2"/><circle cx="234.3" cy="593.5" r="1.9" fill="#c6cbdc"/><circle cx="236.4" cy="591.3" r="2" fill="#c1c2d4"/><circle cx="246.1" cy="593.5" r="1.7" fill="#c1c5d1"/><circle cx="256.2" cy="593.4" r="2.3" fill="#c7c8d6"/><circle cx="263.5" cy="591.5" r="1.9" fill="#c0c9d5"/><circle cx="279.1" cy="592.6" r="1.9" fill="#c5c9d7"/><circle cx="149.1" cy="596.7" r="1.7" fill="#c5cbd7"/><circle cx="161" cy="594.9" r="2.3" fill="#c7ccd8"/><circle cx="163.8" cy="595.6" r="2.2" fill="#ccd2e3"/><circle cx="168.7" cy="597.5" r="1.8" fill="#c2c5d3"/><circle cx="175.7" cy="596.6" r="2.1" fill="#c5c7d6"/><circle cx="183.7" cy="595.1" r="1.7" fill="#c8cdda"/><circle cx="190.7" cy="597.7" r="1.8" fill="#cbcfdf"/><circle cx="196.4" cy="596.1" r="2.1" fill="#cbd0e0"/><circle cx="200.2" cy="594.6" r="2.3" fill="#c4c8d7"/><circle cx="210.7" cy="595.7" r="1.8" fill="#c2c3d3"/><circle cx="221.8" cy="595.9" r="2.1" fill="#bfc3d3"/><circle cx="228.8" cy="594.7" r="1.9" fill="#c4c2d8"/><circle cx="236.8" cy="596.1" r="2.2" fill="#c6c8da"/><circle cx="246.7" cy="596.1" r="2.3" fill="#ccccdd"/><circle cx="251.6" cy="596.2" r="2.2" fill="#c0c5d5"/><circle cx="265.5" cy="596.9" r="2.3" fill="#c7c8db"/><circle cx="270" cy="596.5" r="2.1" fill="#c6c8d9"/><circle cx="281.4" cy="594.7" r="2" fill="#c8ccd8"/><circle cx="154.4" cy="602.2" r="2" fill="#cbcdda"/><circle cx="161.8" cy="600.5" r="2.3" fill="#c3c3d5"/><circle cx="167.1" cy="600.2" r="2" fill="#c7ccdd"/><circle cx="172.4" cy="600.6" r="1.9" fill="#cdd0de"/><circle cx="179.3" cy="601.3" r="1.8" fill="#c4c7d4"/><circle cx="182.7" cy="601.2" r="2.3" fill="#c3c4d5"/><circle cx="186.6" cy="601.1" r="1.7" fill="#cccfda"/><circle cx="191.5" cy="602.3" r="2.3" fill="#c5cad8"/><circle cx="202.7" cy="601" r="2" fill="#c5ccdc"/><circle cx="208.5" cy="601.1" r="1.8" fill="#caceda"/><circle cx="212.6" cy="599.3" r="1.8" fill="#c0c1d0"/><circle cx="223.8" cy="599.9" r="2.1" fill="#c0c6d6"/><circle cx="238.2" cy="601.1" r="2.1" fill="#c2c0d5"/><circle cx="248.5" cy="602.4" r="1.8" fill="#c7cbde"/><circle cx="258.6" cy="599.9" r="1.8" fill="#c3c8d4"/><circle cx="262.2" cy="601.9" r="1.8" fill="#c7cfdc"/><circle cx="268.7" cy="600" r="2.2" fill="#c6cdde"/><circle cx="274.2" cy="602" r="2.2" fill="#c4cbdb"/><circle cx="148.6" cy="605.5" r="2.1" fill="#cacde0"/><circle cx="157" cy="604.1" r="2.3" fill="#c4cbd8"/><circle cx="161.8" cy="604.1" r="2.3" fill="#d1cfdf"/><circle cx="165.3" cy="605.9" r="1.9" fill="#c4cad6"/><circle cx="170" cy="603.6" r="1.9" fill="#c9ccda"/><circle cx="175" cy="604" r="2.2" fill="#c7cad6"/><circle cx="181.5" cy="606.2" r="2.2" fill="#cbcfdc"/><circle cx="190" cy="605" r="2.2" fill="#c0c3d8"/><circle cx="193.9" cy="604.7" r="2.1" fill="#c6c7d7"/><circle cx="200.5" cy="603.7" r="2.2" fill="#d0cfe0"/><circle cx="209.5" cy="606.3" r="1.8" fill="#c4ccda"/><circle cx="214" cy="606.2" r="2.2" fill="#cacfde"/><circle cx="221.4" cy="605.1" r="1.9" fill="#c9cbd9"/><circle cx="223.8" cy="605.5" r="1.9" fill="#c6c9d9"/><circle cx="239.9" cy="606.7" r="1.9" fill="#c1c6d2"/><circle cx="246.8" cy="605.5" r="1.8" fill="#cacbe0"/><circle cx="255.3" cy="603.6" r="2" fill="#c8ccda"/><circle cx="262" cy="606.3" r="2.1" fill="#c1cad8"/><circle cx="266.8" cy="604.3" r="2" fill="#cccede"/><circle cx="271.8" cy="605.7" r="1.9" fill="#c5c6d6"/><circle cx="274.4" cy="606.2" r="1.8" fill="#cacddf"/><circle cx="279.3" cy="603.4" r="1.8" fill="#c6cad7"/><circle cx="148.9" cy="608.4" r="2.3" fill="#bdc1d4"/><circle cx="152.6" cy="609.2" r="1.9" fill="#c5c9de"/><circle cx="161.7" cy="608.7" r="2" fill="#cacfde"/><circle cx="172.7" cy="607.9" r="2.1" fill="#c8cad7"/><circle cx="178.6" cy="610.9" r="2.1" fill="#ced2e2"/><circle cx="188.5" cy="608" r="2.1" fill="#c7c8db"/><circle cx="192" cy="608.9" r="1.8" fill="#c2c8d7"/><circle cx="216.6" cy="608.7" r="2.3" fill="#c4cadc"/><circle cx="222" cy="610.7" r="2.3" fill="#c8ccdb"/><circle cx="226.4" cy="609.1" r="1.8" fill="#c5c5d5"/><circle cx="236.3" cy="609.4" r="2" fill="#c7ccda"/><circle cx="241.5" cy="610.7" r="2.2" fill="#c2cada"/><circle cx="247.2" cy="609.6" r="2.1" fill="#c6c9d8"/><circle cx="252.6" cy="608.4" r="2.1" fill="#c3ccd9"/><circle cx="267.9" cy="611" r="1.9" fill="#c7c7da"/><circle cx="272.6" cy="609.9" r="2.1" fill="#cbcfdf"/><circle cx="149.8" cy="614.2" r="2.1" fill="#c0c2d4"/><circle cx="160.9" cy="615" r="1.8" fill="#c7cede"/><circle cx="164.8" cy="613.6" r="2" fill="#c3c7d7"/><circle cx="170.9" cy="613.6" r="1.8" fill="#c9d2df"/><circle cx="173.9" cy="613.2" r="2.1" fill="#c2c2d2"/><circle cx="180.4" cy="614.9" r="1.8" fill="#c9cfdc"/><circle cx="186.7" cy="614.2" r="2.1" fill="#c4c4d7"/><circle cx="190.9" cy="613.8" r="1.8" fill="#cad0db"/><circle cx="196.8" cy="614.8" r="2.2" fill="#c6cfd9"/><circle cx="199.9" cy="613.1" r="1.8" fill="#c6c7d5"/><circle cx="203.8" cy="613.5" r="2.2" fill="#c1c7d8"/><circle cx="209.7" cy="614.4" r="2.2" fill="#c9cfde"/><circle cx="214.5" cy="613.9" r="2.2" fill="#cdd0e0"/><circle cx="220.9" cy="615.1" r="2.3" fill="#c7d0de"/><circle cx="246.6" cy="614.1" r="2.2" fill="#bfc2d1"/><circle cx="248.9" cy="614.2" r="2.1" fill="#c1c5d2"/><circle cx="261.3" cy="612.9" r="1.7" fill="#cbc9da"/><circle cx="270.4" cy="612.8" r="1.9" fill="#c5c6d9"/><circle cx="276.6" cy="615.3" r="2.1" fill="#c3c8d9"/><circle cx="153" cy="617.8" r="2.3" fill="#c3c6d4"/><circle cx="178.2" cy="618.4" r="2.2" fill="#c0c2d6"/><circle cx="181.9" cy="617.7" r="1.8" fill="#c5c9d3"/><circle cx="197" cy="619.8" r="1.8" fill="#cad0db"/><circle cx="211.9" cy="619.3" r="2.2" fill="#cdd0df"/><circle cx="227" cy="619.3" r="2" fill="#c3cadb"/><circle cx="232" cy="617.1" r="2.2" fill="#cad1e0"/><circle cx="239.5" cy="616.8" r="2.1" fill="#ccd0dc"/><circle cx="241.7" cy="619.9" r="2.3" fill="#cbd3de"/><circle cx="246.5" cy="619.8" r="1.8" fill="#c4c8d9"/><circle cx="253.3" cy="619.6" r="2.2" fill="#c5ccdc"/><circle cx="258.8" cy="617.9" r="2.2" fill="#bec2d2"/><circle cx="263.9" cy="616.7" r="1.9" fill="#cbcfe1"/><circle cx="272.9" cy="616.6" r="2.3" fill="#cacddc"/><circle cx="278.8" cy="617.9" r="2.2" fill="#c3c6d8"/><circle cx="148.9" cy="622" r="1.8" fill="#c2c5d3"/><circle cx="161.2" cy="624.4" r="1.8" fill="#c3cada"/><circle cx="190.6" cy="623.4" r="2" fill="#ccccdc"/><circle cx="196.1" cy="624.3" r="2.2" fill="#c0c5d6"/><circle cx="200" cy="624.3" r="2" fill="#c9cfdd"/><circle cx="206.3" cy="622.9" r="1.8" fill="#c4c6d3"/><circle cx="209" cy="621.9" r="2" fill="#c5c8d3"/><circle cx="214.3" cy="623.5" r="1.9" fill="#c6cbdd"/><circle cx="230.4" cy="622.3" r="2" fill="#cdcfdf"/><circle cx="234.1" cy="623.3" r="2.3" fill="#bcc4d2"/><circle cx="240.2" cy="622.3" r="2.3" fill="#c0c3d6"/><circle cx="244.2" cy="624.1" r="1.8" fill="#cac9d9"/><circle cx="250.9" cy="622.8" r="2" fill="#c4ccd7"/><circle cx="253.6" cy="622.7" r="2.2" fill="#bec3d4"/><circle cx="265.4" cy="621.6" r="1.7" fill="#c3c6d6"/><circle cx="279.7" cy="623.3" r="2.1" fill="#cdd0e0"/></g></g><g opacity="0.85"><circle cx="160.1" cy="543.8" r="1.1" fill="#6d4c33"/><circle cx="170.7" cy="608.6" r="0.9" fill="#6e4d34"/><circle cx="193.6" cy="539.1" r="0.6" fill="#7f593d"/><circle cx="167.3" cy="574.1" r="0.9" fill="#663f26"/><circle cx="157.8" cy="530.5" r="1.2" fill="#6e4630"/><circle cx="198" cy="602" r="0.8" fill="#6d442b"/><circle cx="248.3" cy="614.9" r="1" fill="#6d4631"/><circle cx="180.8" cy="603.6" r="0.9" fill="#6d412d"/><circle cx="217.4" cy="546" r="0.9" fill="#7e5941"/><circle cx="173.3" cy="608.7" r="1" fill="#79563a"/><circle cx="180.5" cy="553.1" r="0.9" fill="#784d37"/><circle cx="182.4" cy="535.1" r="1" fill="#79503c"/><circle cx="196.5" cy="558.1" r="0.9" fill="#693f26"/><circle cx="211.7" cy="563.5" r="1.1" fill="#734d36"/><circle cx="161.5" cy="543.2" r="0.7" fill="#663b21"/><circle cx="197.7" cy="616.4" r="0.8" fill="#6c442d"/><circle cx="158.7" cy="539.7" r="1.2" fill="#6a4326"/><circle cx="216.5" cy="580" r="1.1" fill="#734c33"/><circle cx="230.7" cy="573.8" r="0.8" fill="#7b5440"/><circle cx="225.6" cy="563.2" r="1.2" fill="#724d36"/><circle cx="168.2" cy="599.6" r="0.7" fill="#613b20"/><circle cx="187.1" cy="618.2" r="0.9" fill="#7b583e"/><circle cx="204.8" cy="578" r="1.2" fill="#78523a"/><circle cx="213.4" cy="548.7" r="0.9" fill="#835841"/><circle cx="185.2" cy="560.8" r="1.2" fill="#7c573b"/><circle cx="210.6" cy="555.9" r="1.1" fill="#5d3b20"/><circle cx="245.3" cy="565.1" r="0.7" fill="#603923"/><circle cx="251.7" cy="585.9" r="1.2" fill="#774a33"/><circle cx="180.3" cy="539.9" r="0.9" fill="#68422e"/><circle cx="186.9" cy="532.3" r="0.9" fill="#643c23"/><circle cx="173.9" cy="618" r="0.7" fill="#643c23"/><circle cx="205.8" cy="541.8" r="1.1" fill="#664224"/><circle cx="187.7" cy="587.7" r="1" fill="#805644"/><circle cx="253.9" cy="618.6" r="0.7" fill="#77533a"/><circle cx="181.8" cy="551.5" r="1.1" fill="#643e26"/><circle cx="158.5" cy="536.9" r="1.1" fill="#80523b"/><circle cx="164.8" cy="577.1" r="1" fill="#6f482c"/><circle cx="262.9" cy="523.2" r="0.7" fill="#643f21"/><circle cx="163.4" cy="584.8" r="0.8" fill="#784c3b"/><circle cx="194.5" cy="537.6" r="0.8" fill="#694328"/><circle cx="153.1" cy="560.3" r="0.7" fill="#83583f"/><circle cx="166.8" cy="555.4" r="1" fill="#7d5040"/><circle cx="234.5" cy="616.5" r="0.7" fill="#784e37"/><circle cx="191.6" cy="612" r="0.6" fill="#734b31"/><circle cx="231.8" cy="560.1" r="1.2" fill="#7a4f33"/><circle cx="154.4" cy="536.5" r="0.8" fill="#724f38"/><circle cx="208.8" cy="549.8" r="1.1" fill="#704a2d"/><circle cx="218.3" cy="585.9" r="0.7" fill="#64361d"/><circle cx="168.3" cy="607.7" r="1.1" fill="#774a34"/><circle cx="178.3" cy="549.1" r="0.7" fill="#613c20"/><circle cx="159.9" cy="532.5" r="1.2" fill="#663e24"/><circle cx="201.9" cy="565.5" r="0.8" fill="#775538"/><circle cx="161.1" cy="606" r="1.2" fill="#72442f"/><circle cx="167" cy="540.3" r="1.1" fill="#6d422c"/><circle cx="174.4" cy="577.9" r="0.6" fill="#693e26"/><circle cx="160.1" cy="574.4" r="0.8" fill="#825741"/><circle cx="169.3" cy="521.8" r="1.1" fill="#724731"/><circle cx="181" cy="568.7" r="1.1" fill="#7b543f"/><circle cx="237" cy="592.3" r="0.9" fill="#643b25"/><circle cx="232" cy="604.2" r="0.9" fill="#7d513c"/><circle cx="182.1" cy="608.1" r="0.7" fill="#6a452c"/><circle cx="218.2" cy="536.1" r="1" fill="#754936"/><circle cx="176.7" cy="579" r="1.1" fill="#714d35"/><circle cx="185.4" cy="603.1" r="0.7" fill="#734734"/><circle cx="158.4" cy="556.5" r="0.7" fill="#684127"/><circle cx="217.4" cy="612.4" r="0.8" fill="#7c583f"/><circle cx="256.2" cy="603.1" r="1.2" fill="#613626"/><circle cx="200.4" cy="612.2" r="1.2" fill="#66442b"/><circle cx="154.2" cy="555.7" r="0.7" fill="#633721"/><circle cx="197.4" cy="557" r="1.1" fill="#6e4028"/><circle cx="153.7" cy="569.2" r="1" fill="#764d32"/><circle cx="190.4" cy="585.7" r="1.1" fill="#5d361c"/><circle cx="187.4" cy="594.4" r="1" fill="#6a482a"/><circle cx="193.2" cy="543.6" r="0.7" fill="#785336"/><circle cx="152.9" cy="573.9" r="1.1" fill="#78573e"/><circle cx="236.1" cy="528.1" r="0.7" fill="#6e4b2c"/><circle cx="204.7" cy="581.6" r="1.2" fill="#73462e"/><circle cx="195.1" cy="617.5" r="0.7" fill="#6d4331"/><circle cx="156.5" cy="601.1" r="1" fill="#603a1d"/><circle cx="183.2" cy="534.9" r="0.7" fill="#744836"/><circle cx="155.9" cy="555.9" r="1" fill="#82593f"/><circle cx="172" cy="587.7" r="0.9" fill="#7b5036"/><circle cx="245.7" cy="545.1" r="1" fill="#673c28"/><circle cx="167" cy="591.1" r="0.8" fill="#7b533a"/><circle cx="168.4" cy="527.6" r="1.2" fill="#673e26"/><circle cx="191.3" cy="532.8" r="1" fill="#734e37"/><circle cx="237.5" cy="603" r="1.1" fill="#68422b"/><circle cx="214.3" cy="575" r="1.2" fill="#815a42"/><circle cx="173" cy="572.7" r="1.2" fill="#754c33"/><circle cx="181.1" cy="605.9" r="0.8" fill="#61381f"/><circle cx="157.3" cy="537" r="0.9" fill="#693e27"/><circle cx="197.8" cy="594.9" r="0.7" fill="#755032"/><circle cx="184.4" cy="595.4" r="0.8" fill="#6e442f"/><circle cx="176.7" cy="571.7" r="1.2" fill="#785638"/><circle cx="186.9" cy="570.5" r="1.2" fill="#784b32"/><circle cx="155.5" cy="597.5" r="0.9" fill="#7a4f3d"/><circle cx="216.3" cy="589.7" r="0.7" fill="#68422e"/><circle cx="254" cy="538.9" r="1.2" fill="#745137"/><circle cx="197.2" cy="525.9" r="1.2" fill="#5d3b1c"/><circle cx="168.1" cy="576.8" r="0.8" fill="#714b30"/><circle cx="156.6" cy="606.6" r="0.9" fill="#714c33"/><circle cx="203.9" cy="531.8" r="1" fill="#62361c"/><circle cx="197.1" cy="538.7" r="0.7" fill="#734b30"/><circle cx="194.4" cy="545.7" r="1.1" fill="#673c28"/><circle cx="189.1" cy="576.1" r="1.2" fill="#7c573e"/><circle cx="182.8" cy="557.6" r="0.6" fill="#5e3321"/><circle cx="196.3" cy="530.4" r="0.9" fill="#7c573d"/><circle cx="183.8" cy="528.9" r="1.1" fill="#6d4a2f"/><circle cx="253" cy="538.4" r="0.6" fill="#7c5037"/><circle cx="214.8" cy="608.8" r="0.7" fill="#714933"/><circle cx="170" cy="619.2" r="1.1" fill="#67442c"/><circle cx="244.1" cy="528.2" r="1.1" fill="#683c2b"/><circle cx="227.2" cy="569.6" r="1.2" fill="#7d573a"/><circle cx="156.4" cy="528.9" r="1.2" fill="#744d39"/><circle cx="177.8" cy="565.8" r="0.6" fill="#6a432e"/><circle cx="190.8" cy="572.5" r="0.7" fill="#7f573c"/><circle cx="181.1" cy="564.9" r="1" fill="#784a34"/><circle cx="218.2" cy="591.5" r="1" fill="#7e5c41"/><circle cx="239.5" cy="526.6" r="0.6" fill="#7e5a3d"/><circle cx="217" cy="596.9" r="0.9" fill="#603c26"/><circle cx="236.9" cy="608.7" r="0.8" fill="#60341a"/><circle cx="159.3" cy="602.8" r="0.7" fill="#603a23"/><circle cx="167.8" cy="611" r="1.1" fill="#5d3b1d"/><circle cx="172.3" cy="619.1" r="0.8" fill="#714c32"/><circle cx="249" cy="605.2" r="0.6" fill="#674124"/><circle cx="220" cy="574.9" r="1.2" fill="#6e4a2e"/><circle cx="167" cy="598.3" r="1" fill="#7c5536"/><circle cx="174.1" cy="568.6" r="1" fill="#704533"/><circle cx="170.5" cy="581" r="1" fill="#7f563a"/><circle cx="243.1" cy="600.6" r="1" fill="#6e4730"/><circle cx="199.2" cy="615.1" r="1" fill="#5e3720"/><circle cx="260.9" cy="561.9" r="0.8" fill="#6f4833"/><circle cx="199.4" cy="615.9" r="0.7" fill="#7d593f"/><circle cx="183.4" cy="588.1" r="0.8" fill="#643d26"/><circle cx="153.9" cy="598.9" r="0.9" fill="#714632"/><circle cx="162.9" cy="571.5" r="1.1" fill="#6f4f31"/><circle cx="202.7" cy="547" r="1.2" fill="#5e3a1c"/><circle cx="165.1" cy="542.3" r="1.1" fill="#6f402b"/><circle cx="198.4" cy="591.7" r="0.8" fill="#7f5941"/><circle cx="161.8" cy="610.8" r="0.9" fill="#5d3a21"/></g></g></g><clipPath id="cp5"><rect x="275.0" y="521.5" width="122.3" height="98.0"/></clipPath><g clip-path="url(#cp5)"><rect x="275.0" y="521.5" width="122.3" height="98.0" filter="url(#tx5)"/><mask id="mk5"><rect x="275.0" y="521.5" width="122.3" height="98.0" fill="url(#gl3)"/></mask><rect x="275.0" y="521.5" width="122.3" height="98.0" filter="url(#st5)" mask="url(#mk5)"/><g filter="url(#blur5)"><g opacity="0.8"><circle cx="297.3" cy="577" r="0.8" fill="#8e562f"/><circle cx="375.7" cy="614.8" r="1.2" fill="#94633a"/><circle cx="293.1" cy="534.3" r="1.1" fill="#955e35"/><circle cx="335.8" cy="579.5" r="1" fill="#8a4f2e"/><circle cx="339.8" cy="532.1" r="0.9" fill="#905537"/><circle cx="284.5" cy="600.6" r="0.7" fill="#935a36"/><circle cx="397.2" cy="610.8" r="1.2" fill="#87532e"/><circle cx="295.9" cy="555.8" r="0.7" fill="#8a512b"/><circle cx="388.2" cy="596.7" r="0.9" fill="#905b37"/><circle cx="313.2" cy="610.2" r="1.2" fill="#9c6a48"/><circle cx="348.3" cy="596.9" r="0.9" fill="#a16f47"/><circle cx="290.7" cy="589.5" r="0.7" fill="#a26843"/><circle cx="335.9" cy="526.8" r="0.9" fill="#925d36"/><circle cx="372.2" cy="603.9" r="1.2" fill="#a16845"/><circle cx="284.3" cy="615.9" r="0.9" fill="#905732"/><circle cx="344.6" cy="593.4" r="0.8" fill="#935839"/><circle cx="331.9" cy="589" r="0.6" fill="#94603a"/><circle cx="384.7" cy="581.5" r="0.7" fill="#8f5e37"/><circle cx="312.9" cy="545.7" r="0.7" fill="#a56e47"/><circle cx="379.7" cy="611.6" r="1.2" fill="#84522e"/><circle cx="390.3" cy="533.7" r="0.7" fill="#8c5a39"/><circle cx="296.8" cy="572.8" r="1" fill="#86512e"/><circle cx="306.8" cy="601.2" r="0.7" fill="#a16a45"/><circle cx="382.3" cy="551.6" r="1.2" fill="#8b562f"/><circle cx="277.8" cy="599.6" r="1" fill="#905938"/><circle cx="379.1" cy="611.8" r="0.6" fill="#995f3e"/><circle cx="373.8" cy="544.7" r="1.1" fill="#8a5332"/><circle cx="361.1" cy="599.4" r="1.1" fill="#9a6540"/><circle cx="386" cy="604.6" r="1.1" fill="#85512e"/><circle cx="320.1" cy="571.1" r="0.8" fill="#a46f46"/><circle cx="385.6" cy="593.6" r="1" fill="#99613c"/><circle cx="302.6" cy="618" r="0.9" fill="#905a37"/><circle cx="289.2" cy="573.8" r="1" fill="#926138"/><circle cx="308.9" cy="554.2" r="1.2" fill="#96633a"/><circle cx="318.9" cy="540.1" r="0.9" fill="#9b6241"/><circle cx="329.9" cy="571.9" r="0.7" fill="#965f3d"/><circle cx="375.9" cy="529.8" r="1" fill="#9d6745"/><circle cx="364.2" cy="577.5" r="0.7" fill="#855330"/><circle cx="354.7" cy="569.2" r="0.9" fill="#9e6240"/><circle cx="295.2" cy="608.7" r="0.8" fill="#a16847"/><circle cx="343.7" cy="543.8" r="1.1" fill="#a66e46"/><circle cx="357" cy="549.4" r="1" fill="#a16e47"/><circle cx="304.5" cy="538.7" r="1" fill="#a66f49"/><circle cx="287.2" cy="545.2" r="1" fill="#a36c47"/><circle cx="291.1" cy="603.6" r="1.2" fill="#a66c4a"/><circle cx="284" cy="589.1" r="0.8" fill="#8c5935"/><circle cx="373" cy="538.8" r="1.2" fill="#845329"/><circle cx="336.9" cy="537.8" r="0.7" fill="#955d3c"/><circle cx="345.1" cy="614" r="0.6" fill="#8f5533"/><circle cx="329.2" cy="552.5" r="1.1" fill="#8d5c39"/><circle cx="291.5" cy="618.3" r="0.8" fill="#9c6940"/><circle cx="297.3" cy="544.1" r="1.1" fill="#8c5530"/><circle cx="342.5" cy="563.6" r="0.9" fill="#875130"/><circle cx="347.6" cy="597.1" r="0.8" fill="#965f3e"/><circle cx="343.2" cy="581.3" r="0.7" fill="#a46b46"/><circle cx="368.2" cy="570.1" r="0.8" fill="#895832"/><circle cx="325.9" cy="602.2" r="0.9" fill="#845230"/><circle cx="331.1" cy="606.2" r="1.1" fill="#955f3f"/><circle cx="366.6" cy="551.5" r="1.1" fill="#96663b"/><circle cx="298.1" cy="618" r="0.8" fill="#a16a45"/><circle cx="363.1" cy="587.4" r="1.1" fill="#a9724d"/><circle cx="305.7" cy="548" r="0.9" fill="#8f5b31"/><circle cx="278.2" cy="582.3" r="0.7" fill="#925639"/><circle cx="384.8" cy="569.8" r="1.1" fill="#915832"/><circle cx="350.6" cy="618" r="0.6" fill="#9a6040"/><circle cx="286.4" cy="573.4" r="1" fill="#9f6442"/><circle cx="285.7" cy="618.2" r="1.1" fill="#966236"/><circle cx="378.7" cy="575.9" r="0.8" fill="#9c6542"/><circle cx="328.8" cy="525.3" r="1" fill="#a4704b"/><circle cx="331.5" cy="602.2" r="0.6" fill="#97653f"/><circle cx="311.3" cy="528" r="1" fill="#95613c"/><circle cx="324.8" cy="603.1" r="1.1" fill="#895533"/><circle cx="355.5" cy="592.9" r="1" fill="#87522e"/><circle cx="313.7" cy="602.1" r="1" fill="#895730"/><circle cx="294.9" cy="584.9" r="1" fill="#8e532d"/><circle cx="278.6" cy="561.6" r="0.7" fill="#915c36"/><circle cx="294.5" cy="557.4" r="1" fill="#94623a"/><circle cx="288.2" cy="589.9" r="1.2" fill="#98653d"/><circle cx="282.3" cy="523.8" r="1.1" fill="#966042"/><circle cx="296" cy="573.8" r="1.1" fill="#8d562f"/><circle cx="372" cy="537.1" r="1.2" fill="#98613f"/><circle cx="315.9" cy="577.7" r="0.8" fill="#996644"/><circle cx="333.2" cy="547.7" r="1" fill="#8b5b38"/><circle cx="364.4" cy="556.5" r="0.9" fill="#84502c"/><circle cx="380.4" cy="591.1" r="0.9" fill="#97613f"/><circle cx="303.9" cy="597" r="1.2" fill="#9c6c42"/><circle cx="286.5" cy="580.5" r="0.9" fill="#8f542f"/><circle cx="338" cy="556.3" r="1.1" fill="#945d37"/><circle cx="320" cy="551.4" r="1" fill="#915a37"/><circle cx="301.5" cy="541.3" r="1.1" fill="#905839"/><circle cx="350.3" cy="532.4" r="0.6" fill="#98603e"/><circle cx="360" cy="540.3" r="0.7" fill="#935c3a"/><circle cx="375.9" cy="608.6" r="0.9" fill="#9d6a48"/><circle cx="387.4" cy="583" r="0.9" fill="#915e3b"/><circle cx="386.9" cy="592.4" r="0.7" fill="#985e39"/><circle cx="364" cy="609.6" r="1" fill="#8b5333"/><circle cx="382.1" cy="606.4" r="1.2" fill="#8d5731"/><circle cx="364.7" cy="592.2" r="0.9" fill="#895432"/><circle cx="331.2" cy="618.7" r="0.8" fill="#885732"/><circle cx="285.1" cy="615.3" r="0.8" fill="#97623f"/><circle cx="315.9" cy="533.1" r="0.7" fill="#90613d"/><circle cx="329.2" cy="563.9" r="0.8" fill="#9f6640"/><circle cx="312.6" cy="581" r="0.9" fill="#97653a"/><circle cx="348.6" cy="606.8" r="1" fill="#996444"/><circle cx="374" cy="559.6" r="0.9" fill="#8f5d3b"/><circle cx="306.5" cy="589" r="1" fill="#8c562f"/><circle cx="346.6" cy="524.8" r="0.7" fill="#985f37"/><circle cx="320.1" cy="558.7" r="1.1" fill="#965f36"/><circle cx="355.7" cy="614.1" r="0.7" fill="#8e582d"/><circle cx="293.7" cy="530.7" r="0.9" fill="#8d5736"/><circle cx="294" cy="598" r="0.8" fill="#875131"/><circle cx="323.2" cy="533" r="0.7" fill="#a76b49"/><circle cx="391.8" cy="614.5" r="0.8" fill="#a07047"/><circle cx="307.3" cy="608.3" r="0.9" fill="#925c38"/><circle cx="339.3" cy="566" r="1" fill="#97623e"/><circle cx="324.3" cy="560.8" r="1" fill="#a16b4c"/><circle cx="311.1" cy="560.2" r="1" fill="#9c6646"/><circle cx="370.9" cy="593.5" r="0.8" fill="#8f5230"/><circle cx="397.2" cy="542.8" r="0.9" fill="#986244"/><circle cx="304.9" cy="527.8" r="1.2" fill="#945f35"/><circle cx="376" cy="597.5" r="1.2" fill="#a06c44"/><circle cx="280.5" cy="547.7" r="1" fill="#8b5530"/><circle cx="313.7" cy="569.1" r="0.9" fill="#935837"/><circle cx="284" cy="560.3" r="0.7" fill="#89532f"/><circle cx="286.2" cy="612.8" r="1.1" fill="#9a6841"/><circle cx="275.2" cy="601.1" r="1" fill="#995f3e"/><circle cx="306.5" cy="545.6" r="0.7" fill="#844e2e"/><circle cx="358.4" cy="564.2" r="0.8" fill="#9c6442"/><circle cx="329.9" cy="533.9" r="1.1" fill="#a76d49"/><circle cx="363.2" cy="608.1" r="0.7" fill="#a46d44"/><circle cx="284.4" cy="596.3" r="0.9" fill="#94623d"/><circle cx="315.2" cy="584" r="0.8" fill="#8c562c"/><circle cx="298.3" cy="525.2" r="1" fill="#87532f"/><circle cx="293.8" cy="609.4" r="1.1" fill="#9c6440"/><circle cx="339.2" cy="576.1" r="1.1" fill="#8b502c"/><circle cx="314.2" cy="568.2" r="0.9" fill="#925c3a"/><circle cx="288.3" cy="617.5" r="0.9" fill="#9d683f"/><circle cx="284.9" cy="575.7" r="0.7" fill="#996440"/><circle cx="345.4" cy="613.5" r="1" fill="#854e2b"/><circle cx="297.8" cy="583.2" r="1.1" fill="#976540"/><circle cx="376.9" cy="558.8" r="1.2" fill="#9e6345"/><circle cx="394.5" cy="575.5" r="1.1" fill="#97623d"/><circle cx="312.7" cy="614.1" r="0.8" fill="#a4714a"/><circle cx="330.6" cy="530.7" r="0.9" fill="#935733"/><circle cx="307.1" cy="562.5" r="0.7" fill="#8c5630"/><circle cx="289.3" cy="566.6" r="0.7" fill="#8c512f"/><circle cx="394.9" cy="593.2" r="0.9" fill="#9e623f"/><circle cx="289.2" cy="610.2" r="0.8" fill="#926039"/><circle cx="276.4" cy="584.3" r="0.8" fill="#a76d4a"/><circle cx="308.7" cy="601.8" r="0.8" fill="#85532f"/><circle cx="299.9" cy="573.5" r="0.7" fill="#88542e"/><circle cx="302.2" cy="534.9" r="1.2" fill="#a36b4a"/><circle cx="361.5" cy="592.8" r="1.1" fill="#8f5833"/><circle cx="282.4" cy="546.8" r="0.6" fill="#975e3a"/><circle cx="321.1" cy="546.3" r="1" fill="#94623a"/><circle cx="278.6" cy="526.9" r="1.2" fill="#8f5d3c"/><circle cx="320.8" cy="584.1" r="1.2" fill="#966742"/><circle cx="335.2" cy="612.5" r="0.7" fill="#8a542f"/><circle cx="356.2" cy="594.6" r="1.2" fill="#996642"/><circle cx="328.2" cy="585.6" r="0.6" fill="#a16a48"/><circle cx="309.4" cy="525.9" r="0.9" fill="#976138"/><circle cx="308.2" cy="546.1" r="1.1" fill="#895234"/><circle cx="286.3" cy="546.4" r="0.9" fill="#8d5831"/><circle cx="287.8" cy="551.4" r="1" fill="#945b39"/><circle cx="327.1" cy="616.4" r="1.1" fill="#8b552f"/><circle cx="378.4" cy="525.5" r="0.6" fill="#935d38"/><circle cx="303" cy="596.4" r="0.9" fill="#a26948"/><circle cx="295.2" cy="526.7" r="0.7" fill="#89552e"/><circle cx="277.8" cy="522.1" r="1.2" fill="#925c3b"/><circle cx="367.6" cy="606.8" r="1" fill="#905c37"/><circle cx="318.7" cy="543.3" r="0.8" fill="#a76c4d"/><circle cx="300.2" cy="578.4" r="1.1" fill="#a36d4e"/><circle cx="367.5" cy="526.5" r="1" fill="#905b3b"/><circle cx="278.7" cy="544.5" r="1.1" fill="#9a6440"/><circle cx="322.7" cy="606.6" r="0.7" fill="#a46c47"/><circle cx="300.1" cy="538.8" r="1" fill="#996142"/><circle cx="309.8" cy="551.3" r="0.7" fill="#8b5836"/><circle cx="315.4" cy="540.4" r="0.6" fill="#945f3e"/><circle cx="344.6" cy="577.7" r="1.1" fill="#8d5631"/><circle cx="303.4" cy="617.7" r="0.7" fill="#8c572f"/><circle cx="287.6" cy="588.1" r="0.8" fill="#a16c49"/><circle cx="316.6" cy="553.7" r="1" fill="#9b6647"/><circle cx="342.7" cy="616.4" r="1.1" fill="#9b6140"/><circle cx="362.1" cy="598.4" r="1.2" fill="#9a693f"/><circle cx="391.6" cy="563.6" r="1.2" fill="#925d3a"/><circle cx="282.2" cy="573.6" r="0.8" fill="#a26e4d"/><circle cx="362" cy="577.9" r="1" fill="#915f36"/><circle cx="376.4" cy="532.1" r="0.8" fill="#875431"/><circle cx="328.9" cy="613.4" r="1.1" fill="#8a512b"/><circle cx="340.7" cy="528" r="1.2" fill="#a7714a"/><circle cx="289.4" cy="600" r="1.2" fill="#98623e"/><circle cx="295.3" cy="569.6" r="0.6" fill="#9f6c46"/><circle cx="322.9" cy="521.5" r="1.1" fill="#996540"/><circle cx="392.6" cy="555" r="0.7" fill="#86552c"/><circle cx="355.6" cy="523" r="1" fill="#975e3d"/><circle cx="312.8" cy="607.6" r="1" fill="#a46c4b"/><circle cx="372.1" cy="604.7" r="0.6" fill="#9a5e3b"/><circle cx="276.2" cy="540.5" r="1" fill="#9e683d"/><circle cx="298.3" cy="559.8" r="0.9" fill="#975f38"/><circle cx="285" cy="564.6" r="0.8" fill="#915532"/></g></g></g><clipPath id="cpI"><rect x="418.0" y="481.5" width="85.0" height="82.5"/></clipPath><g clip-path="url(#cpI)"><rect x="418.0" y="481.5" width="85.0" height="82.5" filter="url(#txI)"/><g filter="url(#blur7)"><g><circle cx="410.7" cy="474.5" r="5.2" fill="#b6bcc1" stroke="#8b5b35" stroke-width="1.3"/><circle cx="421" cy="475.1" r="4.9" fill="#b2b5ba" stroke="#8e5e38" stroke-width="1.3"/><circle cx="444.2" cy="470.3" r="4.7" fill="#b2b2b8" stroke="#865630" stroke-width="1.3"/><circle cx="455.7" cy="472.8" r="5.4" fill="#b8bbbf" stroke="#865630" stroke-width="1.3"/><circle cx="465.2" cy="471.2" r="4.8" fill="#c0c5ca" stroke="#80502a" stroke-width="1.3"/><circle cx="475.5" cy="472.3" r="4.8" fill="#c4c4cc" stroke="#8b5b35" stroke-width="1.3"/><circle cx="484.4" cy="471.4" r="4.9" fill="#bdbfc7" stroke="#6f3f19" stroke-width="1.3"/><circle cx="495.9" cy="472.9" r="5.4" fill="#c3c7ce" stroke="#8a5a34" stroke-width="1.3"/><circle cx="505.3" cy="474.8" r="4.7" fill="#b9bbc2" stroke="#774721" stroke-width="1.3"/><circle cx="516.6" cy="470.4" r="5.1" fill="#b0afb8" stroke="#6f3f19" stroke-width="1.3"/><circle cx="415.9" cy="480.5" r="5.1" fill="#c8c8d3" stroke="#84542e" stroke-width="1.3"/><circle cx="425.7" cy="481.4" r="5.4" fill="#b5b6c0" stroke="#7b4b25" stroke-width="1.3"/><circle cx="438.1" cy="480.7" r="4.7" fill="#c1c2c8" stroke="#895933" stroke-width="1.3"/><circle cx="448.1" cy="482.7" r="5" fill="#aaacb7" stroke="#7a4a24" stroke-width="1.3"/><circle cx="459.7" cy="482.4" r="4.7" fill="#c1c2ca" stroke="#794923" stroke-width="1.3"/><circle cx="471.5" cy="482.7" r="4.8" fill="#c1c2ca" stroke="#72421c" stroke-width="1.3"/><circle cx="478.2" cy="480.9" r="5.2" fill="#c0c7cc" stroke="#8a5a34" stroke-width="1.3"/><circle cx="490.9" cy="480.2" r="4.8" fill="#bfc3c7" stroke="#8f5f39" stroke-width="1.3"/><circle cx="501.2" cy="481.1" r="5.2" fill="#aaafb5" stroke="#8f5f39" stroke-width="1.3"/><circle cx="508.5" cy="479.9" r="5.4" fill="#c0bfc5" stroke="#7c4c26" stroke-width="1.3"/><circle cx="415" cy="488.6" r="5.1" fill="#babec6" stroke="#90603a" stroke-width="1.3"/><circle cx="422.7" cy="492" r="5.4" fill="#afb2bd" stroke="#885832" stroke-width="1.3"/><circle cx="435.9" cy="491.3" r="4.8" fill="#a9adb1" stroke="#82522c" stroke-width="1.3"/><circle cx="442.5" cy="491.1" r="5.3" fill="#b2b7bd" stroke="#794923" stroke-width="1.3"/><circle cx="452.6" cy="489.4" r="5.5" fill="#bcc0c4" stroke="#885832" stroke-width="1.3"/><circle cx="462.6" cy="488.7" r="4.8" fill="#bac0c5" stroke="#71411b" stroke-width="1.3"/><circle cx="471.9" cy="489.1" r="4.7" fill="#c6c4cd" stroke="#7e4e28" stroke-width="1.3"/><circle cx="484.9" cy="490.6" r="5" fill="#c0c2cb" stroke="#784822" stroke-width="1.3"/><circle cx="496.6" cy="491.8" r="4.8" fill="#b1b1b8" stroke="#71411b" stroke-width="1.3"/><circle cx="504.4" cy="492.5" r="5.5" fill="#bec1ca" stroke="#764620" stroke-width="1.3"/><circle cx="516" cy="490.5" r="5.2" fill="#b0afb9" stroke="#75451f" stroke-width="1.3"/><circle cx="406.5" cy="500" r="5.1" fill="#aeb0b8" stroke="#794923" stroke-width="1.3"/><circle cx="418.2" cy="501.5" r="5.2" fill="#bbbac5" stroke="#75451f" stroke-width="1.3"/><circle cx="426.5" cy="501.1" r="4.8" fill="#c5c5cc" stroke="#8e5e38" stroke-width="1.3"/><circle cx="439.8" cy="496.9" r="5.1" fill="#acafb4" stroke="#74441e" stroke-width="1.3"/><circle cx="450.6" cy="500" r="5.4" fill="#adafb6" stroke="#7c4c26" stroke-width="1.3"/><circle cx="459.9" cy="497.7" r="5.5" fill="#babac1" stroke="#885832" stroke-width="1.3"/><circle cx="466.8" cy="497" r="5.2" fill="#b7bbc2" stroke="#82522c" stroke-width="1.3"/><circle cx="478.3" cy="500.4" r="4.9" fill="#adacb8" stroke="#8a5a34" stroke-width="1.3"/><circle cx="491.4" cy="500.3" r="5.1" fill="#bbb9c3" stroke="#7c4c26" stroke-width="1.3"/><circle cx="499.2" cy="496.8" r="4.9" fill="#acaeb5" stroke="#885832" stroke-width="1.3"/><circle cx="511" cy="497.2" r="4.9" fill="#adadb5" stroke="#794923" stroke-width="1.3"/><circle cx="410.3" cy="509.4" r="5" fill="#bcb9c1" stroke="#7f4f29" stroke-width="1.3"/><circle cx="421.5" cy="511.1" r="4.8" fill="#b6b8c3" stroke="#774721" stroke-width="1.3"/><circle cx="434.8" cy="506" r="5" fill="#adadb3" stroke="#91613b" stroke-width="1.3"/><circle cx="441.7" cy="511.1" r="4.8" fill="#b8b9c2" stroke="#71411b" stroke-width="1.3"/><circle cx="456" cy="508.8" r="5" fill="#b9b9c4" stroke="#8a5a34" stroke-width="1.3"/><circle cx="465.6" cy="508.2" r="5.3" fill="#c2c6cc" stroke="#8e5e38" stroke-width="1.3"/><circle cx="474" cy="507.6" r="4.8" fill="#b6b8c0" stroke="#72421c" stroke-width="1.3"/><circle cx="485.7" cy="507.3" r="4.8" fill="#b0b4bc" stroke="#85552f" stroke-width="1.3"/><circle cx="495.4" cy="505.8" r="4.8" fill="#b6bbc0" stroke="#764620" stroke-width="1.3"/><circle cx="503" cy="508.8" r="5.4" fill="#abadb8" stroke="#7a4a24" stroke-width="1.3"/><circle cx="515" cy="509.8" r="4.7" fill="#b8bac4" stroke="#865630" stroke-width="1.3"/><circle cx="407.3" cy="516.9" r="5.3" fill="#b5b3bf" stroke="#885832" stroke-width="1.3"/><circle cx="419.1" cy="516.3" r="5.1" fill="#b5bcc3" stroke="#794923" stroke-width="1.3"/><circle cx="427" cy="518.2" r="5" fill="#c1c2ce" stroke="#82522c" stroke-width="1.3"/><circle cx="436.2" cy="514.9" r="4.9" fill="#acafb7" stroke="#80502a" stroke-width="1.3"/><circle cx="448.8" cy="518" r="5.1" fill="#a9afb4" stroke="#764620" stroke-width="1.3"/><circle cx="469.1" cy="518" r="5.2" fill="#b7bdc1" stroke="#7f4f29" stroke-width="1.3"/><circle cx="476.7" cy="515.1" r="5.4" fill="#c5c6cb" stroke="#794923" stroke-width="1.3"/><circle cx="490.2" cy="515" r="5.2" fill="#b3b8bf" stroke="#81512b" stroke-width="1.3"/><circle cx="501.9" cy="517.1" r="5.3" fill="#b0b3b7" stroke="#7f4f29" stroke-width="1.3"/><circle cx="512.3" cy="517.2" r="5.5" fill="#aaadb7" stroke="#81512b" stroke-width="1.3"/><circle cx="411.8" cy="524.7" r="5.4" fill="#acacb4" stroke="#8e5e38" stroke-width="1.3"/><circle cx="423" cy="524.2" r="5.3" fill="#b3b3be" stroke="#784822" stroke-width="1.3"/><circle cx="431.3" cy="524.1" r="4.8" fill="#b4b4c0" stroke="#8e5e38" stroke-width="1.3"/><circle cx="443.4" cy="528.4" r="5.2" fill="#adadba" stroke="#73431d" stroke-width="1.3"/><circle cx="454" cy="526.8" r="4.8" fill="#adb2b9" stroke="#90603a" stroke-width="1.3"/><circle cx="462.7" cy="528" r="5.1" fill="#bbbec1" stroke="#865630" stroke-width="1.3"/><circle cx="475.5" cy="526.1" r="5.1" fill="#c6c4cd" stroke="#8e5e38" stroke-width="1.3"/><circle cx="486.5" cy="524.3" r="5.1" fill="#a8afb7" stroke="#84542e" stroke-width="1.3"/><circle cx="493.6" cy="524.5" r="5.5" fill="#aeadb7" stroke="#7f4f29" stroke-width="1.3"/><circle cx="502.5" cy="525.5" r="5" fill="#b0afb7" stroke="#85552f" stroke-width="1.3"/><circle cx="516.1" cy="524.6" r="5.4" fill="#b6b9c0" stroke="#8a5a34" stroke-width="1.3"/><circle cx="406.8" cy="534.8" r="4.9" fill="#a8afb7" stroke="#8c5c36" stroke-width="1.3"/><circle cx="420.4" cy="537.4" r="4.9" fill="#b4b6be" stroke="#90603a" stroke-width="1.3"/><circle cx="426.8" cy="534.2" r="4.9" fill="#c2c5cd" stroke="#8c5c36" stroke-width="1.3"/><circle cx="436.3" cy="535.7" r="5.5" fill="#b4b3be" stroke="#7a4a24" stroke-width="1.3"/><circle cx="448.7" cy="535.1" r="4.8" fill="#b1b0bb" stroke="#7a4a24" stroke-width="1.3"/><circle cx="457.6" cy="533.7" r="5.3" fill="#adacb9" stroke="#81512b" stroke-width="1.3"/><circle cx="467.4" cy="534" r="5.3" fill="#b5b7c2" stroke="#6f3f19" stroke-width="1.3"/><circle cx="477.5" cy="536.5" r="5.1" fill="#b1b2bd" stroke="#85552f" stroke-width="1.3"/><circle cx="490.2" cy="537" r="4.7" fill="#c1c0c9" stroke="#8f5f39" stroke-width="1.3"/><circle cx="497.8" cy="534.9" r="4.9" fill="#acafb6" stroke="#8f5f39" stroke-width="1.3"/><circle cx="509.7" cy="534.9" r="4.7" fill="#c0c5cb" stroke="#90603a" stroke-width="1.3"/><circle cx="410.7" cy="542.7" r="5" fill="#c0c5cf" stroke="#81512b" stroke-width="1.3"/><circle cx="423.8" cy="546.6" r="4.9" fill="#c2c2cf" stroke="#90603a" stroke-width="1.3"/><circle cx="434.6" cy="543.4" r="5.2" fill="#a9acb8" stroke="#895933" stroke-width="1.3"/><circle cx="440.9" cy="542.3" r="5" fill="#b0b1bb" stroke="#875731" stroke-width="1.3"/><circle cx="453.5" cy="546.5" r="5.3" fill="#b8bac4" stroke="#895933" stroke-width="1.3"/><circle cx="476.3" cy="545.3" r="5.5" fill="#bbc0c8" stroke="#8f5f39" stroke-width="1.3"/><circle cx="482" cy="543.5" r="4.9" fill="#b3b7bf" stroke="#7c4c26" stroke-width="1.3"/><circle cx="494.2" cy="545.5" r="5.4" fill="#b2b9bb" stroke="#6f3f19" stroke-width="1.3"/><circle cx="506.3" cy="542.3" r="4.8" fill="#b5b7bf" stroke="#81512b" stroke-width="1.3"/><circle cx="515.3" cy="545.3" r="5.4" fill="#b5b5bd" stroke="#7b4b25" stroke-width="1.3"/><circle cx="408" cy="552.3" r="5.1" fill="#b1b5c0" stroke="#8b5b35" stroke-width="1.3"/><circle cx="420.6" cy="551.6" r="5.5" fill="#b9bec3" stroke="#74441e" stroke-width="1.3"/><circle cx="427.4" cy="555.6" r="5" fill="#bbc1c6" stroke="#85552f" stroke-width="1.3"/><circle cx="437.7" cy="551.3" r="4.8" fill="#bfc6ca" stroke="#7f4f29" stroke-width="1.3"/><circle cx="450" cy="552.2" r="4.8" fill="#c1c4cb" stroke="#8e5e38" stroke-width="1.3"/><circle cx="469.6" cy="551.3" r="5.4" fill="#c6c7d0" stroke="#81512b" stroke-width="1.3"/><circle cx="480.9" cy="551.5" r="5.2" fill="#b3b8bc" stroke="#7c4c26" stroke-width="1.3"/><circle cx="487.1" cy="554.5" r="5" fill="#aeaeb4" stroke="#92623c" stroke-width="1.3"/><circle cx="498.3" cy="551.8" r="5.1" fill="#c0c2c9" stroke="#70401a" stroke-width="1.3"/><circle cx="512.1" cy="553.6" r="5.4" fill="#c4c7d1" stroke="#82522c" stroke-width="1.3"/><circle cx="411.7" cy="562.7" r="5" fill="#b3b6be" stroke="#82522c" stroke-width="1.3"/><circle cx="422.1" cy="562.8" r="5" fill="#adadb8" stroke="#81512b" stroke-width="1.3"/><circle cx="432.1" cy="560.8" r="5" fill="#afadba" stroke="#71411b" stroke-width="1.3"/><circle cx="443.5" cy="561" r="5.3" fill="#b2b2bf" stroke="#875731" stroke-width="1.3"/><circle cx="454.4" cy="562.1" r="5.3" fill="#b7b9c2" stroke="#8e5e38" stroke-width="1.3"/><circle cx="474.4" cy="560.1" r="4.8" fill="#b9bac6" stroke="#875731" stroke-width="1.3"/><circle cx="486" cy="560.4" r="5.3" fill="#bebfca" stroke="#8d5d37" stroke-width="1.3"/><circle cx="492.7" cy="560" r="5" fill="#aab0b4" stroke="#6f3f19" stroke-width="1.3"/><circle cx="506.7" cy="560.8" r="5.3" fill="#c5c7cc" stroke="#72421c" stroke-width="1.3"/><circle cx="406.4" cy="573.7" r="5.2" fill="#bdc4c8" stroke="#80502a" stroke-width="1.3"/><circle cx="418.6" cy="573.6" r="5.2" fill="#aaacb3" stroke="#92623c" stroke-width="1.3"/><circle cx="427.5" cy="569.7" r="5.2" fill="#bbbfc4" stroke="#885832" stroke-width="1.3"/><circle cx="437.8" cy="572.5" r="5.1" fill="#a9adb6" stroke="#8c5c36" stroke-width="1.3"/><circle cx="446.2" cy="572.8" r="5.4" fill="#b9b9c5" stroke="#74441e" stroke-width="1.3"/><circle cx="460.5" cy="570.4" r="4.8" fill="#bbbbc1" stroke="#85552f" stroke-width="1.3"/><circle cx="468.6" cy="568.9" r="5.1" fill="#c1c5cc" stroke="#70401a" stroke-width="1.3"/><circle cx="478.1" cy="569.5" r="4.8" fill="#b3b4bc" stroke="#73431d" stroke-width="1.3"/><circle cx="491.5" cy="569.8" r="5.1" fill="#bbbcc4" stroke="#7f4f29" stroke-width="1.3"/><circle cx="499.2" cy="571.2" r="4.9" fill="#a9acb6" stroke="#8e5e38" stroke-width="1.3"/><circle cx="507.3" cy="569.3" r="4.7" fill="#bec0ca" stroke="#75451f" stroke-width="1.3"/></g><g><circle cx="433.4" cy="485.9" r="1.7" fill="#54311c"/><circle cx="464.1" cy="554.2" r="1.3" fill="#583021"/><circle cx="493.9" cy="503" r="1.2" fill="#532c15"/><circle cx="490.5" cy="487.6" r="1.2" fill="#582c19"/><circle cx="429" cy="540" r="1.2" fill="#5d3823"/></g></g></g><rect x="31.8" y="511.1" width="41.5" height="2.6" fill="#111"/><rect x="31.8" y="616.1" width="41.5" height="2.6" fill="#111"/><rect x="154.0" y="511.1" width="41.5" height="2.6" fill="#111"/><rect x="154.0" y="616.1" width="41.5" height="2.6" fill="#111"/><rect x="276.2" y="511.1" width="41.5" height="2.6" fill="#111"/><rect x="276.2" y="616.1" width="41.5" height="2.6" fill="#111"/><rect x="347.4" y="444.7" width="49.2" height="44.1" fill="none" stroke="#2a1c14" stroke-width="1"/><line x1="396.5" y1="444.7" x2="503.0" y2="481.5" stroke="#222" stroke-width="0.8"/><line x1="347.4" y1="488.8" x2="418.0" y2="564.0" stroke="#222" stroke-width="0.8"/><text x="6.20" y="412.20" font-size="14.2" text-anchor="start">D</text><text x="92.50" y="412.00" font-size="8.5" text-anchor="middle">Untreated</text><text x="214.60" y="412.00" font-size="8.5" text-anchor="middle">0.2 mg/kg</text><text x="337.50" y="412.00" font-size="8.5" text-anchor="middle">0.6 mg/kg</text><text x="24.40" y="465.80" font-size="8.4" text-anchor="middle" transform="rotate(-90 24.40 465.80)">Anti-PBD</text><text x="24.40" y="568.50" font-size="8.4" text-anchor="middle" transform="rotate(-90 24.40 568.50)">Anti-γ-H2AX</text>
<g filter="url(#jp)">
<rect width="520" height="400" fill="none"/>
<g><text transform="translate(3.90 11.50) scale(0.935 1)" font-size="14.55">A</text><line x1="39.50" y1="26.40" x2="39.50" y2="162.00" stroke="#000" stroke-width="1.0"/><line x1="36.30" y1="159.00" x2="39.50" y2="159.00" stroke="#000" stroke-width="1.0"/><text transform="translate(35.40 161.45) scale(0.833 1)" font-size="7.44" text-anchor="end">0</text><line x1="36.30" y1="136.97" x2="39.50" y2="136.97" stroke="#000" stroke-width="1.0"/><text transform="translate(35.40 139.42) scale(0.833 1)" font-size="7.44" text-anchor="end">500</text><line x1="36.30" y1="114.93" x2="39.50" y2="114.93" stroke="#000" stroke-width="1.0"/><text transform="translate(35.40 117.38) scale(0.833 1)" font-size="7.44" text-anchor="end">1,000</text><line x1="36.30" y1="92.90" x2="39.50" y2="92.90" stroke="#000" stroke-width="1.0"/><text transform="translate(35.40 95.35) scale(0.833 1)" font-size="7.44" text-anchor="end">1,500</text><line x1="36.30" y1="70.87" x2="39.50" y2="70.87" stroke="#000" stroke-width="1.0"/><text transform="translate(35.40 73.32) scale(0.833 1)" font-size="7.44" text-anchor="end">2,000</text><line x1="36.30" y1="48.83" x2="39.50" y2="48.83" stroke="#000" stroke-width="1.0"/><text transform="translate(35.40 51.28) scale(0.833 1)" font-size="7.44" text-anchor="end">2,500</text><line x1="36.30" y1="26.80" x2="39.50" y2="26.80" stroke="#000" stroke-width="1.0"/><text transform="translate(35.40 29.25) scale(0.833 1)" font-size="7.44" text-anchor="end">3,000</text><line x1="39.00" y1="161.50" x2="241.20" y2="161.50" stroke="#000" stroke-width="1.0"/><line x1="39.30" y1="161.50" x2="39.30" y2="163.50" stroke="#000" stroke-width="1.0"/><text transform="translate(39.30 170.80) scale(0.833 1)" font-size="7.44" text-anchor="middle">0</text><line x1="56.05" y1="161.50" x2="56.05" y2="163.50" stroke="#000" stroke-width="1.0"/><text transform="translate(56.05 170.80) scale(0.833 1)" font-size="7.44" text-anchor="middle">5</text><line x1="72.80" y1="161.50" x2="72.80" y2="163.50" stroke="#000" stroke-width="1.0"/><text transform="translate(72.80 170.80) scale(0.833 1)" font-size="7.44" text-anchor="middle">10</text><line x1="89.55" y1="161.50" x2="89.55" y2="163.50" stroke="#000" stroke-width="1.0"/><text transform="translate(89.55 170.80) scale(0.833 1)" font-size="7.44" text-anchor="middle">15</text><line x1="106.30" y1="161.50" x2="106.30" y2="163.50" stroke="#000" stroke-width="1.0"/><text transform="translate(106.30 170.80) scale(0.833 1)" font-size="7.44" text-anchor="middle">20</text><line x1="123.05" y1="161.50" x2="123.05" y2="163.50" stroke="#000" stroke-width="1.0"/><text transform="translate(123.05 170.80) scale(0.833 1)" font-size="7.44" text-anchor="middle">25</text><line x1="139.80" y1="161.50" x2="139.80" y2="163.50" stroke="#000" stroke-width="1.0"/><text transform="translate(139.80 170.80) scale(0.833 1)" font-size="7.44" text-anchor="middle">30</text><line x1="156.55" y1="161.50" x2="156.55" y2="163.50" stroke="#000" stroke-width="1.0"/><text transform="translate(156.55 170.80) scale(0.833 1)" font-size="7.44" text-anchor="middle">35</text><line x1="173.30" y1="161.50" x2="173.30" y2="163.50" stroke="#000" stroke-width="1.0"/><text transform="translate(173.30 170.80) scale(0.833 1)" font-size="7.44" text-anchor="middle">40</text><line x1="190.05" y1="161.50" x2="190.05" y2="163.50" stroke="#000" stroke-width="1.0"/><text transform="translate(190.05 170.80) scale(0.833 1)" font-size="7.44" text-anchor="middle">45</text><line x1="206.80" y1="161.50" x2="206.80" y2="163.50" stroke="#000" stroke-width="1.0"/><text transform="translate(206.80 170.80) scale(0.833 1)" font-size="7.44" text-anchor="middle">50</text><line x1="223.55" y1="161.50" x2="223.55" y2="163.50" stroke="#000" stroke-width="1.0"/><text transform="translate(223.55 170.80) scale(0.833 1)" font-size="7.44" text-anchor="middle">55</text><line x1="240.30" y1="161.50" x2="240.30" y2="163.50" stroke="#000" stroke-width="1.0"/><text transform="translate(240.30 170.80) scale(0.833 1)" font-size="7.44" text-anchor="middle">60</text><text transform="translate(140.00 183.80) scale(0.870 1)" font-size="8.80" text-anchor="middle">Duration of study (days)</text><text transform="translate(10.30 92.50) rotate(-90) scale(0.870 1)" font-size="8.80" text-anchor="middle">Mean tumor volume (mm<tspan font-size="5.2" dy="-3.0">3</tspan><tspan dy="3.0">) ± SEM</tspan></text><polyline points="42.65,152.10 52.70,144.70 62.75,149.40 72.80,153.80 86.20,157.00 96.25,158.30 109.65,158.80 119.70,158.90 133.10,158.90 143.15,158.90 156.55,158.90 166.60,158.90 180.00,158.90 190.05,158.90 203.45,158.90 213.50,158.90 226.90,158.90 236.95,158.90" fill="none" stroke="#b0b834" stroke-width="1.05"/><polygon points="42.65,150.00 44.75,152.10 42.65,154.20 40.55,152.10" fill="#fff" stroke="#b0b834" stroke-width="1.45" stroke-linejoin="round"/><polygon points="52.70,142.60 54.80,144.70 52.70,146.80 50.60,144.70" fill="#fff" stroke="#b0b834" stroke-width="1.45" stroke-linejoin="round"/><polygon points="62.75,147.30 64.85,149.40 62.75,151.50 60.65,149.40" fill="#fff" stroke="#b0b834" stroke-width="1.45" stroke-linejoin="round"/><polygon points="72.80,151.70 74.90,153.80 72.80,155.90 70.70,153.80" fill="#fff" stroke="#b0b834" stroke-width="1.45" stroke-linejoin="round"/><polygon points="86.20,154.90 88.30,157.00 86.20,159.10 84.10,157.00" fill="#fff" stroke="#b0b834" stroke-width="1.45" stroke-linejoin="round"/><polygon points="96.25,156.20 98.35,158.30 96.25,160.40 94.15,158.30" fill="#fff" stroke="#b0b834" stroke-width="1.45" stroke-linejoin="round"/><polygon points="109.65,156.70 111.75,158.80 109.65,160.90 107.55,158.80" fill="#fff" stroke="#b0b834" stroke-width="1.45" stroke-linejoin="round"/><polygon points="119.70,156.80 121.80,158.90 119.70,161.00 117.60,158.90" fill="#fff" stroke="#b0b834" stroke-width="1.45" stroke-linejoin="round"/><polygon points="133.10,156.80 135.20,158.90 133.10,161.00 131.00,158.90" fill="#fff" stroke="#b0b834" stroke-width="1.45" stroke-linejoin="round"/><polygon points="143.15,156.80 145.25,158.90 143.15,161.00 141.05,158.90" fill="#fff" stroke="#b0b834" stroke-width="1.45" stroke-linejoin="round"/><polygon points="156.55,156.80 158.65,158.90 156.55,161.00 154.45,158.90" fill="#fff" stroke="#b0b834" stroke-width="1.45" stroke-linejoin="round"/><polygon points="166.60,156.80 168.70,158.90 166.60,161.00 164.50,158.90" fill="#fff" stroke="#b0b834" stroke-width="1.45" stroke-linejoin="round"/><polygon points="180.00,156.80 182.10,158.90 180.00,161.00 177.90,158.90" fill="#fff" stroke="#b0b834" stroke-width="1.45" stroke-linejoin="round"/><polygon points="190.05,156.80 192.15,158.90 190.05,161.00 187.95,158.90" fill="#fff" stroke="#b0b834" stroke-width="1.45" stroke-linejoin="round"/><polygon points="203.45,156.80 205.55,158.90 203.45,161.00 201.35,158.90" fill="#fff" stroke="#b0b834" stroke-width="1.45" stroke-linejoin="round"/><polygon points="213.50,156.80 215.60,158.90 213.50,161.00 211.40,158.90" fill="#fff" stroke="#b0b834" stroke-width="1.45" stroke-linejoin="round"/><polygon points="226.90,156.80 229.00,158.90 226.90,161.00 224.80,158.90" fill="#fff" stroke="#b0b834" stroke-width="1.45" stroke-linejoin="round"/><polygon points="236.95,156.80 239.05,158.90 236.95,161.00 234.85,158.90" fill="#fff" stroke="#b0b834" stroke-width="1.45" stroke-linejoin="round"/><polyline points="42.65,152.10 52.70,144.70 62.75,149.40 72.80,153.30 86.20,156.40 96.25,157.80 109.65,156.20 119.70,154.20 133.10,151.70 143.15,142.40 156.55,141.30 166.60,139.00 180.00,115.90 190.05,103.20 203.45,93.50" fill="none" stroke="#bc4222" stroke-width="1.05"/><line x1="109.65" y1="155.20" x2="109.65" y2="157.20" stroke="#bc4222" stroke-width="1.15"/><line x1="107.65" y1="155.20" x2="111.65" y2="155.20" stroke="#bc4222" stroke-width="1.15"/><line x1="107.65" y1="157.20" x2="111.65" y2="157.20" stroke="#bc4222" stroke-width="1.15"/><line x1="119.70" y1="152.70" x2="119.70" y2="155.70" stroke="#bc4222" stroke-width="1.15"/><line x1="117.70" y1="152.70" x2="121.70" y2="152.70" stroke="#bc4222" stroke-width="1.15"/><line x1="117.70" y1="155.70" x2="121.70" y2="155.70" stroke="#bc4222" stroke-width="1.15"/><line x1="133.10" y1="149.20" x2="133.10" y2="154.20" stroke="#bc4222" stroke-width="1.15"/><line x1="131.10" y1="149.20" x2="135.10" y2="149.20" stroke="#bc4222" stroke-width="1.15"/><line x1="131.10" y1="154.20" x2="135.10" y2="154.20" stroke="#bc4222" stroke-width="1.15"/><line x1="143.15" y1="137.20" x2="143.15" y2="147.60" stroke="#bc4222" stroke-width="1.15"/><line x1="141.15" y1="137.20" x2="145.15" y2="137.20" stroke="#bc4222" stroke-width="1.15"/><line x1="141.15" y1="147.60" x2="145.15" y2="147.60" stroke="#bc4222" stroke-width="1.15"/><line x1="156.55" y1="135.60" x2="156.55" y2="147.00" stroke="#bc4222" stroke-width="1.15"/><line x1="154.55" y1="135.60" x2="158.55" y2="135.60" stroke="#bc4222" stroke-width="1.15"/><line x1="154.55" y1="147.00" x2="158.55" y2="147.00" stroke="#bc4222" stroke-width="1.15"/><line x1="166.60" y1="132.80" x2="166.60" y2="145.20" stroke="#bc4222" stroke-width="1.15"/><line x1="164.60" y1="132.80" x2="168.60" y2="132.80" stroke="#bc4222" stroke-width="1.15"/><line x1="164.60" y1="145.20" x2="168.60" y2="145.20" stroke="#bc4222" stroke-width="1.15"/><line x1="180.00" y1="100.70" x2="180.00" y2="131.10" stroke="#bc4222" stroke-width="1.15"/><line x1="178.00" y1="100.70" x2="182.00" y2="100.70" stroke="#bc4222" stroke-width="1.15"/><line x1="178.00" y1="131.10" x2="182.00" y2="131.10" stroke="#bc4222" stroke-width="1.15"/><line x1="190.05" y1="87.20" x2="190.05" y2="119.20" stroke="#bc4222" stroke-width="1.15"/><line x1="188.05" y1="87.20" x2="192.05" y2="87.20" stroke="#bc4222" stroke-width="1.15"/><line x1="188.05" y1="119.20" x2="192.05" y2="119.20" stroke="#bc4222" stroke-width="1.15"/><line x1="203.45" y1="76.20" x2="203.45" y2="110.80" stroke="#bc4222" stroke-width="1.15"/><line x1="201.45" y1="76.20" x2="205.45" y2="76.20" stroke="#bc4222" stroke-width="1.15"/><line x1="201.45" y1="110.80" x2="205.45" y2="110.80" stroke="#bc4222" stroke-width="1.15"/><polygon points="42.65,154.30 44.74,150.78 40.56,150.78" fill="#fff" stroke="#bc4222" stroke-width="1.45" stroke-linejoin="round"/><polygon points="52.70,146.90 54.79,143.38 50.61,143.38" fill="#fff" stroke="#bc4222" stroke-width="1.45" stroke-linejoin="round"/><polygon points="62.75,151.60 64.84,148.08 60.66,148.08" fill="#fff" stroke="#bc4222" stroke-width="1.45" stroke-linejoin="round"/><polygon points="72.80,155.50 74.89,151.98 70.71,151.98" fill="#fff" stroke="#bc4222" stroke-width="1.45" stroke-linejoin="round"/><polygon points="86.20,158.60 88.29,155.08 84.11,155.08" fill="#fff" stroke="#bc4222" stroke-width="1.45" stroke-linejoin="round"/><polygon points="96.25,160.00 98.34,156.48 94.16,156.48" fill="#fff" stroke="#bc4222" stroke-width="1.45" stroke-linejoin="round"/><polygon points="109.65,158.40 111.74,154.88 107.56,154.88" fill="#fff" stroke="#bc4222" stroke-width="1.45" stroke-linejoin="round"/><polygon points="119.70,156.40 121.79,152.88 117.61,152.88" fill="#fff" stroke="#bc4222" stroke-width="1.45" stroke-linejoin="round"/><polygon points="133.10,153.90 135.19,150.38 131.01,150.38" fill="#fff" stroke="#bc4222" stroke-width="1.45" stroke-linejoin="round"/><polygon points="143.15,144.60 145.24,141.08 141.06,141.08" fill="#fff" stroke="#bc4222" stroke-width="1.45" stroke-linejoin="round"/><polygon points="156.55,143.50 158.64,139.98 154.46,139.98" fill="#fff" stroke="#bc4222" stroke-width="1.45" stroke-linejoin="round"/><polygon points="166.60,141.20 168.69,137.68 164.51,137.68" fill="#fff" stroke="#bc4222" stroke-width="1.45" stroke-linejoin="round"/><polygon points="180.00,118.10 182.09,114.58 177.91,114.58" fill="#fff" stroke="#bc4222" stroke-width="1.45" stroke-linejoin="round"/><polygon points="190.05,105.40 192.14,101.88 187.96,101.88" fill="#fff" stroke="#bc4222" stroke-width="1.45" stroke-linejoin="round"/><polygon points="203.45,95.70 205.54,92.18 201.36,92.18" fill="#fff" stroke="#bc4222" stroke-width="1.45" stroke-linejoin="round"/><polyline points="42.65,152.10 52.70,144.70 62.75,146.60 72.80,147.00 86.20,145.00 96.25,145.00 109.65,135.00 119.70,127.30 133.10,109.70 143.15,83.50 156.55,73.40" fill="none" stroke="#8c2c7e" stroke-width="1.05"/><line x1="62.75" y1="144.60" x2="62.75" y2="148.60" stroke="#8c2c7e" stroke-width="1.15"/><line x1="60.75" y1="144.60" x2="64.75" y2="144.60" stroke="#8c2c7e" stroke-width="1.15"/><line x1="60.75" y1="148.60" x2="64.75" y2="148.60" stroke="#8c2c7e" stroke-width="1.15"/><line x1="72.80" y1="145.00" x2="72.80" y2="149.00" stroke="#8c2c7e" stroke-width="1.15"/><line x1="70.80" y1="145.00" x2="74.80" y2="145.00" stroke="#8c2c7e" stroke-width="1.15"/><line x1="70.80" y1="149.00" x2="74.80" y2="149.00" stroke="#8c2c7e" stroke-width="1.15"/><line x1="86.20" y1="139.60" x2="86.20" y2="150.40" stroke="#8c2c7e" stroke-width="1.15"/><line x1="84.20" y1="139.60" x2="88.20" y2="139.60" stroke="#8c2c7e" stroke-width="1.15"/><line x1="84.20" y1="150.40" x2="88.20" y2="150.40" stroke="#8c2c7e" stroke-width="1.15"/><line x1="96.25" y1="139.60" x2="96.25" y2="150.40" stroke="#8c2c7e" stroke-width="1.15"/><line x1="94.25" y1="139.60" x2="98.25" y2="139.60" stroke="#8c2c7e" stroke-width="1.15"/><line x1="94.25" y1="150.40" x2="98.25" y2="150.40" stroke="#8c2c7e" stroke-width="1.15"/><line x1="109.65" y1="128.80" x2="109.65" y2="141.20" stroke="#8c2c7e" stroke-width="1.15"/><line x1="107.65" y1="128.80" x2="111.65" y2="128.80" stroke="#8c2c7e" stroke-width="1.15"/><line x1="107.65" y1="141.20" x2="111.65" y2="141.20" stroke="#8c2c7e" stroke-width="1.15"/><line x1="119.70" y1="120.60" x2="119.70" y2="134.00" stroke="#8c2c7e" stroke-width="1.15"/><line x1="117.70" y1="120.60" x2="121.70" y2="120.60" stroke="#8c2c7e" stroke-width="1.15"/><line x1="117.70" y1="134.00" x2="121.70" y2="134.00" stroke="#8c2c7e" stroke-width="1.15"/><line x1="133.10" y1="99.50" x2="133.10" y2="119.90" stroke="#8c2c7e" stroke-width="1.15"/><line x1="131.10" y1="99.50" x2="135.10" y2="99.50" stroke="#8c2c7e" stroke-width="1.15"/><line x1="131.10" y1="119.90" x2="135.10" y2="119.90" stroke="#8c2c7e" stroke-width="1.15"/><line x1="143.15" y1="71.40" x2="143.15" y2="95.60" stroke="#8c2c7e" stroke-width="1.15"/><line x1="141.15" y1="71.40" x2="145.15" y2="71.40" stroke="#8c2c7e" stroke-width="1.15"/><line x1="141.15" y1="95.60" x2="145.15" y2="95.60" stroke="#8c2c7e" stroke-width="1.15"/><line x1="156.55" y1="62.40" x2="156.55" y2="84.40" stroke="#8c2c7e" stroke-width="1.15"/><line x1="154.55" y1="62.40" x2="158.55" y2="62.40" stroke="#8c2c7e" stroke-width="1.15"/><line x1="154.55" y1="84.40" x2="158.55" y2="84.40" stroke="#8c2c7e" stroke-width="1.15"/><polygon points="42.65,149.90 44.74,153.42 40.56,153.42" fill="#fff" stroke="#8c2c7e" stroke-width="1.45" stroke-linejoin="round"/><polygon points="52.70,142.50 54.79,146.02 50.61,146.02" fill="#fff" stroke="#8c2c7e" stroke-width="1.45" stroke-linejoin="round"/><polygon points="62.75,144.40 64.84,147.92 60.66,147.92" fill="#fff" stroke="#8c2c7e" stroke-width="1.45" stroke-linejoin="round"/><polygon points="72.80,144.80 74.89,148.32 70.71,148.32" fill="#fff" stroke="#8c2c7e" stroke-width="1.45" stroke-linejoin="round"/><polygon points="86.20,142.80 88.29,146.32 84.11,146.32" fill="#fff" stroke="#8c2c7e" stroke-width="1.45" stroke-linejoin="round"/><polygon points="96.25,142.80 98.34,146.32 94.16,146.32" fill="#fff" stroke="#8c2c7e" stroke-width="1.45" stroke-linejoin="round"/><polygon points="109.65,132.80 111.74,136.32 107.56,136.32" fill="#fff" stroke="#8c2c7e" stroke-width="1.45" stroke-linejoin="round"/><polygon points="119.70,125.10 121.79,128.62 117.61,128.62" fill="#fff" stroke="#8c2c7e" stroke-width="1.45" stroke-linejoin="round"/><polygon points="133.10,107.50 135.19,111.02 131.01,111.02" fill="#fff" stroke="#8c2c7e" stroke-width="1.45" stroke-linejoin="round"/><polygon points="143.15,81.30 145.24,84.82 141.06,84.82" fill="#fff" stroke="#8c2c7e" stroke-width="1.45" stroke-linejoin="round"/><polygon points="156.55,71.20 158.64,74.72 154.46,74.72" fill="#fff" stroke="#8c2c7e" stroke-width="1.45" stroke-linejoin="round"/><polyline points="42.65,152.10 52.70,148.40 62.75,141.40 72.80,129.50 86.20,122.40 96.25,113.00 109.65,85.40 119.70,80.50 133.10,67.70" fill="none" stroke="#19467e" stroke-width="1.05"/><line x1="72.80" y1="128.00" x2="72.80" y2="131.00" stroke="#19467e" stroke-width="1.15"/><line x1="70.80" y1="128.00" x2="74.80" y2="128.00" stroke="#19467e" stroke-width="1.15"/><line x1="70.80" y1="131.00" x2="74.80" y2="131.00" stroke="#19467e" stroke-width="1.15"/><line x1="86.20" y1="118.20" x2="86.20" y2="126.60" stroke="#19467e" stroke-width="1.15"/><line x1="84.20" y1="118.20" x2="88.20" y2="118.20" stroke="#19467e" stroke-width="1.15"/><line x1="84.20" y1="126.60" x2="88.20" y2="126.60" stroke="#19467e" stroke-width="1.15"/><line x1="96.25" y1="107.20" x2="96.25" y2="118.80" stroke="#19467e" stroke-width="1.15"/><line x1="94.25" y1="107.20" x2="98.25" y2="107.20" stroke="#19467e" stroke-width="1.15"/><line x1="94.25" y1="118.80" x2="98.25" y2="118.80" stroke="#19467e" stroke-width="1.15"/><line x1="109.65" y1="78.90" x2="109.65" y2="91.90" stroke="#19467e" stroke-width="1.15"/><line x1="107.65" y1="78.90" x2="111.65" y2="78.90" stroke="#19467e" stroke-width="1.15"/><line x1="107.65" y1="91.90" x2="111.65" y2="91.90" stroke="#19467e" stroke-width="1.15"/><line x1="119.70" y1="72.50" x2="119.70" y2="88.50" stroke="#19467e" stroke-width="1.15"/><line x1="117.70" y1="72.50" x2="121.70" y2="72.50" stroke="#19467e" stroke-width="1.15"/><line x1="117.70" y1="88.50" x2="121.70" y2="88.50" stroke="#19467e" stroke-width="1.15"/><line x1="133.10" y1="62.40" x2="133.10" y2="73.00" stroke="#19467e" stroke-width="1.15"/><line x1="131.10" y1="62.40" x2="135.10" y2="62.40" stroke="#19467e" stroke-width="1.15"/><line x1="131.10" y1="73.00" x2="135.10" y2="73.00" stroke="#19467e" stroke-width="1.15"/><rect x="40.90" y="150.35" width="3.50" height="3.50" fill="#fff" stroke="#19467e" stroke-width="1.45"/><rect x="50.95" y="146.65" width="3.50" height="3.50" fill="#fff" stroke="#19467e" stroke-width="1.45"/><rect x="61.00" y="139.65" width="3.50" height="3.50" fill="#fff" stroke="#19467e" stroke-width="1.45"/><rect x="71.05" y="127.75" width="3.50" height="3.50" fill="#fff" stroke="#19467e" stroke-width="1.45"/><rect x="84.45" y="120.65" width="3.50" height="3.50" fill="#fff" stroke="#19467e" stroke-width="1.45"/><rect x="94.50" y="111.25" width="3.50" height="3.50" fill="#fff" stroke="#19467e" stroke-width="1.45"/><rect x="107.90" y="83.65" width="3.50" height="3.50" fill="#fff" stroke="#19467e" stroke-width="1.45"/><rect x="117.95" y="78.75" width="3.50" height="3.50" fill="#fff" stroke="#19467e" stroke-width="1.45"/><rect x="131.35" y="65.95" width="3.50" height="3.50" fill="#fff" stroke="#19467e" stroke-width="1.45"/><polyline points="42.65,152.10 52.70,148.40 62.75,141.40 72.80,123.10 86.20,100.40 96.25,84.40 109.65,74.90" fill="none" stroke="#1f8ac0" stroke-width="1.05"/><line x1="72.80" y1="121.60" x2="72.80" y2="124.60" stroke="#1f8ac0" stroke-width="1.15"/><line x1="70.80" y1="121.60" x2="74.80" y2="121.60" stroke="#1f8ac0" stroke-width="1.15"/><line x1="70.80" y1="124.60" x2="74.80" y2="124.60" stroke="#1f8ac0" stroke-width="1.15"/><line x1="86.20" y1="93.90" x2="86.20" y2="106.90" stroke="#1f8ac0" stroke-width="1.15"/><line x1="84.20" y1="93.90" x2="88.20" y2="93.90" stroke="#1f8ac0" stroke-width="1.15"/><line x1="84.20" y1="106.90" x2="88.20" y2="106.90" stroke="#1f8ac0" stroke-width="1.15"/><line x1="96.25" y1="76.70" x2="96.25" y2="92.10" stroke="#1f8ac0" stroke-width="1.15"/><line x1="94.25" y1="76.70" x2="98.25" y2="76.70" stroke="#1f8ac0" stroke-width="1.15"/><line x1="94.25" y1="92.10" x2="98.25" y2="92.10" stroke="#1f8ac0" stroke-width="1.15"/><line x1="109.65" y1="69.40" x2="109.65" y2="80.40" stroke="#1f8ac0" stroke-width="1.15"/><line x1="107.65" y1="69.40" x2="111.65" y2="69.40" stroke="#1f8ac0" stroke-width="1.15"/><line x1="107.65" y1="80.40" x2="111.65" y2="80.40" stroke="#1f8ac0" stroke-width="1.15"/><circle cx="42.65" cy="152.10" r="1.75" fill="#fff" stroke="#1f8ac0" stroke-width="1.45"/><circle cx="52.70" cy="148.40" r="1.75" fill="#fff" stroke="#1f8ac0" stroke-width="1.45"/><circle cx="62.75" cy="141.40" r="1.75" fill="#fff" stroke="#1f8ac0" stroke-width="1.45"/><circle cx="72.80" cy="123.10" r="1.75" fill="#fff" stroke="#1f8ac0" stroke-width="1.45"/><circle cx="86.20" cy="100.40" r="1.75" fill="#fff" stroke="#1f8ac0" stroke-width="1.45"/><circle cx="96.25" cy="84.40" r="1.75" fill="#fff" stroke="#1f8ac0" stroke-width="1.45"/><circle cx="109.65" cy="74.90" r="1.75" fill="#fff" stroke="#1f8ac0" stroke-width="1.45"/><line x1="165.00" y1="9.10" x2="174.80" y2="9.10" stroke="#1f8ac0" stroke-width="0.9"/><circle cx="169.90" cy="9.10" r="1.89" fill="#fff" stroke="#1f8ac0" stroke-width="1.45"/><text transform="translate(179.90 11.60) scale(0.926 1)" font-size="6.48">PBS, qd × 1</text><line x1="165.00" y1="17.80" x2="174.80" y2="17.80" stroke="#19467e" stroke-width="0.9"/><rect x="168.01" y="15.91" width="3.78" height="3.78" fill="#fff" stroke="#19467e" stroke-width="1.45"/><text transform="translate(179.90 20.30) scale(0.926 1)" font-size="6.48">ADCT-301 0.1 mg/kg, qd × 1</text><line x1="165.00" y1="26.50" x2="174.80" y2="26.50" stroke="#8c2c7e" stroke-width="0.9"/><polygon points="169.90,24.12 172.16,27.93 167.64,27.93" fill="#fff" stroke="#8c2c7e" stroke-width="1.45" stroke-linejoin="round"/><text transform="translate(179.90 29.00) scale(0.926 1)" font-size="6.48">ADCT-301 0.2 mg/kg, qd × 1</text><line x1="165.00" y1="35.40" x2="174.80" y2="35.40" stroke="#bc4222" stroke-width="0.9"/><polygon points="169.90,37.78 172.16,33.97 167.64,33.97" fill="#fff" stroke="#bc4222" stroke-width="1.45" stroke-linejoin="round"/><text transform="translate(179.90 37.90) scale(0.926 1)" font-size="6.48">ADCT-301 0.4 mg/kg, qd × 1</text><line x1="165.00" y1="43.80" x2="174.80" y2="43.80" stroke="#b0b834" stroke-width="0.9"/><polygon points="169.90,41.53 172.17,43.80 169.90,46.07 167.63,43.80" fill="#fff" stroke="#b0b834" stroke-width="1.45" stroke-linejoin="round"/><text transform="translate(179.90 46.30) scale(0.926 1)" font-size="6.48">ADCT-301 0.6 mg/kg, qd × 1</text></g><g><text transform="translate(269.80 11.80) scale(0.935 1)" font-size="14.55">B</text><line x1="302.50" y1="26.80" x2="302.50" y2="161.00" stroke="#000" stroke-width="1.0"/><line x1="299.30" y1="160.30" x2="302.50" y2="160.30" stroke="#000" stroke-width="1.0"/><text transform="translate(298.40 162.75) scale(0.833 1)" font-size="7.44" text-anchor="end">0</text><line x1="299.30" y1="138.12" x2="302.50" y2="138.12" stroke="#000" stroke-width="1.0"/><text transform="translate(298.40 140.57) scale(0.833 1)" font-size="7.44" text-anchor="end">500</text><line x1="299.30" y1="115.93" x2="302.50" y2="115.93" stroke="#000" stroke-width="1.0"/><text transform="translate(298.40 118.38) scale(0.833 1)" font-size="7.44" text-anchor="end">1,000</text><line x1="299.30" y1="93.75" x2="302.50" y2="93.75" stroke="#000" stroke-width="1.0"/><text transform="translate(298.40 96.20) scale(0.833 1)" font-size="7.44" text-anchor="end">1,500</text><line x1="299.30" y1="71.57" x2="302.50" y2="71.57" stroke="#000" stroke-width="1.0"/><text transform="translate(298.40 74.02) scale(0.833 1)" font-size="7.44" text-anchor="end">2,000</text><line x1="299.30" y1="49.38" x2="302.50" y2="49.38" stroke="#000" stroke-width="1.0"/><text transform="translate(298.40 51.83) scale(0.833 1)" font-size="7.44" text-anchor="end">2,500</text><line x1="299.30" y1="27.20" x2="302.50" y2="27.20" stroke="#000" stroke-width="1.0"/><text transform="translate(298.40 29.65) scale(0.833 1)" font-size="7.44" text-anchor="end">3,000</text><line x1="302.00" y1="160.50" x2="503.50" y2="160.50" stroke="#000" stroke-width="1.0"/><line x1="302.30" y1="160.50" x2="302.30" y2="162.50" stroke="#000" stroke-width="1.0"/><text transform="translate(302.30 170.00) scale(0.833 1)" font-size="7.44" text-anchor="middle">0</text><line x1="315.49" y1="160.50" x2="315.49" y2="162.50" stroke="#000" stroke-width="1.0"/><text transform="translate(315.49 170.00) scale(0.833 1)" font-size="7.44" text-anchor="middle">5</text><line x1="328.67" y1="160.50" x2="328.67" y2="162.50" stroke="#000" stroke-width="1.0"/><text transform="translate(328.67 170.00) scale(0.833 1)" font-size="7.44" text-anchor="middle">10</text><line x1="341.86" y1="160.50" x2="341.86" y2="162.50" stroke="#000" stroke-width="1.0"/><text transform="translate(341.86 170.00) scale(0.833 1)" font-size="7.44" text-anchor="middle">15</text><line x1="355.04" y1="160.50" x2="355.04" y2="162.50" stroke="#000" stroke-width="1.0"/><text transform="translate(355.04 170.00) scale(0.833 1)" font-size="7.44" text-anchor="middle">20</text><line x1="368.23" y1="160.50" x2="368.23" y2="162.50" stroke="#000" stroke-width="1.0"/><text transform="translate(368.23 170.00) scale(0.833 1)" font-size="7.44" text-anchor="middle">25</text><line x1="381.41" y1="160.50" x2="381.41" y2="162.50" stroke="#000" stroke-width="1.0"/><text transform="translate(381.41 170.00) scale(0.833 1)" font-size="7.44" text-anchor="middle">30</text><line x1="394.60" y1="160.50" x2="394.60" y2="162.50" stroke="#000" stroke-width="1.0"/><text transform="translate(394.60 170.00) scale(0.833 1)" font-size="7.44" text-anchor="middle">35</text><line x1="407.78" y1="160.50" x2="407.78" y2="162.50" stroke="#000" stroke-width="1.0"/><text transform="translate(407.78 170.00) scale(0.833 1)" font-size="7.44" text-anchor="middle">40</text><line x1="420.97" y1="160.50" x2="420.97" y2="162.50" stroke="#000" stroke-width="1.0"/><text transform="translate(420.97 170.00) scale(0.833 1)" font-size="7.44" text-anchor="middle">45</text><line x1="434.15" y1="160.50" x2="434.15" y2="162.50" stroke="#000" stroke-width="1.0"/><text transform="translate(434.15 170.00) scale(0.833 1)" font-size="7.44" text-anchor="middle">50</text><line x1="447.34" y1="160.50" x2="447.34" y2="162.50" stroke="#000" stroke-width="1.0"/><text transform="translate(447.34 170.00) scale(0.833 1)" font-size="7.44" text-anchor="middle">55</text><line x1="460.52" y1="160.50" x2="460.52" y2="162.50" stroke="#000" stroke-width="1.0"/><text transform="translate(460.52 170.00) scale(0.833 1)" font-size="7.44" text-anchor="middle">60</text><line x1="473.71" y1="160.50" x2="473.71" y2="162.50" stroke="#000" stroke-width="1.0"/><text transform="translate(473.71 170.00) scale(0.833 1)" font-size="7.44" text-anchor="middle">65</text><line x1="486.89" y1="160.50" x2="486.89" y2="162.50" stroke="#000" stroke-width="1.0"/><text transform="translate(486.89 170.00) scale(0.833 1)" font-size="7.44" text-anchor="middle">70</text><line x1="500.08" y1="160.50" x2="500.08" y2="162.50" stroke="#000" stroke-width="1.0"/><text transform="translate(500.08 170.00) scale(0.833 1)" font-size="7.44" text-anchor="middle">75</text><text transform="translate(404.60 183.60) scale(0.870 1)" font-size="8.80" text-anchor="middle">Duration of study (days)</text><text transform="translate(276.60 89.20) rotate(-90) scale(0.870 1)" font-size="8.80" text-anchor="middle">Mean tumor volume (mm<tspan font-size="5.2" dy="-3.0">3</tspan><tspan dy="3.0">) ± SEM</tspan></text><line x1="419.20" y1="54.40" x2="419.20" y2="106.20" stroke="#333" stroke-width="0.6"/><line x1="419.20" y1="106.20" x2="494.50" y2="106.20" stroke="#333" stroke-width="0.6"/><line x1="417.60" y1="106.20" x2="419.20" y2="106.20" stroke="#333" stroke-width="0.6"/><text transform="translate(416.60 107.50) scale(0.870 1)" font-size="4.14" text-anchor="end" fill="#333">0</text><line x1="417.60" y1="89.00" x2="419.20" y2="89.00" stroke="#333" stroke-width="0.6"/><text transform="translate(416.60 90.30) scale(0.870 1)" font-size="4.14" text-anchor="end" fill="#333">1</text><line x1="417.60" y1="71.80" x2="419.20" y2="71.80" stroke="#333" stroke-width="0.6"/><text transform="translate(416.60 73.10) scale(0.870 1)" font-size="4.14" text-anchor="end" fill="#333">2</text><line x1="417.60" y1="54.60" x2="419.20" y2="54.60" stroke="#333" stroke-width="0.6"/><text transform="translate(416.60 55.90) scale(0.870 1)" font-size="4.14" text-anchor="end" fill="#333">3</text><line x1="437.10" y1="106.20" x2="437.10" y2="107.60" stroke="#333" stroke-width="0.6"/><line x1="475.00" y1="106.20" x2="475.00" y2="107.60" stroke="#333" stroke-width="0.6"/><rect x="424.2" y="92.8" width="25.8" height="13.4" fill="#1fc41f"/><line x1="437.10" y1="92.80" x2="437.10" y2="88.90" stroke="#1fc41f" stroke-width="0.9"/><line x1="431.00" y1="88.90" x2="443.90" y2="88.90" stroke="#1fc41f" stroke-width="0.9"/><rect x="462.3" y="70.9" width="25.4" height="35.3" fill="#1414e0"/><line x1="475.00" y1="70.90" x2="475.00" y2="63.00" stroke="#1414e0" stroke-width="0.9"/><line x1="469.30" y1="63.00" x2="481.30" y2="63.00" stroke="#1414e0" stroke-width="0.9"/><text transform="translate(409.00 80.00) rotate(-90) scale(0.870 1)" font-size="3.91" text-anchor="middle" fill="#333">Copy number (×10<tspan font-size="2.4" dy="-1.2">5</tspan><tspan dy="1.2">)</tspan></text><rect x="497.8" y="55.4" width="5.8" height="3.4" fill="#1fc41f"/><rect x="497.8" y="62.7" width="5.8" height="3.4" fill="#1414e0"/><text transform="translate(505.60 59.20) scale(0.870 1)" font-size="7.36">CD25</text><text transform="translate(505.60 66.50) scale(0.870 1)" font-size="7.36">CD30</text><polyline points="304.94,154.60 318.12,155.60 326.03,158.20 336.58,159.30 344.49,159.50 355.04,159.50 362.95,157.70 373.50,155.80 381.41,155.40 391.96,152.30 399.87,148.50 410.42,143.50 418.33,134.90 428.88,134.60 436.79,134.20 447.34,134.20 455.25,132.70 465.79,131.50 473.71,131.50 484.25,130.10 492.16,127.00 502.71,126.50" fill="none" stroke="#1c1c8c" stroke-width="1.05"/><line x1="362.95" y1="156.70" x2="362.95" y2="158.70" stroke="#1c1c8c" stroke-width="1.15"/><line x1="360.95" y1="156.70" x2="364.95" y2="156.70" stroke="#1c1c8c" stroke-width="1.15"/><line x1="360.95" y1="158.70" x2="364.95" y2="158.70" stroke="#1c1c8c" stroke-width="1.15"/><line x1="373.50" y1="152.80" x2="373.50" y2="158.80" stroke="#1c1c8c" stroke-width="1.15"/><line x1="371.50" y1="152.80" x2="375.50" y2="152.80" stroke="#1c1c8c" stroke-width="1.15"/><line x1="371.50" y1="158.80" x2="375.50" y2="158.80" stroke="#1c1c8c" stroke-width="1.15"/><line x1="381.41" y1="152.40" x2="381.41" y2="158.40" stroke="#1c1c8c" stroke-width="1.15"/><line x1="379.41" y1="152.40" x2="383.41" y2="152.40" stroke="#1c1c8c" stroke-width="1.15"/><line x1="379.41" y1="158.40" x2="383.41" y2="158.40" stroke="#1c1c8c" stroke-width="1.15"/><line x1="391.96" y1="146.90" x2="391.96" y2="157.70" stroke="#1c1c8c" stroke-width="1.15"/><line x1="389.96" y1="146.90" x2="393.96" y2="146.90" stroke="#1c1c8c" stroke-width="1.15"/><line x1="389.96" y1="157.70" x2="393.96" y2="157.70" stroke="#1c1c8c" stroke-width="1.15"/><line x1="399.87" y1="141.20" x2="399.87" y2="155.80" stroke="#1c1c8c" stroke-width="1.15"/><line x1="397.87" y1="141.20" x2="401.87" y2="141.20" stroke="#1c1c8c" stroke-width="1.15"/><line x1="397.87" y1="155.80" x2="401.87" y2="155.80" stroke="#1c1c8c" stroke-width="1.15"/><line x1="410.42" y1="133.20" x2="410.42" y2="153.80" stroke="#1c1c8c" stroke-width="1.15"/><line x1="408.42" y1="133.20" x2="412.42" y2="133.20" stroke="#1c1c8c" stroke-width="1.15"/><line x1="408.42" y1="153.80" x2="412.42" y2="153.80" stroke="#1c1c8c" stroke-width="1.15"/><line x1="418.33" y1="118.00" x2="418.33" y2="151.80" stroke="#1c1c8c" stroke-width="1.15"/><line x1="416.33" y1="118.00" x2="420.33" y2="118.00" stroke="#1c1c8c" stroke-width="1.15"/><line x1="416.33" y1="151.80" x2="420.33" y2="151.80" stroke="#1c1c8c" stroke-width="1.15"/><line x1="428.88" y1="117.90" x2="428.88" y2="151.30" stroke="#1c1c8c" stroke-width="1.15"/><line x1="426.88" y1="117.90" x2="430.88" y2="117.90" stroke="#1c1c8c" stroke-width="1.15"/><line x1="426.88" y1="151.30" x2="430.88" y2="151.30" stroke="#1c1c8c" stroke-width="1.15"/><line x1="436.79" y1="117.50" x2="436.79" y2="150.90" stroke="#1c1c8c" stroke-width="1.15"/><line x1="434.79" y1="117.50" x2="438.79" y2="117.50" stroke="#1c1c8c" stroke-width="1.15"/><line x1="434.79" y1="150.90" x2="438.79" y2="150.90" stroke="#1c1c8c" stroke-width="1.15"/><line x1="447.34" y1="117.50" x2="447.34" y2="150.90" stroke="#1c1c8c" stroke-width="1.15"/><line x1="445.34" y1="117.50" x2="449.34" y2="117.50" stroke="#1c1c8c" stroke-width="1.15"/><line x1="445.34" y1="150.90" x2="449.34" y2="150.90" stroke="#1c1c8c" stroke-width="1.15"/><line x1="455.25" y1="116.00" x2="455.25" y2="149.40" stroke="#1c1c8c" stroke-width="1.15"/><line x1="453.25" y1="116.00" x2="457.25" y2="116.00" stroke="#1c1c8c" stroke-width="1.15"/><line x1="453.25" y1="149.40" x2="457.25" y2="149.40" stroke="#1c1c8c" stroke-width="1.15"/><line x1="465.79" y1="114.70" x2="465.79" y2="148.30" stroke="#1c1c8c" stroke-width="1.15"/><line x1="463.79" y1="114.70" x2="467.79" y2="114.70" stroke="#1c1c8c" stroke-width="1.15"/><line x1="463.79" y1="148.30" x2="467.79" y2="148.30" stroke="#1c1c8c" stroke-width="1.15"/><line x1="473.71" y1="114.70" x2="473.71" y2="148.30" stroke="#1c1c8c" stroke-width="1.15"/><line x1="471.71" y1="114.70" x2="475.71" y2="114.70" stroke="#1c1c8c" stroke-width="1.15"/><line x1="471.71" y1="148.30" x2="475.71" y2="148.30" stroke="#1c1c8c" stroke-width="1.15"/><line x1="484.25" y1="113.40" x2="484.25" y2="146.80" stroke="#1c1c8c" stroke-width="1.15"/><line x1="482.25" y1="113.40" x2="486.25" y2="113.40" stroke="#1c1c8c" stroke-width="1.15"/><line x1="482.25" y1="146.80" x2="486.25" y2="146.80" stroke="#1c1c8c" stroke-width="1.15"/><line x1="492.16" y1="109.60" x2="492.16" y2="144.40" stroke="#1c1c8c" stroke-width="1.15"/><line x1="490.16" y1="109.60" x2="494.16" y2="109.60" stroke="#1c1c8c" stroke-width="1.15"/><line x1="490.16" y1="144.40" x2="494.16" y2="144.40" stroke="#1c1c8c" stroke-width="1.15"/><line x1="502.71" y1="108.80" x2="502.71" y2="144.20" stroke="#1c1c8c" stroke-width="1.15"/><line x1="500.71" y1="108.80" x2="504.71" y2="108.80" stroke="#1c1c8c" stroke-width="1.15"/><line x1="500.71" y1="144.20" x2="504.71" y2="144.20" stroke="#1c1c8c" stroke-width="1.15"/><circle cx="304.94" cy="154.60" r="1.75" fill="#fff" stroke="#1c1c8c" stroke-width="1.45"/><circle cx="318.12" cy="155.60" r="1.75" fill="#fff" stroke="#1c1c8c" stroke-width="1.45"/><circle cx="326.03" cy="158.20" r="1.75" fill="#fff" stroke="#1c1c8c" stroke-width="1.45"/><circle cx="336.58" cy="159.30" r="1.75" fill="#fff" stroke="#1c1c8c" stroke-width="1.45"/><circle cx="344.49" cy="159.50" r="1.75" fill="#fff" stroke="#1c1c8c" stroke-width="1.45"/><circle cx="355.04" cy="159.50" r="1.75" fill="#fff" stroke="#1c1c8c" stroke-width="1.45"/><circle cx="362.95" cy="157.70" r="1.75" fill="#fff" stroke="#1c1c8c" stroke-width="1.45"/><circle cx="373.50" cy="155.80" r="1.75" fill="#fff" stroke="#1c1c8c" stroke-width="1.45"/><circle cx="381.41" cy="155.40" r="1.75" fill="#fff" stroke="#1c1c8c" stroke-width="1.45"/><circle cx="391.96" cy="152.30" r="1.75" fill="#fff" stroke="#1c1c8c" stroke-width="1.45"/><circle cx="399.87" cy="148.50" r="1.75" fill="#fff" stroke="#1c1c8c" stroke-width="1.45"/><circle cx="410.42" cy="143.50" r="1.75" fill="#fff" stroke="#1c1c8c" stroke-width="1.45"/><circle cx="418.33" cy="134.90" r="1.75" fill="#fff" stroke="#1c1c8c" stroke-width="1.45"/><circle cx="428.88" cy="134.60" r="1.75" fill="#fff" stroke="#1c1c8c" stroke-width="1.45"/><circle cx="436.79" cy="134.20" r="1.75" fill="#fff" stroke="#1c1c8c" stroke-width="1.45"/><circle cx="447.34" cy="134.20" r="1.75" fill="#fff" stroke="#1c1c8c" stroke-width="1.45"/><circle cx="455.25" cy="132.70" r="1.75" fill="#fff" stroke="#1c1c8c" stroke-width="1.45"/><circle cx="465.79" cy="131.50" r="1.75" fill="#fff" stroke="#1c1c8c" stroke-width="1.45"/><circle cx="473.71" cy="131.50" r="1.75" fill="#fff" stroke="#1c1c8c" stroke-width="1.45"/><circle cx="484.25" cy="130.10" r="1.75" fill="#fff" stroke="#1c1c8c" stroke-width="1.45"/><circle cx="492.16" cy="127.00" r="1.75" fill="#fff" stroke="#1c1c8c" stroke-width="1.45"/><circle cx="502.71" cy="126.50" r="1.75" fill="#fff" stroke="#1c1c8c" stroke-width="1.45"/><polyline points="304.94,154.60 318.12,154.00 326.03,153.80 336.58,153.80 344.49,146.20 355.04,138.50 362.95,131.50 373.50,117.70 381.41,109.20 391.96,103.10 399.87,98.00" fill="none" stroke="#a6bde8" stroke-width="1.05"/><line x1="344.49" y1="143.70" x2="344.49" y2="148.70" stroke="#a6bde8" stroke-width="1.15"/><line x1="342.49" y1="143.70" x2="346.49" y2="143.70" stroke="#a6bde8" stroke-width="1.15"/><line x1="342.49" y1="148.70" x2="346.49" y2="148.70" stroke="#a6bde8" stroke-width="1.15"/><line x1="355.04" y1="134.50" x2="355.04" y2="142.50" stroke="#a6bde8" stroke-width="1.15"/><line x1="353.04" y1="134.50" x2="357.04" y2="134.50" stroke="#a6bde8" stroke-width="1.15"/><line x1="353.04" y1="142.50" x2="357.04" y2="142.50" stroke="#a6bde8" stroke-width="1.15"/><line x1="362.95" y1="124.90" x2="362.95" y2="138.10" stroke="#a6bde8" stroke-width="1.15"/><line x1="360.95" y1="124.90" x2="364.95" y2="124.90" stroke="#a6bde8" stroke-width="1.15"/><line x1="360.95" y1="138.10" x2="364.95" y2="138.10" stroke="#a6bde8" stroke-width="1.15"/><line x1="373.50" y1="106.70" x2="373.50" y2="128.70" stroke="#a6bde8" stroke-width="1.15"/><line x1="371.50" y1="106.70" x2="375.50" y2="106.70" stroke="#a6bde8" stroke-width="1.15"/><line x1="371.50" y1="128.70" x2="375.50" y2="128.70" stroke="#a6bde8" stroke-width="1.15"/><line x1="381.41" y1="96.20" x2="381.41" y2="122.20" stroke="#a6bde8" stroke-width="1.15"/><line x1="379.41" y1="96.20" x2="383.41" y2="96.20" stroke="#a6bde8" stroke-width="1.15"/><line x1="379.41" y1="122.20" x2="383.41" y2="122.20" stroke="#a6bde8" stroke-width="1.15"/><line x1="391.96" y1="89.40" x2="391.96" y2="116.80" stroke="#a6bde8" stroke-width="1.15"/><line x1="389.96" y1="89.40" x2="393.96" y2="89.40" stroke="#a6bde8" stroke-width="1.15"/><line x1="389.96" y1="116.80" x2="393.96" y2="116.80" stroke="#a6bde8" stroke-width="1.15"/><line x1="399.87" y1="83.00" x2="399.87" y2="113.00" stroke="#a6bde8" stroke-width="1.15"/><line x1="397.87" y1="83.00" x2="401.87" y2="83.00" stroke="#a6bde8" stroke-width="1.15"/><line x1="397.87" y1="113.00" x2="401.87" y2="113.00" stroke="#a6bde8" stroke-width="1.15"/><polygon points="304.94,156.80 307.03,153.28 302.85,153.28" fill="#fff" stroke="#a6bde8" stroke-width="1.45" stroke-linejoin="round"/><polygon points="318.12,156.20 320.21,152.68 316.03,152.68" fill="#fff" stroke="#a6bde8" stroke-width="1.45" stroke-linejoin="round"/><polygon points="326.03,156.00 328.12,152.48 323.94,152.48" fill="#fff" stroke="#a6bde8" stroke-width="1.45" stroke-linejoin="round"/><polygon points="336.58,156.00 338.67,152.48 334.49,152.48" fill="#fff" stroke="#a6bde8" stroke-width="1.45" stroke-linejoin="round"/><polygon points="344.49,148.40 346.58,144.88 342.40,144.88" fill="#fff" stroke="#a6bde8" stroke-width="1.45" stroke-linejoin="round"/><polygon points="355.04,140.70 357.13,137.18 352.95,137.18" fill="#fff" stroke="#a6bde8" stroke-width="1.45" stroke-linejoin="round"/><polygon points="362.95,133.70 365.04,130.18 360.86,130.18" fill="#fff" stroke="#a6bde8" stroke-width="1.45" stroke-linejoin="round"/><polygon points="373.50,119.90 375.59,116.38 371.41,116.38" fill="#fff" stroke="#a6bde8" stroke-width="1.45" stroke-linejoin="round"/><polygon points="381.41,111.40 383.50,107.88 379.32,107.88" fill="#fff" stroke="#a6bde8" stroke-width="1.45" stroke-linejoin="round"/><polygon points="391.96,105.30 394.05,101.78 389.87,101.78" fill="#fff" stroke="#a6bde8" stroke-width="1.45" stroke-linejoin="round"/><polygon points="399.87,100.20 401.96,96.68 397.78,96.68" fill="#fff" stroke="#a6bde8" stroke-width="1.45" stroke-linejoin="round"/><polyline points="304.94,154.60 318.12,144.60 326.03,139.70 336.58,136.20 344.49,119.30 355.04,106.00 362.95,80.80 373.50,65.10" fill="none" stroke="#8a8a8a" stroke-width="1.05"/><line x1="344.49" y1="116.30" x2="344.49" y2="122.30" stroke="#8a8a8a" stroke-width="1.15"/><line x1="342.49" y1="116.30" x2="346.49" y2="116.30" stroke="#8a8a8a" stroke-width="1.15"/><line x1="342.49" y1="122.30" x2="346.49" y2="122.30" stroke="#8a8a8a" stroke-width="1.15"/><line x1="355.04" y1="102.50" x2="355.04" y2="109.50" stroke="#8a8a8a" stroke-width="1.15"/><line x1="353.04" y1="102.50" x2="357.04" y2="102.50" stroke="#8a8a8a" stroke-width="1.15"/><line x1="353.04" y1="109.50" x2="357.04" y2="109.50" stroke="#8a8a8a" stroke-width="1.15"/><line x1="362.95" y1="76.80" x2="362.95" y2="84.80" stroke="#8a8a8a" stroke-width="1.15"/><line x1="360.95" y1="76.80" x2="364.95" y2="76.80" stroke="#8a8a8a" stroke-width="1.15"/><line x1="360.95" y1="84.80" x2="364.95" y2="84.80" stroke="#8a8a8a" stroke-width="1.15"/><line x1="373.50" y1="61.60" x2="373.50" y2="68.60" stroke="#8a8a8a" stroke-width="1.15"/><line x1="371.50" y1="61.60" x2="375.50" y2="61.60" stroke="#8a8a8a" stroke-width="1.15"/><line x1="371.50" y1="68.60" x2="375.50" y2="68.60" stroke="#8a8a8a" stroke-width="1.15"/><rect x="303.19" y="152.85" width="3.50" height="3.50" fill="#fff" stroke="#8a8a8a" stroke-width="1.45"/><rect x="316.37" y="142.85" width="3.50" height="3.50" fill="#fff" stroke="#8a8a8a" stroke-width="1.45"/><rect x="324.28" y="137.95" width="3.50" height="3.50" fill="#fff" stroke="#8a8a8a" stroke-width="1.45"/><rect x="334.83" y="134.45" width="3.50" height="3.50" fill="#fff" stroke="#8a8a8a" stroke-width="1.45"/><rect x="342.74" y="117.55" width="3.50" height="3.50" fill="#fff" stroke="#8a8a8a" stroke-width="1.45"/><rect x="353.29" y="104.25" width="3.50" height="3.50" fill="#fff" stroke="#8a8a8a" stroke-width="1.45"/><rect x="361.20" y="79.05" width="3.50" height="3.50" fill="#fff" stroke="#8a8a8a" stroke-width="1.45"/><rect x="371.75" y="63.35" width="3.50" height="3.50" fill="#fff" stroke="#8a8a8a" stroke-width="1.45"/><polyline points="304.94,154.60 318.12,155.40 326.03,158.90 336.58,160.00 344.49,160.60 355.04,160.60 362.95,160.60 373.50,160.60 381.41,160.60 391.96,160.60 399.87,160.60 410.42,160.60 418.33,160.60 428.88,160.60 436.79,160.60 447.34,160.60 455.25,160.60 465.79,160.60 473.71,160.60 484.25,160.60 492.16,160.60 502.71,160.60" fill="none" stroke="#22b02a" stroke-width="1.2"/><polygon points="304.94,152.40 307.03,155.92 302.85,155.92" fill="#44c844" stroke="#22b02a" stroke-width="1.45" stroke-linejoin="round"/><polygon points="318.12,153.20 320.21,156.72 316.03,156.72" fill="#44c844" stroke="#22b02a" stroke-width="1.45" stroke-linejoin="round"/><polygon points="326.03,156.70 328.12,160.22 323.94,160.22" fill="#44c844" stroke="#22b02a" stroke-width="1.45" stroke-linejoin="round"/><polygon points="336.58,157.80 338.67,161.32 334.49,161.32" fill="#44c844" stroke="#22b02a" stroke-width="1.45" stroke-linejoin="round"/><polygon points="344.49,158.40 346.58,161.92 342.40,161.92" fill="#44c844" stroke="#22b02a" stroke-width="1.45" stroke-linejoin="round"/><polygon points="355.04,158.40 357.13,161.92 352.95,161.92" fill="#44c844" stroke="#22b02a" stroke-width="1.45" stroke-linejoin="round"/><polygon points="362.95,158.40 365.04,161.92 360.86,161.92" fill="#44c844" stroke="#22b02a" stroke-width="1.45" stroke-linejoin="round"/><polygon points="373.50,158.40 375.59,161.92 371.41,161.92" fill="#44c844" stroke="#22b02a" stroke-width="1.45" stroke-linejoin="round"/><polygon points="381.41,158.40 383.50,161.92 379.32,161.92" fill="#44c844" stroke="#22b02a" stroke-width="1.45" stroke-linejoin="round"/><polygon points="391.96,158.40 394.05,161.92 389.87,161.92" fill="#44c844" stroke="#22b02a" stroke-width="1.45" stroke-linejoin="round"/><polygon points="399.87,158.40 401.96,161.92 397.78,161.92" fill="#44c844" stroke="#22b02a" stroke-width="1.45" stroke-linejoin="round"/><polygon points="410.42,158.40 412.51,161.92 408.33,161.92" fill="#44c844" stroke="#22b02a" stroke-width="1.45" stroke-linejoin="round"/><polygon points="418.33,158.40 420.42,161.92 416.24,161.92" fill="#44c844" stroke="#22b02a" stroke-width="1.45" stroke-linejoin="round"/><polygon points="428.88,158.40 430.97,161.92 426.79,161.92" fill="#44c844" stroke="#22b02a" stroke-width="1.45" stroke-linejoin="round"/><polygon points="436.79,158.40 438.88,161.92 434.70,161.92" fill="#44c844" stroke="#22b02a" stroke-width="1.45" stroke-linejoin="round"/><polygon points="447.34,158.40 449.43,161.92 445.25,161.92" fill="#44c844" stroke="#22b02a" stroke-width="1.45" stroke-linejoin="round"/><polygon points="455.25,158.40 457.34,161.92 453.16,161.92" fill="#44c844" stroke="#22b02a" stroke-width="1.45" stroke-linejoin="round"/><polygon points="465.79,158.40 467.88,161.92 463.70,161.92" fill="#44c844" stroke="#22b02a" stroke-width="1.45" stroke-linejoin="round"/><polygon points="473.71,158.40 475.80,161.92 471.62,161.92" fill="#44c844" stroke="#22b02a" stroke-width="1.45" stroke-linejoin="round"/><polygon points="484.25,158.40 486.34,161.92 482.16,161.92" fill="#44c844" stroke="#22b02a" stroke-width="1.45" stroke-linejoin="round"/><polygon points="492.16,158.40 494.25,161.92 490.07,161.92" fill="#44c844" stroke="#22b02a" stroke-width="1.45" stroke-linejoin="round"/><polygon points="502.71,158.40 504.80,161.92 500.62,161.92" fill="#44c844" stroke="#22b02a" stroke-width="1.45" stroke-linejoin="round"/><polyline points="304.94,154.60 318.12,144.60 326.03,139.70 336.58,136.20 344.49,108.30 355.04,95.00 362.95,67.50 373.50,40.70" fill="none" stroke="#111" stroke-width="1.0" stroke-dasharray="1.6,1.2"/><line x1="344.49" y1="103.60" x2="344.49" y2="113.00" stroke="#111" stroke-width="1.15"/><line x1="342.49" y1="103.60" x2="346.49" y2="103.60" stroke="#111" stroke-width="1.15"/><line x1="342.49" y1="113.00" x2="346.49" y2="113.00" stroke="#111" stroke-width="1.15"/><line x1="355.04" y1="91.30" x2="355.04" y2="98.70" stroke="#111" stroke-width="1.15"/><line x1="353.04" y1="91.30" x2="357.04" y2="91.30" stroke="#111" stroke-width="1.15"/><line x1="353.04" y1="98.70" x2="357.04" y2="98.70" stroke="#111" stroke-width="1.15"/><line x1="362.95" y1="61.60" x2="362.95" y2="73.40" stroke="#111" stroke-width="1.15"/><line x1="360.95" y1="61.60" x2="364.95" y2="61.60" stroke="#111" stroke-width="1.15"/><line x1="360.95" y1="73.40" x2="364.95" y2="73.40" stroke="#111" stroke-width="1.15"/><line x1="373.50" y1="34.80" x2="373.50" y2="46.60" stroke="#111" stroke-width="1.15"/><line x1="371.50" y1="34.80" x2="375.50" y2="34.80" stroke="#111" stroke-width="1.15"/><line x1="371.50" y1="46.60" x2="375.50" y2="46.60" stroke="#111" stroke-width="1.15"/><circle cx="304.94" cy="154.60" r="1.75" fill="#fff" stroke="#111" stroke-width="1.45"/><circle cx="318.12" cy="144.60" r="1.75" fill="#fff" stroke="#111" stroke-width="1.45"/><circle cx="326.03" cy="139.70" r="1.75" fill="#fff" stroke="#111" stroke-width="1.45"/><circle cx="336.58" cy="136.20" r="1.75" fill="#fff" stroke="#111" stroke-width="1.45"/><circle cx="344.49" cy="108.30" r="1.75" fill="#fff" stroke="#111" stroke-width="1.45"/><circle cx="355.04" cy="95.00" r="1.75" fill="#fff" stroke="#111" stroke-width="1.45"/><circle cx="362.95" cy="67.50" r="1.75" fill="#fff" stroke="#111" stroke-width="1.45"/><circle cx="373.50" cy="40.70" r="1.75" fill="#fff" stroke="#111" stroke-width="1.45"/><line x1="402.40" y1="6.10" x2="411.90" y2="6.10" stroke="#111" stroke-width="0.9" stroke-dasharray="1.6,1.2"/><circle cx="407.20" cy="6.10" r="1.89" fill="#fff" stroke="#111" stroke-width="1.45"/><text transform="translate(416.90 8.60) scale(0.926 1)" font-size="6.48">PBS, qd × 1</text><line x1="402.40" y1="16.10" x2="411.90" y2="16.10" stroke="#8a8a8a" stroke-width="0.9"/><rect x="405.31" y="14.21" width="3.78" height="3.78" fill="#fff" stroke="#8a8a8a" stroke-width="1.45"/><text transform="translate(416.90 18.60) scale(0.926 1)" font-size="6.48">Nonbinding ADC, 0.5 mg/kg, qd × 1</text><line x1="402.40" y1="25.00" x2="411.90" y2="25.00" stroke="#a6bde8" stroke-width="0.9"/><polygon points="407.20,27.38 409.46,23.57 404.94,23.57" fill="#fff" stroke="#a6bde8" stroke-width="1.45" stroke-linejoin="round"/><text transform="translate(416.90 27.50) scale(0.926 1)" font-size="6.48">Adcetris, 0.5 mg/kg, qd × 1</text><line x1="402.40" y1="35.00" x2="411.90" y2="35.00" stroke="#1c1c8c" stroke-width="0.9"/><circle cx="407.20" cy="35.00" r="1.89" fill="#fff" stroke="#1c1c8c" stroke-width="1.45"/><text transform="translate(416.90 37.50) scale(0.926 1)" font-size="6.48">Adcetris, 0.5 mg/kg, q4d × 4</text><line x1="402.40" y1="42.80" x2="411.90" y2="42.80" stroke="#22b02a" stroke-width="0.9"/><polygon points="407.20,40.42 409.46,44.23 404.94,44.23" fill="#44c844" stroke="#22b02a" stroke-width="1.45" stroke-linejoin="round"/><text transform="translate(416.90 45.30) scale(0.926 1)" font-size="6.48">ADCT-301, 0.5 mg/kg, qd × 1</text></g><g><text transform="translate(5.60 220.00) scale(0.935 1)" font-size="14.55">C</text><line x1="40.50" y1="220.40" x2="40.50" y2="357.00" stroke="#000" stroke-width="1.0"/><line x1="37.50" y1="356.90" x2="40.50" y2="356.90" stroke="#000" stroke-width="1.0"/><text transform="translate(36.60 359.35) scale(0.833 1)" font-size="7.44" text-anchor="end">0</text><line x1="37.50" y1="334.22" x2="40.50" y2="334.22" stroke="#000" stroke-width="1.0"/><text transform="translate(36.60 336.67) scale(0.833 1)" font-size="7.44" text-anchor="end">500</text><line x1="37.50" y1="311.53" x2="40.50" y2="311.53" stroke="#000" stroke-width="1.0"/><text transform="translate(36.60 313.98) scale(0.833 1)" font-size="7.44" text-anchor="end">1,000</text><line x1="37.50" y1="288.85" x2="40.50" y2="288.85" stroke="#000" stroke-width="1.0"/><text transform="translate(36.60 291.30) scale(0.833 1)" font-size="7.44" text-anchor="end">1,500</text><line x1="37.50" y1="266.17" x2="40.50" y2="266.17" stroke="#000" stroke-width="1.0"/><text transform="translate(36.60 268.62) scale(0.833 1)" font-size="7.44" text-anchor="end">2,000</text><line x1="37.50" y1="243.48" x2="40.50" y2="243.48" stroke="#000" stroke-width="1.0"/><text transform="translate(36.60 245.93) scale(0.833 1)" font-size="7.44" text-anchor="end">2,500</text><line x1="37.50" y1="220.80" x2="40.50" y2="220.80" stroke="#000" stroke-width="1.0"/><text transform="translate(36.60 223.25) scale(0.833 1)" font-size="7.44" text-anchor="end">3,000</text><line x1="40.00" y1="356.50" x2="245.00" y2="356.50" stroke="#000" stroke-width="1.0"/><line x1="40.50" y1="356.50" x2="40.50" y2="358.50" stroke="#000" stroke-width="1.0"/><text transform="translate(40.50 366.80) scale(0.833 1)" font-size="7.44" text-anchor="middle">0</text><line x1="53.23" y1="356.50" x2="53.23" y2="358.50" stroke="#000" stroke-width="1.0"/><text transform="translate(53.23 366.80) scale(0.833 1)" font-size="7.44" text-anchor="middle">5</text><line x1="65.95" y1="356.50" x2="65.95" y2="358.50" stroke="#000" stroke-width="1.0"/><text transform="translate(65.95 366.80) scale(0.833 1)" font-size="7.44" text-anchor="middle">10</text><line x1="78.67" y1="356.50" x2="78.67" y2="358.50" stroke="#000" stroke-width="1.0"/><text transform="translate(78.67 366.80) scale(0.833 1)" font-size="7.44" text-anchor="middle">15</text><line x1="91.40" y1="356.50" x2="91.40" y2="358.50" stroke="#000" stroke-width="1.0"/><text transform="translate(91.40 366.80) scale(0.833 1)" font-size="7.44" text-anchor="middle">20</text><line x1="104.12" y1="356.50" x2="104.12" y2="358.50" stroke="#000" stroke-width="1.0"/><text transform="translate(104.12 366.80) scale(0.833 1)" font-size="7.44" text-anchor="middle">25</text><line x1="116.85" y1="356.50" x2="116.85" y2="358.50" stroke="#000" stroke-width="1.0"/><text transform="translate(116.85 366.80) scale(0.833 1)" font-size="7.44" text-anchor="middle">30</text><line x1="129.57" y1="356.50" x2="129.57" y2="358.50" stroke="#000" stroke-width="1.0"/><text transform="translate(129.57 366.80) scale(0.833 1)" font-size="7.44" text-anchor="middle">35</text><line x1="142.30" y1="356.50" x2="142.30" y2="358.50" stroke="#000" stroke-width="1.0"/><text transform="translate(142.30 366.80) scale(0.833 1)" font-size="7.44" text-anchor="middle">40</text><line x1="155.02" y1="356.50" x2="155.02" y2="358.50" stroke="#000" stroke-width="1.0"/><text transform="translate(155.02 366.80) scale(0.833 1)" font-size="7.44" text-anchor="middle">45</text><line x1="167.75" y1="356.50" x2="167.75" y2="358.50" stroke="#000" stroke-width="1.0"/><text transform="translate(167.75 366.80) scale(0.833 1)" font-size="7.44" text-anchor="middle">50</text><line x1="180.47" y1="356.50" x2="180.47" y2="358.50" stroke="#000" stroke-width="1.0"/><text transform="translate(180.47 366.80) scale(0.833 1)" font-size="7.44" text-anchor="middle">55</text><line x1="193.20" y1="356.50" x2="193.20" y2="358.50" stroke="#000" stroke-width="1.0"/><text transform="translate(193.20 366.80) scale(0.833 1)" font-size="7.44" text-anchor="middle">60</text><line x1="205.92" y1="356.50" x2="205.92" y2="358.50" stroke="#000" stroke-width="1.0"/><text transform="translate(205.92 366.80) scale(0.833 1)" font-size="7.44" text-anchor="middle">65</text><line x1="218.65" y1="356.50" x2="218.65" y2="358.50" stroke="#000" stroke-width="1.0"/><text transform="translate(218.65 366.80) scale(0.833 1)" font-size="7.44" text-anchor="middle">70</text><line x1="231.38" y1="356.50" x2="231.38" y2="358.50" stroke="#000" stroke-width="1.0"/><text transform="translate(231.38 366.80) scale(0.833 1)" font-size="7.44" text-anchor="middle">75</text><line x1="244.10" y1="356.50" x2="244.10" y2="358.50" stroke="#000" stroke-width="1.0"/><text transform="translate(244.10 366.80) scale(0.833 1)" font-size="7.44" text-anchor="middle">80</text><text transform="translate(142.70 383.00) scale(0.870 1)" font-size="8.80" text-anchor="middle">Duration of study (days)</text><text transform="translate(10.60 287.50) rotate(-90) scale(0.870 1)" font-size="8.80" text-anchor="middle">Mean tumor volume (mm<tspan font-size="5.2" dy="-3.0">3</tspan><tspan dy="3.0">) ± SEM</tspan></text><polyline points="43.05,347.40 50.68,348.10 60.86,353.00 68.50,354.70 78.67,355.20 86.31,354.70 96.49,354.70 104.12,353.80 114.30,352.10 121.94,350.30 132.12,348.60 139.75,348.40 149.94,348.20 157.57,347.00 167.75,345.20 175.38,342.40 185.56,341.90 193.20,339.60 205.92,336.60 211.01,336.60 221.19,336.60 228.83,336.60" fill="none" stroke="#666666" stroke-width="1.05"/><line x1="114.30" y1="350.10" x2="114.30" y2="354.10" stroke="#666666" stroke-width="1.15"/><line x1="112.30" y1="350.10" x2="116.30" y2="350.10" stroke="#666666" stroke-width="1.15"/><line x1="112.30" y1="354.10" x2="116.30" y2="354.10" stroke="#666666" stroke-width="1.15"/><line x1="121.94" y1="346.80" x2="121.94" y2="353.80" stroke="#666666" stroke-width="1.15"/><line x1="119.94" y1="346.80" x2="123.94" y2="346.80" stroke="#666666" stroke-width="1.15"/><line x1="119.94" y1="353.80" x2="123.94" y2="353.80" stroke="#666666" stroke-width="1.15"/><line x1="132.12" y1="343.40" x2="132.12" y2="353.80" stroke="#666666" stroke-width="1.15"/><line x1="130.12" y1="343.40" x2="134.12" y2="343.40" stroke="#666666" stroke-width="1.15"/><line x1="130.12" y1="353.80" x2="134.12" y2="353.80" stroke="#666666" stroke-width="1.15"/><line x1="139.75" y1="343.20" x2="139.75" y2="353.60" stroke="#666666" stroke-width="1.15"/><line x1="137.75" y1="343.20" x2="141.75" y2="343.20" stroke="#666666" stroke-width="1.15"/><line x1="137.75" y1="353.60" x2="141.75" y2="353.60" stroke="#666666" stroke-width="1.15"/><line x1="149.94" y1="342.40" x2="149.94" y2="354.00" stroke="#666666" stroke-width="1.15"/><line x1="147.94" y1="342.40" x2="151.94" y2="342.40" stroke="#666666" stroke-width="1.15"/><line x1="147.94" y1="354.00" x2="151.94" y2="354.00" stroke="#666666" stroke-width="1.15"/><line x1="157.57" y1="340.80" x2="157.57" y2="353.20" stroke="#666666" stroke-width="1.15"/><line x1="155.57" y1="340.80" x2="159.57" y2="340.80" stroke="#666666" stroke-width="1.15"/><line x1="155.57" y1="353.20" x2="159.57" y2="353.20" stroke="#666666" stroke-width="1.15"/><line x1="167.75" y1="337.90" x2="167.75" y2="352.50" stroke="#666666" stroke-width="1.15"/><line x1="165.75" y1="337.90" x2="169.75" y2="337.90" stroke="#666666" stroke-width="1.15"/><line x1="165.75" y1="352.50" x2="169.75" y2="352.50" stroke="#666666" stroke-width="1.15"/><line x1="175.38" y1="333.40" x2="175.38" y2="351.40" stroke="#666666" stroke-width="1.15"/><line x1="173.38" y1="333.40" x2="177.38" y2="333.40" stroke="#666666" stroke-width="1.15"/><line x1="173.38" y1="351.40" x2="177.38" y2="351.40" stroke="#666666" stroke-width="1.15"/><line x1="185.56" y1="332.80" x2="185.56" y2="351.00" stroke="#666666" stroke-width="1.15"/><line x1="183.56" y1="332.80" x2="187.56" y2="332.80" stroke="#666666" stroke-width="1.15"/><line x1="183.56" y1="351.00" x2="187.56" y2="351.00" stroke="#666666" stroke-width="1.15"/><line x1="193.20" y1="329.00" x2="193.20" y2="350.20" stroke="#666666" stroke-width="1.15"/><line x1="191.20" y1="329.00" x2="195.20" y2="329.00" stroke="#666666" stroke-width="1.15"/><line x1="191.20" y1="350.20" x2="195.20" y2="350.20" stroke="#666666" stroke-width="1.15"/><line x1="205.92" y1="322.90" x2="205.92" y2="350.30" stroke="#666666" stroke-width="1.15"/><line x1="203.92" y1="322.90" x2="207.92" y2="322.90" stroke="#666666" stroke-width="1.15"/><line x1="203.92" y1="350.30" x2="207.92" y2="350.30" stroke="#666666" stroke-width="1.15"/><line x1="211.01" y1="322.90" x2="211.01" y2="350.30" stroke="#666666" stroke-width="1.15"/><line x1="209.01" y1="322.90" x2="213.01" y2="322.90" stroke="#666666" stroke-width="1.15"/><line x1="209.01" y1="350.30" x2="213.01" y2="350.30" stroke="#666666" stroke-width="1.15"/><line x1="221.19" y1="322.90" x2="221.19" y2="350.30" stroke="#666666" stroke-width="1.15"/><line x1="219.19" y1="322.90" x2="223.19" y2="322.90" stroke="#666666" stroke-width="1.15"/><line x1="219.19" y1="350.30" x2="223.19" y2="350.30" stroke="#666666" stroke-width="1.15"/><line x1="228.83" y1="322.90" x2="228.83" y2="350.30" stroke="#666666" stroke-width="1.15"/><line x1="226.83" y1="322.90" x2="230.83" y2="322.90" stroke="#666666" stroke-width="1.15"/><line x1="226.83" y1="350.30" x2="230.83" y2="350.30" stroke="#666666" stroke-width="1.15"/><polygon points="43.05,345.30 45.15,347.40 43.05,349.50 40.95,347.40" fill="#fff" stroke="#666666" stroke-width="1.45" stroke-linejoin="round"/><polygon points="50.68,346.00 52.78,348.10 50.68,350.20 48.58,348.10" fill="#fff" stroke="#666666" stroke-width="1.45" stroke-linejoin="round"/><polygon points="60.86,350.90 62.96,353.00 60.86,355.10 58.76,353.00" fill="#fff" stroke="#666666" stroke-width="1.45" stroke-linejoin="round"/><polygon points="68.50,352.60 70.59,354.70 68.50,356.80 66.40,354.70" fill="#fff" stroke="#666666" stroke-width="1.45" stroke-linejoin="round"/><polygon points="78.67,353.10 80.77,355.20 78.67,357.30 76.58,355.20" fill="#fff" stroke="#666666" stroke-width="1.45" stroke-linejoin="round"/><polygon points="86.31,352.60 88.41,354.70 86.31,356.80 84.21,354.70" fill="#fff" stroke="#666666" stroke-width="1.45" stroke-linejoin="round"/><polygon points="96.49,352.60 98.59,354.70 96.49,356.80 94.39,354.70" fill="#fff" stroke="#666666" stroke-width="1.45" stroke-linejoin="round"/><polygon points="104.12,351.70 106.22,353.80 104.12,355.90 102.03,353.80" fill="#fff" stroke="#666666" stroke-width="1.45" stroke-linejoin="round"/><polygon points="114.30,350.00 116.40,352.10 114.30,354.20 112.20,352.10" fill="#fff" stroke="#666666" stroke-width="1.45" stroke-linejoin="round"/><polygon points="121.94,348.20 124.04,350.30 121.94,352.40 119.84,350.30" fill="#fff" stroke="#666666" stroke-width="1.45" stroke-linejoin="round"/><polygon points="132.12,346.50 134.22,348.60 132.12,350.70 130.02,348.60" fill="#fff" stroke="#666666" stroke-width="1.45" stroke-linejoin="round"/><polygon points="139.75,346.30 141.85,348.40 139.75,350.50 137.66,348.40" fill="#fff" stroke="#666666" stroke-width="1.45" stroke-linejoin="round"/><polygon points="149.94,346.10 152.03,348.20 149.94,350.30 147.84,348.20" fill="#fff" stroke="#666666" stroke-width="1.45" stroke-linejoin="round"/><polygon points="157.57,344.90 159.67,347.00 157.57,349.10 155.47,347.00" fill="#fff" stroke="#666666" stroke-width="1.45" stroke-linejoin="round"/><polygon points="167.75,343.10 169.85,345.20 167.75,347.30 165.65,345.20" fill="#fff" stroke="#666666" stroke-width="1.45" stroke-linejoin="round"/><polygon points="175.38,340.30 177.48,342.40 175.38,344.50 173.28,342.40" fill="#fff" stroke="#666666" stroke-width="1.45" stroke-linejoin="round"/><polygon points="185.56,339.80 187.66,341.90 185.56,344.00 183.47,341.90" fill="#fff" stroke="#666666" stroke-width="1.45" stroke-linejoin="round"/><polygon points="193.20,337.50 195.30,339.60 193.20,341.70 191.10,339.60" fill="#fff" stroke="#666666" stroke-width="1.45" stroke-linejoin="round"/><polygon points="205.92,334.50 208.02,336.60 205.92,338.70 203.82,336.60" fill="#fff" stroke="#666666" stroke-width="1.45" stroke-linejoin="round"/><polygon points="211.01,334.50 213.11,336.60 211.01,338.70 208.91,336.60" fill="#fff" stroke="#666666" stroke-width="1.45" stroke-linejoin="round"/><polygon points="221.19,334.50 223.29,336.60 221.19,338.70 219.09,336.60" fill="#fff" stroke="#666666" stroke-width="1.45" stroke-linejoin="round"/><polygon points="228.83,334.50 230.93,336.60 228.83,338.70 226.73,336.60" fill="#fff" stroke="#666666" stroke-width="1.45" stroke-linejoin="round"/><polyline points="43.05,347.40 50.68,348.10 60.86,344.30 68.50,339.60 78.67,335.10 86.31,333.00 96.49,327.00 104.12,320.90 114.30,310.20 121.94,308.80 132.12,305.70 139.75,304.40 149.94,300.30 157.57,296.20 167.75,294.30 175.38,293.40 185.56,291.60 193.20,290.40 205.92,288.80 211.01,286.50 221.19,284.60 228.83,282.30" fill="none" stroke="#b83c26" stroke-width="1.05"/><line x1="50.68" y1="346.60" x2="50.68" y2="349.60" stroke="#b83c26" stroke-width="1.15"/><line x1="48.68" y1="346.60" x2="52.68" y2="346.60" stroke="#b83c26" stroke-width="1.15"/><line x1="48.68" y1="349.60" x2="52.68" y2="349.60" stroke="#b83c26" stroke-width="1.15"/><line x1="60.86" y1="341.60" x2="60.86" y2="347.00" stroke="#b83c26" stroke-width="1.15"/><line x1="58.86" y1="341.60" x2="62.86" y2="341.60" stroke="#b83c26" stroke-width="1.15"/><line x1="58.86" y1="347.00" x2="62.86" y2="347.00" stroke="#b83c26" stroke-width="1.15"/><line x1="68.50" y1="335.70" x2="68.50" y2="343.50" stroke="#b83c26" stroke-width="1.15"/><line x1="66.50" y1="335.70" x2="70.50" y2="335.70" stroke="#b83c26" stroke-width="1.15"/><line x1="66.50" y1="343.50" x2="70.50" y2="343.50" stroke="#b83c26" stroke-width="1.15"/><line x1="78.67" y1="329.90" x2="78.67" y2="340.30" stroke="#b83c26" stroke-width="1.15"/><line x1="76.67" y1="329.90" x2="80.67" y2="329.90" stroke="#b83c26" stroke-width="1.15"/><line x1="76.67" y1="340.30" x2="80.67" y2="340.30" stroke="#b83c26" stroke-width="1.15"/><line x1="86.31" y1="325.60" x2="86.31" y2="340.40" stroke="#b83c26" stroke-width="1.15"/><line x1="84.31" y1="325.60" x2="88.31" y2="325.60" stroke="#b83c26" stroke-width="1.15"/><line x1="84.31" y1="340.40" x2="88.31" y2="340.40" stroke="#b83c26" stroke-width="1.15"/><line x1="96.49" y1="316.70" x2="96.49" y2="337.30" stroke="#b83c26" stroke-width="1.15"/><line x1="94.49" y1="316.70" x2="98.49" y2="316.70" stroke="#b83c26" stroke-width="1.15"/><line x1="94.49" y1="337.30" x2="98.49" y2="337.30" stroke="#b83c26" stroke-width="1.15"/><line x1="104.12" y1="308.20" x2="104.12" y2="333.60" stroke="#b83c26" stroke-width="1.15"/><line x1="102.12" y1="308.20" x2="106.12" y2="308.20" stroke="#b83c26" stroke-width="1.15"/><line x1="102.12" y1="333.60" x2="106.12" y2="333.60" stroke="#b83c26" stroke-width="1.15"/><line x1="114.30" y1="293.30" x2="114.30" y2="327.10" stroke="#b83c26" stroke-width="1.15"/><line x1="112.30" y1="293.30" x2="116.30" y2="293.30" stroke="#b83c26" stroke-width="1.15"/><line x1="112.30" y1="327.10" x2="116.30" y2="327.10" stroke="#b83c26" stroke-width="1.15"/><line x1="121.94" y1="291.10" x2="121.94" y2="326.50" stroke="#b83c26" stroke-width="1.15"/><line x1="119.94" y1="291.10" x2="123.94" y2="291.10" stroke="#b83c26" stroke-width="1.15"/><line x1="119.94" y1="326.50" x2="123.94" y2="326.50" stroke="#b83c26" stroke-width="1.15"/><line x1="132.12" y1="288.70" x2="132.12" y2="322.70" stroke="#b83c26" stroke-width="1.15"/><line x1="130.12" y1="288.70" x2="134.12" y2="288.70" stroke="#b83c26" stroke-width="1.15"/><line x1="130.12" y1="322.70" x2="134.12" y2="322.70" stroke="#b83c26" stroke-width="1.15"/><line x1="139.75" y1="287.60" x2="139.75" y2="321.20" stroke="#b83c26" stroke-width="1.15"/><line x1="137.75" y1="287.60" x2="141.75" y2="287.60" stroke="#b83c26" stroke-width="1.15"/><line x1="137.75" y1="321.20" x2="141.75" y2="321.20" stroke="#b83c26" stroke-width="1.15"/><line x1="149.94" y1="283.20" x2="149.94" y2="317.40" stroke="#b83c26" stroke-width="1.15"/><line x1="147.94" y1="283.20" x2="151.94" y2="283.20" stroke="#b83c26" stroke-width="1.15"/><line x1="147.94" y1="317.40" x2="151.94" y2="317.40" stroke="#b83c26" stroke-width="1.15"/><line x1="157.57" y1="278.50" x2="157.57" y2="313.90" stroke="#b83c26" stroke-width="1.15"/><line x1="155.57" y1="278.50" x2="159.57" y2="278.50" stroke="#b83c26" stroke-width="1.15"/><line x1="155.57" y1="313.90" x2="159.57" y2="313.90" stroke="#b83c26" stroke-width="1.15"/><line x1="167.75" y1="277.00" x2="167.75" y2="311.60" stroke="#b83c26" stroke-width="1.15"/><line x1="165.75" y1="277.00" x2="169.75" y2="277.00" stroke="#b83c26" stroke-width="1.15"/><line x1="165.75" y1="311.60" x2="169.75" y2="311.60" stroke="#b83c26" stroke-width="1.15"/><line x1="175.38" y1="276.40" x2="175.38" y2="310.40" stroke="#b83c26" stroke-width="1.15"/><line x1="173.38" y1="276.40" x2="177.38" y2="276.40" stroke="#b83c26" stroke-width="1.15"/><line x1="173.38" y1="310.40" x2="177.38" y2="310.40" stroke="#b83c26" stroke-width="1.15"/><line x1="185.56" y1="274.60" x2="185.56" y2="308.60" stroke="#b83c26" stroke-width="1.15"/><line x1="183.56" y1="274.60" x2="187.56" y2="274.60" stroke="#b83c26" stroke-width="1.15"/><line x1="183.56" y1="308.60" x2="187.56" y2="308.60" stroke="#b83c26" stroke-width="1.15"/><line x1="193.20" y1="273.60" x2="193.20" y2="307.20" stroke="#b83c26" stroke-width="1.15"/><line x1="191.20" y1="273.60" x2="195.20" y2="273.60" stroke="#b83c26" stroke-width="1.15"/><line x1="191.20" y1="307.20" x2="195.20" y2="307.20" stroke="#b83c26" stroke-width="1.15"/><line x1="205.92" y1="272.10" x2="205.92" y2="305.50" stroke="#b83c26" stroke-width="1.15"/><line x1="203.92" y1="272.10" x2="207.92" y2="272.10" stroke="#b83c26" stroke-width="1.15"/><line x1="203.92" y1="305.50" x2="207.92" y2="305.50" stroke="#b83c26" stroke-width="1.15"/><line x1="211.01" y1="269.80" x2="211.01" y2="303.20" stroke="#b83c26" stroke-width="1.15"/><line x1="209.01" y1="269.80" x2="213.01" y2="269.80" stroke="#b83c26" stroke-width="1.15"/><line x1="209.01" y1="303.20" x2="213.01" y2="303.20" stroke="#b83c26" stroke-width="1.15"/><line x1="221.19" y1="267.90" x2="221.19" y2="301.30" stroke="#b83c26" stroke-width="1.15"/><line x1="219.19" y1="267.90" x2="223.19" y2="267.90" stroke="#b83c26" stroke-width="1.15"/><line x1="219.19" y1="301.30" x2="223.19" y2="301.30" stroke="#b83c26" stroke-width="1.15"/><line x1="228.83" y1="265.80" x2="228.83" y2="298.80" stroke="#b83c26" stroke-width="1.15"/><line x1="226.83" y1="265.80" x2="230.83" y2="265.80" stroke="#b83c26" stroke-width="1.15"/><line x1="226.83" y1="298.80" x2="230.83" y2="298.80" stroke="#b83c26" stroke-width="1.15"/><polygon points="43.05,349.60 45.14,346.08 40.95,346.08" fill="#fff" stroke="#b83c26" stroke-width="1.45" stroke-linejoin="round"/><polygon points="50.68,350.30 52.77,346.78 48.59,346.78" fill="#fff" stroke="#b83c26" stroke-width="1.45" stroke-linejoin="round"/><polygon points="60.86,346.50 62.95,342.98 58.77,342.98" fill="#fff" stroke="#b83c26" stroke-width="1.45" stroke-linejoin="round"/><polygon points="68.50,341.80 70.59,338.28 66.41,338.28" fill="#fff" stroke="#b83c26" stroke-width="1.45" stroke-linejoin="round"/><polygon points="78.67,337.30 80.77,333.78 76.58,333.78" fill="#fff" stroke="#b83c26" stroke-width="1.45" stroke-linejoin="round"/><polygon points="86.31,335.20 88.40,331.68 84.22,331.68" fill="#fff" stroke="#b83c26" stroke-width="1.45" stroke-linejoin="round"/><polygon points="96.49,329.20 98.58,325.68 94.40,325.68" fill="#fff" stroke="#b83c26" stroke-width="1.45" stroke-linejoin="round"/><polygon points="104.12,323.10 106.22,319.58 102.03,319.58" fill="#fff" stroke="#b83c26" stroke-width="1.45" stroke-linejoin="round"/><polygon points="114.30,312.40 116.39,308.88 112.21,308.88" fill="#fff" stroke="#b83c26" stroke-width="1.45" stroke-linejoin="round"/><polygon points="121.94,311.00 124.03,307.48 119.85,307.48" fill="#fff" stroke="#b83c26" stroke-width="1.45" stroke-linejoin="round"/><polygon points="132.12,307.90 134.21,304.38 130.03,304.38" fill="#fff" stroke="#b83c26" stroke-width="1.45" stroke-linejoin="round"/><polygon points="139.75,306.60 141.84,303.08 137.66,303.08" fill="#fff" stroke="#b83c26" stroke-width="1.45" stroke-linejoin="round"/><polygon points="149.94,302.50 152.03,298.98 147.84,298.98" fill="#fff" stroke="#b83c26" stroke-width="1.45" stroke-linejoin="round"/><polygon points="157.57,298.40 159.66,294.88 155.48,294.88" fill="#fff" stroke="#b83c26" stroke-width="1.45" stroke-linejoin="round"/><polygon points="167.75,296.50 169.84,292.98 165.66,292.98" fill="#fff" stroke="#b83c26" stroke-width="1.45" stroke-linejoin="round"/><polygon points="175.38,295.60 177.47,292.08 173.29,292.08" fill="#fff" stroke="#b83c26" stroke-width="1.45" stroke-linejoin="round"/><polygon points="185.56,293.80 187.66,290.28 183.47,290.28" fill="#fff" stroke="#b83c26" stroke-width="1.45" stroke-linejoin="round"/><polygon points="193.20,292.60 195.29,289.08 191.11,289.08" fill="#fff" stroke="#b83c26" stroke-width="1.45" stroke-linejoin="round"/><polygon points="205.92,291.00 208.01,287.48 203.83,287.48" fill="#fff" stroke="#b83c26" stroke-width="1.45" stroke-linejoin="round"/><polygon points="211.01,288.70 213.10,285.18 208.92,285.18" fill="#fff" stroke="#b83c26" stroke-width="1.45" stroke-linejoin="round"/><polygon points="221.19,286.80 223.28,283.28 219.10,283.28" fill="#fff" stroke="#b83c26" stroke-width="1.45" stroke-linejoin="round"/><polygon points="228.83,284.50 230.92,280.98 226.74,280.98" fill="#fff" stroke="#b83c26" stroke-width="1.45" stroke-linejoin="round"/><polyline points="43.05,347.40 50.68,342.00 60.86,333.90 68.50,324.40 78.67,313.70 86.31,300.70 96.49,295.30 104.12,287.20 114.30,279.80 121.94,275.40" fill="none" stroke="#1c88be" stroke-width="1.05"/><line x1="50.68" y1="339.50" x2="50.68" y2="344.50" stroke="#1c88be" stroke-width="1.15"/><line x1="48.68" y1="339.50" x2="52.68" y2="339.50" stroke="#1c88be" stroke-width="1.15"/><line x1="48.68" y1="344.50" x2="52.68" y2="344.50" stroke="#1c88be" stroke-width="1.15"/><line x1="60.86" y1="328.90" x2="60.86" y2="338.90" stroke="#1c88be" stroke-width="1.15"/><line x1="58.86" y1="328.90" x2="62.86" y2="328.90" stroke="#1c88be" stroke-width="1.15"/><line x1="58.86" y1="338.90" x2="62.86" y2="338.90" stroke="#1c88be" stroke-width="1.15"/><line x1="68.50" y1="317.40" x2="68.50" y2="331.40" stroke="#1c88be" stroke-width="1.15"/><line x1="66.50" y1="317.40" x2="70.50" y2="317.40" stroke="#1c88be" stroke-width="1.15"/><line x1="66.50" y1="331.40" x2="70.50" y2="331.40" stroke="#1c88be" stroke-width="1.15"/><line x1="78.67" y1="304.00" x2="78.67" y2="323.40" stroke="#1c88be" stroke-width="1.15"/><line x1="76.67" y1="304.00" x2="80.67" y2="304.00" stroke="#1c88be" stroke-width="1.15"/><line x1="76.67" y1="323.40" x2="80.67" y2="323.40" stroke="#1c88be" stroke-width="1.15"/><line x1="86.31" y1="288.00" x2="86.31" y2="313.40" stroke="#1c88be" stroke-width="1.15"/><line x1="84.31" y1="288.00" x2="88.31" y2="288.00" stroke="#1c88be" stroke-width="1.15"/><line x1="84.31" y1="313.40" x2="88.31" y2="313.40" stroke="#1c88be" stroke-width="1.15"/><line x1="96.49" y1="283.10" x2="96.49" y2="307.50" stroke="#1c88be" stroke-width="1.15"/><line x1="94.49" y1="283.10" x2="98.49" y2="283.10" stroke="#1c88be" stroke-width="1.15"/><line x1="94.49" y1="307.50" x2="98.49" y2="307.50" stroke="#1c88be" stroke-width="1.15"/><line x1="104.12" y1="274.60" x2="104.12" y2="299.80" stroke="#1c88be" stroke-width="1.15"/><line x1="102.12" y1="274.60" x2="106.12" y2="274.60" stroke="#1c88be" stroke-width="1.15"/><line x1="102.12" y1="299.80" x2="106.12" y2="299.80" stroke="#1c88be" stroke-width="1.15"/><line x1="114.30" y1="266.30" x2="114.30" y2="293.30" stroke="#1c88be" stroke-width="1.15"/><line x1="112.30" y1="266.30" x2="116.30" y2="266.30" stroke="#1c88be" stroke-width="1.15"/><line x1="112.30" y1="293.30" x2="116.30" y2="293.30" stroke="#1c88be" stroke-width="1.15"/><line x1="121.94" y1="262.80" x2="121.94" y2="288.00" stroke="#1c88be" stroke-width="1.15"/><line x1="119.94" y1="262.80" x2="123.94" y2="262.80" stroke="#1c88be" stroke-width="1.15"/><line x1="119.94" y1="288.00" x2="123.94" y2="288.00" stroke="#1c88be" stroke-width="1.15"/><circle cx="43.05" cy="347.40" r="1.75" fill="#fff" stroke="#1c88be" stroke-width="1.45"/><circle cx="50.68" cy="342.00" r="1.75" fill="#fff" stroke="#1c88be" stroke-width="1.45"/><circle cx="60.86" cy="333.90" r="1.75" fill="#fff" stroke="#1c88be" stroke-width="1.45"/><circle cx="68.50" cy="324.40" r="1.75" fill="#fff" stroke="#1c88be" stroke-width="1.45"/><circle cx="78.67" cy="313.70" r="1.75" fill="#fff" stroke="#1c88be" stroke-width="1.45"/><circle cx="86.31" cy="300.70" r="1.75" fill="#fff" stroke="#1c88be" stroke-width="1.45"/><circle cx="96.49" cy="295.30" r="1.75" fill="#fff" stroke="#1c88be" stroke-width="1.45"/><circle cx="104.12" cy="287.20" r="1.75" fill="#fff" stroke="#1c88be" stroke-width="1.45"/><circle cx="114.30" cy="279.80" r="1.75" fill="#fff" stroke="#1c88be" stroke-width="1.45"/><circle cx="121.94" cy="275.40" r="1.75" fill="#fff" stroke="#1c88be" stroke-width="1.45"/><line x1="147.00" y1="209.30" x2="156.30" y2="209.30" stroke="#1c88be" stroke-width="0.9"/><circle cx="151.80" cy="209.30" r="1.89" fill="#fff" stroke="#1c88be" stroke-width="1.45"/><text transform="translate(161.20 211.80) scale(0.926 1)" font-size="6.48">PBS, qd × 1</text><line x1="147.00" y1="219.30" x2="156.30" y2="219.30" stroke="#b83c26" stroke-width="0.9"/><polygon points="151.80,221.68 154.06,217.87 149.54,217.87" fill="#fff" stroke="#b83c26" stroke-width="1.45" stroke-linejoin="round"/><text transform="translate(161.20 221.80) scale(0.926 1)" font-size="6.48">ADCT-301, 0.3 mg/kg, qd × 1</text><line x1="147.00" y1="229.30" x2="156.30" y2="229.30" stroke="#666666" stroke-width="0.9"/><polygon points="151.80,227.03 154.07,229.30 151.80,231.57 149.53,229.30" fill="#fff" stroke="#666666" stroke-width="1.45" stroke-linejoin="round"/><text transform="translate(161.20 231.80) scale(0.926 1)" font-size="6.48">ADCT-301, 0.6 mg/kg, qd × 1</text></g><g><text transform="translate(309.80 224.00) scale(0.935 1)" font-size="14.55">E</text><line x1="339.50" y1="246.50" x2="339.50" y2="338.00" stroke="#000" stroke-width="1.0"/><line x1="336.40" y1="337.90" x2="339.50" y2="337.90" stroke="#000" stroke-width="1.0"/><text transform="translate(335.50 340.35) scale(0.833 1)" font-size="7.44" text-anchor="end">0</text><line x1="336.40" y1="319.70" x2="339.50" y2="319.70" stroke="#000" stroke-width="1.0"/><text transform="translate(335.50 322.15) scale(0.833 1)" font-size="7.44" text-anchor="end">2</text><line x1="336.40" y1="301.50" x2="339.50" y2="301.50" stroke="#000" stroke-width="1.0"/><text transform="translate(335.50 303.95) scale(0.833 1)" font-size="7.44" text-anchor="end">4</text><line x1="336.40" y1="283.30" x2="339.50" y2="283.30" stroke="#000" stroke-width="1.0"/><text transform="translate(335.50 285.75) scale(0.833 1)" font-size="7.44" text-anchor="end">6</text><line x1="336.40" y1="265.10" x2="339.50" y2="265.10" stroke="#000" stroke-width="1.0"/><text transform="translate(335.50 267.55) scale(0.833 1)" font-size="7.44" text-anchor="end">8</text><line x1="336.40" y1="246.90" x2="339.50" y2="246.90" stroke="#000" stroke-width="1.0"/><text transform="translate(335.50 249.35) scale(0.833 1)" font-size="7.44" text-anchor="end">10</text><line x1="339.00" y1="337.50" x2="469.60" y2="337.50" stroke="#000" stroke-width="1.0"/><line x1="362.20" y1="337.50" x2="362.20" y2="340.00" stroke="#000" stroke-width="1.0"/><text transform="translate(362.20 348.60) scale(0.833 1)" font-size="7.44" text-anchor="middle">0</text><line x1="407.70" y1="337.50" x2="407.70" y2="340.00" stroke="#000" stroke-width="1.0"/><text transform="translate(407.70 348.60) scale(0.833 1)" font-size="7.44" text-anchor="middle">0.2</text><line x1="452.80" y1="337.50" x2="452.80" y2="340.00" stroke="#000" stroke-width="1.0"/><text transform="translate(452.80 348.60) scale(0.833 1)" font-size="7.44" text-anchor="middle">0.6</text><rect x="346.3" y="260.4" width="31.80" height="77.50" fill="#000"/><line x1="362.20" y1="260.40" x2="362.20" y2="258.60" stroke="#000" stroke-width="1.0"/><line x1="354.30" y1="258.60" x2="370.40" y2="258.60" stroke="#000" stroke-width="1.0"/><rect x="392.0" y="277.3" width="31.40" height="60.60" fill="#000"/><line x1="407.70" y1="277.30" x2="407.70" y2="273.60" stroke="#000" stroke-width="1.0"/><line x1="400.10" y1="273.60" x2="415.10" y2="273.60" stroke="#000" stroke-width="1.0"/><rect x="436.7" y="294.9" width="32.20" height="43.00" fill="#000"/><line x1="452.80" y1="294.90" x2="452.80" y2="292.10" stroke="#000" stroke-width="1.0"/><line x1="444.60" y1="292.10" x2="460.90" y2="292.10" stroke="#000" stroke-width="1.0"/><line x1="361.20" y1="226.50" x2="455.80" y2="226.50" stroke="#000" stroke-width="1.0"/><line x1="361.20" y1="242.00" x2="408.20" y2="242.00" stroke="#000" stroke-width="1.0"/><line x1="407.70" y1="252.80" x2="456.20" y2="252.80" stroke="#000" stroke-width="1.0"/><text transform="translate(407.30 223.20)" font-size="7.00" text-anchor="middle">***</text><text transform="translate(384.40 240.00)" font-size="7.00" text-anchor="middle">**</text><text transform="translate(430.30 250.90)" font-size="7.00" text-anchor="middle">**</text><text transform="translate(407.70 361.20) scale(0.952 1)" font-size="7.85" text-anchor="middle">Administered dose of ADCT-301 (mg/kg)</text><text transform="translate(316.20 291.50) rotate(-90)" font-size="7.50" text-anchor="middle">OTM ± SD</text></g>
</g>
</svg>
</body></html>
